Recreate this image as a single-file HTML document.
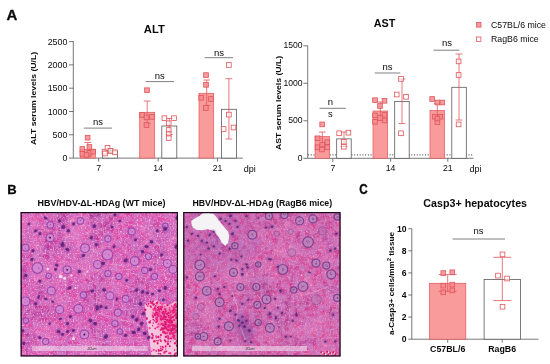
<!DOCTYPE html>
<html><head><meta charset="utf-8"><title>Figure</title>
<style>
html,body{margin:0;padding:0;background:#fff;}
body{width:550px;height:364px;overflow:hidden;}
svg{display:block;font-family:"Liberation Sans",Arial,sans-serif;}
</style></head><body>
<svg width="550" height="364" viewBox="0 0 550 364">
<rect width="550" height="364" fill="#fff"/>
<text x="6.6" y="20.2" font-size="15" text-anchor="start" font-weight="bold" fill="#0a0a0a" stroke="#0a0a0a" stroke-width="0.3">A</text>
<text x="7.3" y="193.9" font-size="13" text-anchor="start" font-weight="bold" fill="#0a0a0a" stroke="#0a0a0a" stroke-width="0.3">B</text>
<text x="359.2" y="194.1" font-size="14.6" text-anchor="start" font-weight="bold" fill="#0a0a0a" textLength="8.4" lengthAdjust="spacingAndGlyphs" stroke="#0a0a0a" stroke-width="0.35">C</text>
<text x="154.3" y="33.3" font-size="11.2" text-anchor="middle" font-weight="bold" fill="#0a0a0a">ALT</text>
<path d="M73.3 41V158.1H242.8" stroke="#555" stroke-width="0.8" fill="none"/>
<path d="M69 158.10H73.3" stroke="#555" stroke-width="0.8"/>
<text x="67.4" y="161.1" font-size="8.9" text-anchor="end" fill="#0a0a0a">0</text>
<path d="M69 134.80H73.3" stroke="#555" stroke-width="0.8"/>
<text x="67.4" y="137.79999999999998" font-size="8.9" text-anchor="end" fill="#0a0a0a">500</text>
<path d="M69 111.50H73.3" stroke="#555" stroke-width="0.8"/>
<text x="67.4" y="114.5" font-size="8.9" text-anchor="end" fill="#0a0a0a">1000</text>
<path d="M69 88.20H73.3" stroke="#555" stroke-width="0.8"/>
<text x="67.4" y="91.19999999999999" font-size="8.9" text-anchor="end" fill="#0a0a0a">1500</text>
<path d="M69 64.90H73.3" stroke="#555" stroke-width="0.8"/>
<text x="67.4" y="67.89999999999999" font-size="8.9" text-anchor="end" fill="#0a0a0a">2000</text>
<path d="M69 41.60H73.3" stroke="#555" stroke-width="0.8"/>
<text x="67.4" y="44.599999999999994" font-size="8.9" text-anchor="end" fill="#0a0a0a">2500</text>
<path d="M98.7 158.1V161.6" stroke="#555" stroke-width="0.8"/>
<text x="98.7" y="171.4" font-size="8.7" text-anchor="middle" fill="#0a0a0a">7</text>
<path d="M158.2 158.1V161.6" stroke="#555" stroke-width="0.8"/>
<text x="158.2" y="171.4" font-size="8.7" text-anchor="middle" fill="#0a0a0a">14</text>
<path d="M217.5 158.1V161.6" stroke="#555" stroke-width="0.8"/>
<text x="217.5" y="171.4" font-size="8.7" text-anchor="middle" fill="#0a0a0a">21</text>
<text x="249.8" y="171.6" font-size="9" text-anchor="middle" fill="#0a0a0a">dpi</text>
<text transform="translate(36.4,98.4) rotate(-90) scale(1,0.9)" font-size="8.65" font-weight="bold" text-anchor="middle" fill="#0a0a0a">ALT serum levels (U/L)</text>
<rect x="80.3" y="149.6" width="15.00" height="8.50" fill="#F99B9B" stroke="#E0555A" stroke-width="0.7"/>
<path d="M87.8 142.5V156.5M84.39999999999999 142.5H91.2M84.39999999999999 156.5H91.2" stroke="#E0555A" stroke-width="0.8" fill="none"/>
<rect x="85.25" y="135.35" width="4.7" height="4.7" fill="#F28C8F" fill-opacity="0.85" stroke="#E0555A" stroke-width="0.8"/>
<rect x="79.95" y="146.65" width="4.7" height="4.7" fill="#F28C8F" fill-opacity="0.85" stroke="#E0555A" stroke-width="0.8"/>
<rect x="79.95" y="151.45" width="4.7" height="4.7" fill="#F28C8F" fill-opacity="0.85" stroke="#E0555A" stroke-width="0.8"/>
<rect x="87.05" y="144.65" width="4.7" height="4.7" fill="#F28C8F" fill-opacity="0.85" stroke="#E0555A" stroke-width="0.8"/>
<rect x="87.05" y="150.45" width="4.7" height="4.7" fill="#F28C8F" fill-opacity="0.85" stroke="#E0555A" stroke-width="0.8"/>
<rect x="90.85" y="149.25" width="4.7" height="4.7" fill="#F28C8F" fill-opacity="0.85" stroke="#E0555A" stroke-width="0.8"/>
<rect x="84.15" y="152.65" width="4.7" height="4.7" fill="#F28C8F" fill-opacity="0.85" stroke="#E0555A" stroke-width="0.8"/>
<rect x="102.4" y="151" width="15.00" height="7.10" fill="#fff" stroke="#5a5a5a" stroke-width="0.8"/>
<path d="M109.9 148.8V153.2M106.5 148.8H113.30000000000001M106.5 153.2H113.30000000000001" stroke="#E0555A" stroke-width="0.8" fill="none"/>
<rect x="102.15" y="149.25" width="4.7" height="4.7" fill="#fff" fill-opacity="0.6" stroke="#E0555A" stroke-width="0.8"/>
<rect x="105.15" y="145.45" width="4.7" height="4.7" fill="#fff" fill-opacity="0.6" stroke="#E0555A" stroke-width="0.8"/>
<rect x="108.15" y="148.45" width="4.7" height="4.7" fill="#fff" fill-opacity="0.6" stroke="#E0555A" stroke-width="0.8"/>
<rect x="112.65" y="149.95" width="4.7" height="4.7" fill="#fff" fill-opacity="0.6" stroke="#E0555A" stroke-width="0.8"/>
<rect x="102.65" y="151.15" width="4.7" height="4.7" fill="#fff" fill-opacity="0.6" stroke="#E0555A" stroke-width="0.8"/>
<text x="98.1" y="125.2" font-size="9.5" text-anchor="middle" fill="#0a0a0a">ns</text>
<path d="M83.8 128.1H112" stroke="#808080" stroke-width="1"/>
<rect x="139.7" y="112.3" width="15.00" height="45.80" fill="#F99B9B" stroke="#E0555A" stroke-width="0.7"/>
<path d="M147.2 101V123.5M143.79999999999998 101H150.6M143.79999999999998 123.5H150.6" stroke="#E0555A" stroke-width="0.8" fill="none"/>
<rect x="144.65" y="87.85" width="4.7" height="4.7" fill="#F28C8F" fill-opacity="0.85" stroke="#E0555A" stroke-width="0.8"/>
<rect x="139.65" y="112.55" width="4.7" height="4.7" fill="#F28C8F" fill-opacity="0.85" stroke="#E0555A" stroke-width="0.8"/>
<rect x="144.15" y="115.05" width="4.7" height="4.7" fill="#F28C8F" fill-opacity="0.85" stroke="#E0555A" stroke-width="0.8"/>
<rect x="149.65" y="114.55" width="4.7" height="4.7" fill="#F28C8F" fill-opacity="0.85" stroke="#E0555A" stroke-width="0.8"/>
<rect x="144.15" y="122.65" width="4.7" height="4.7" fill="#F28C8F" fill-opacity="0.85" stroke="#E0555A" stroke-width="0.8"/>
<rect x="161.8" y="126" width="15.00" height="32.10" fill="#fff" stroke="#5a5a5a" stroke-width="0.8"/>
<path d="M169.3 118.5V134.5M165.9 118.5H172.70000000000002M165.9 134.5H172.70000000000002" stroke="#E0555A" stroke-width="0.8" fill="none"/>
<rect x="162.05" y="115.85" width="4.7" height="4.7" fill="#fff" fill-opacity="0.6" stroke="#E0555A" stroke-width="0.8"/>
<rect x="171.65" y="115.85" width="4.7" height="4.7" fill="#fff" fill-opacity="0.6" stroke="#E0555A" stroke-width="0.8"/>
<rect x="166.35" y="120.95" width="4.7" height="4.7" fill="#fff" fill-opacity="0.6" stroke="#E0555A" stroke-width="0.8"/>
<rect x="166.35" y="127.65" width="4.7" height="4.7" fill="#fff" fill-opacity="0.6" stroke="#E0555A" stroke-width="0.8"/>
<rect x="166.35" y="131.65" width="4.7" height="4.7" fill="#fff" fill-opacity="0.6" stroke="#E0555A" stroke-width="0.8"/>
<rect x="166.35" y="135.65" width="4.7" height="4.7" fill="#fff" fill-opacity="0.6" stroke="#E0555A" stroke-width="0.8"/>
<text x="159.8" y="78.8" font-size="9.5" text-anchor="middle" fill="#0a0a0a">ns</text>
<path d="M145.8 81.6H174" stroke="#808080" stroke-width="1"/>
<rect x="199.0" y="93.3" width="14.70" height="64.80" fill="#F99B9B" stroke="#E0555A" stroke-width="0.7"/>
<path d="M206.7 80V105.4M203.29999999999998 80H210.1M203.29999999999998 105.4H210.1" stroke="#E0555A" stroke-width="0.8" fill="none"/>
<rect x="203.65" y="72.75" width="4.7" height="4.7" fill="#F28C8F" fill-opacity="0.85" stroke="#E0555A" stroke-width="0.8"/>
<rect x="203.65" y="82.45" width="4.7" height="4.7" fill="#F28C8F" fill-opacity="0.85" stroke="#E0555A" stroke-width="0.8"/>
<rect x="198.85" y="95.45" width="4.7" height="4.7" fill="#F28C8F" fill-opacity="0.85" stroke="#E0555A" stroke-width="0.8"/>
<rect x="208.65" y="96.65" width="4.7" height="4.7" fill="#F28C8F" fill-opacity="0.85" stroke="#E0555A" stroke-width="0.8"/>
<rect x="203.45" y="105.65" width="4.7" height="4.7" fill="#F28C8F" fill-opacity="0.85" stroke="#E0555A" stroke-width="0.8"/>
<rect x="221.4" y="109.3" width="15.10" height="48.80" fill="#fff" stroke="#5a5a5a" stroke-width="0.8"/>
<path d="M228.9 78.7V139M225.5 78.7H232.3M225.5 139H232.3" stroke="#E0555A" stroke-width="0.8" fill="none"/>
<rect x="226.55" y="62.65" width="4.7" height="4.7" fill="#fff" fill-opacity="0.6" stroke="#E0555A" stroke-width="0.8"/>
<rect x="226.55" y="112.25" width="4.7" height="4.7" fill="#fff" fill-opacity="0.6" stroke="#E0555A" stroke-width="0.8"/>
<rect x="221.25" y="126.65" width="4.7" height="4.7" fill="#fff" fill-opacity="0.6" stroke="#E0555A" stroke-width="0.8"/>
<rect x="231.15" y="125.15" width="4.7" height="4.7" fill="#fff" fill-opacity="0.6" stroke="#E0555A" stroke-width="0.8"/>
<text x="219" y="55.5" font-size="9.5" text-anchor="middle" fill="#0a0a0a">ns</text>
<path d="M204.6 57.7H233" stroke="#808080" stroke-width="1"/>
<text x="384.5" y="27.3" font-size="10.8" text-anchor="middle" font-weight="bold" fill="#0a0a0a">AST</text>
<path d="M307.7 45.5V158.3H473.5" stroke="#555" stroke-width="0.8" fill="none"/>
<path d="M303.4 158.30H307.7" stroke="#555" stroke-width="0.8"/>
<text x="302.6" y="160.8" font-size="8.6" text-anchor="end" fill="#0a0a0a">0</text>
<path d="M303.4 120.80H307.7" stroke="#555" stroke-width="0.8"/>
<text x="302.6" y="123.30000000000001" font-size="8.6" text-anchor="end" fill="#0a0a0a">500</text>
<path d="M303.4 83.30H307.7" stroke="#555" stroke-width="0.8"/>
<text x="302.6" y="85.80000000000001" font-size="8.6" text-anchor="end" fill="#0a0a0a">1000</text>
<path d="M303.4 45.80H307.7" stroke="#555" stroke-width="0.8"/>
<text x="302.6" y="48.30000000000001" font-size="8.6" text-anchor="end" fill="#0a0a0a">1500</text>
<path d="M332.8 158.3V161.8" stroke="#555" stroke-width="0.8"/>
<text x="332.8" y="171.4" font-size="8.7" text-anchor="middle" fill="#0a0a0a">7</text>
<path d="M390.6 158.3V161.8" stroke="#555" stroke-width="0.8"/>
<text x="390.6" y="171.4" font-size="8.7" text-anchor="middle" fill="#0a0a0a">14</text>
<path d="M447.8 158.3V161.8" stroke="#555" stroke-width="0.8"/>
<text x="447.8" y="171.4" font-size="8.7" text-anchor="middle" fill="#0a0a0a">21</text>
<text x="475.6" y="171.6" font-size="9" text-anchor="middle" fill="#0a0a0a">dpi</text>
<text transform="translate(280.5,102.9) rotate(-90) scale(1,0.9)" font-size="8.65" font-weight="bold" text-anchor="middle" fill="#0a0a0a">AST serum levels (U/L)</text>
<path d="M308 154.9H473" stroke="#333" stroke-width="1" stroke-dasharray="1 1.72"/>
<rect x="315" y="136.6" width="14.60" height="21.70" fill="#F99B9B" stroke="#E0555A" stroke-width="0.7"/>
<path d="M322.3 132V146.5M318.90000000000003 132H325.7M318.90000000000003 146.5H325.7" stroke="#E0555A" stroke-width="0.8" fill="none"/>
<rect x="319.85" y="122.05" width="4.7" height="4.7" fill="#F28C8F" fill-opacity="0.85" stroke="#E0555A" stroke-width="0.8"/>
<rect x="315.25" y="135.95" width="4.7" height="4.7" fill="#F28C8F" fill-opacity="0.85" stroke="#E0555A" stroke-width="0.8"/>
<rect x="315.25" y="144.95" width="4.7" height="4.7" fill="#F28C8F" fill-opacity="0.85" stroke="#E0555A" stroke-width="0.8"/>
<rect x="319.85" y="142.35" width="4.7" height="4.7" fill="#F28C8F" fill-opacity="0.85" stroke="#E0555A" stroke-width="0.8"/>
<rect x="324.95" y="139.85" width="4.7" height="4.7" fill="#F28C8F" fill-opacity="0.85" stroke="#E0555A" stroke-width="0.8"/>
<rect x="324.95" y="144.95" width="4.7" height="4.7" fill="#F28C8F" fill-opacity="0.85" stroke="#E0555A" stroke-width="0.8"/>
<rect x="319.65" y="147.15" width="4.7" height="4.7" fill="#F28C8F" fill-opacity="0.85" stroke="#E0555A" stroke-width="0.8"/>
<rect x="336.7" y="138.9" width="14.50" height="19.40" fill="#fff" stroke="#5a5a5a" stroke-width="0.8"/>
<path d="M344 132V146.5M340.6 132H347.4M340.6 146.5H347.4" stroke="#E0555A" stroke-width="0.8" fill="none"/>
<rect x="336.85" y="130.95" width="4.7" height="4.7" fill="#fff" fill-opacity="0.6" stroke="#E0555A" stroke-width="0.8"/>
<rect x="346.05" y="130.35" width="4.7" height="4.7" fill="#fff" fill-opacity="0.6" stroke="#E0555A" stroke-width="0.8"/>
<rect x="341.45" y="139.35" width="4.7" height="4.7" fill="#fff" fill-opacity="0.6" stroke="#E0555A" stroke-width="0.8"/>
<rect x="341.45" y="144.35" width="4.7" height="4.7" fill="#fff" fill-opacity="0.6" stroke="#E0555A" stroke-width="0.8"/>
<text x="330.3" y="105.4" font-size="9.5" text-anchor="middle" fill="#0a0a0a">n</text>
<path d="M319.6 108.3H345.8" stroke="#808080" stroke-width="1"/>
<text x="330.3" y="116.6" font-size="9.5" text-anchor="middle" fill="#0a0a0a">s</text>
<rect x="373" y="111" width="14.60" height="47.30" fill="#F99B9B" stroke="#E0555A" stroke-width="0.7"/>
<path d="M380.3 102V120M376.90000000000003 102H383.7M376.90000000000003 120H383.7" stroke="#E0555A" stroke-width="0.8" fill="none"/>
<rect x="372.65" y="97.85" width="4.7" height="4.7" fill="#F28C8F" fill-opacity="0.85" stroke="#E0555A" stroke-width="0.8"/>
<rect x="382.15" y="98.45" width="4.7" height="4.7" fill="#F28C8F" fill-opacity="0.85" stroke="#E0555A" stroke-width="0.8"/>
<rect x="377.65" y="103.65" width="4.7" height="4.7" fill="#F28C8F" fill-opacity="0.85" stroke="#E0555A" stroke-width="0.8"/>
<rect x="372.65" y="113.05" width="4.7" height="4.7" fill="#F28C8F" fill-opacity="0.85" stroke="#E0555A" stroke-width="0.8"/>
<rect x="382.15" y="112.35" width="4.7" height="4.7" fill="#F28C8F" fill-opacity="0.85" stroke="#E0555A" stroke-width="0.8"/>
<rect x="372.65" y="119.45" width="4.7" height="4.7" fill="#F28C8F" fill-opacity="0.85" stroke="#E0555A" stroke-width="0.8"/>
<rect x="382.15" y="118.15" width="4.7" height="4.7" fill="#F28C8F" fill-opacity="0.85" stroke="#E0555A" stroke-width="0.8"/>
<rect x="377.65" y="115.65" width="4.7" height="4.7" fill="#F28C8F" fill-opacity="0.85" stroke="#E0555A" stroke-width="0.8"/>
<rect x="394.7" y="101.5" width="14.50" height="56.80" fill="#fff" stroke="#5a5a5a" stroke-width="0.8"/>
<path d="M402 79V123.6M398.6 79H405.4M398.6 123.6H405.4" stroke="#E0555A" stroke-width="0.8" fill="none"/>
<rect x="398.65" y="76.55" width="4.7" height="4.7" fill="#fff" fill-opacity="0.6" stroke="#E0555A" stroke-width="0.8"/>
<rect x="394.35" y="92.15" width="4.7" height="4.7" fill="#fff" fill-opacity="0.6" stroke="#E0555A" stroke-width="0.8"/>
<rect x="403.65" y="94.45" width="4.7" height="4.7" fill="#fff" fill-opacity="0.6" stroke="#E0555A" stroke-width="0.8"/>
<rect x="398.65" y="130.95" width="4.7" height="4.7" fill="#fff" fill-opacity="0.6" stroke="#E0555A" stroke-width="0.8"/>
<text x="387.6" y="70.2" font-size="9.5" text-anchor="middle" fill="#0a0a0a">ns</text>
<path d="M374.8 73H400.3" stroke="#808080" stroke-width="1"/>
<rect x="430" y="110.5" width="14.50" height="47.80" fill="#F99B9B" stroke="#E0555A" stroke-width="0.7"/>
<path d="M437.3 103.6V118M433.90000000000003 103.6H440.7M433.90000000000003 118H440.7" stroke="#E0555A" stroke-width="0.8" fill="none"/>
<rect x="429.85" y="96.65" width="4.7" height="4.7" fill="#F28C8F" fill-opacity="0.85" stroke="#E0555A" stroke-width="0.8"/>
<rect x="435.05" y="100.15" width="4.7" height="4.7" fill="#F28C8F" fill-opacity="0.85" stroke="#E0555A" stroke-width="0.8"/>
<rect x="439.95" y="100.15" width="4.7" height="4.7" fill="#F28C8F" fill-opacity="0.85" stroke="#E0555A" stroke-width="0.8"/>
<rect x="432.65" y="114.35" width="4.7" height="4.7" fill="#F28C8F" fill-opacity="0.85" stroke="#E0555A" stroke-width="0.8"/>
<rect x="438.05" y="114.35" width="4.7" height="4.7" fill="#F28C8F" fill-opacity="0.85" stroke="#E0555A" stroke-width="0.8"/>
<rect x="435.05" y="119.85" width="4.7" height="4.7" fill="#F28C8F" fill-opacity="0.85" stroke="#E0555A" stroke-width="0.8"/>
<rect x="435.05" y="116.15" width="4.7" height="4.7" fill="#F28C8F" fill-opacity="0.85" stroke="#E0555A" stroke-width="0.8"/>
<rect x="451.8" y="87.3" width="14.50" height="71.00" fill="#fff" stroke="#5a5a5a" stroke-width="0.8"/>
<path d="M459 54V120M455.6 54H462.4M455.6 120H462.4" stroke="#E0555A" stroke-width="0.8" fill="none"/>
<rect x="456.25" y="59.05" width="4.7" height="4.7" fill="#fff" fill-opacity="0.6" stroke="#E0555A" stroke-width="0.8"/>
<rect x="456.25" y="72.65" width="4.7" height="4.7" fill="#fff" fill-opacity="0.6" stroke="#E0555A" stroke-width="0.8"/>
<rect x="456.25" y="122.05" width="4.7" height="4.7" fill="#fff" fill-opacity="0.6" stroke="#E0555A" stroke-width="0.8"/>
<text x="446.9" y="46.4" font-size="9.5" text-anchor="middle" fill="#0a0a0a">ns</text>
<path d="M433.5 50.2H459.5" stroke="#808080" stroke-width="1"/>
<rect x="476.40" y="22.50" width="4.6" height="4.6" fill="#F28C8F" fill-opacity="0.85" stroke="#E0555A" stroke-width="0.8"/>
<rect x="476.50" y="37.00" width="4.4" height="4.4" fill="#fff" fill-opacity="0.6" stroke="#E0555A" stroke-width="0.8"/>
<text x="491" y="27.6" font-size="8.75" text-anchor="start" fill="#0a0a0a">C57BL/6 mice</text>
<text x="491" y="41.5" font-size="8.75" text-anchor="start" fill="#0a0a0a">RagB6 mice</text>
<text x="475.2" y="206.8" font-size="10.7" text-anchor="middle" font-weight="bold" fill="#0a0a0a">Casp3+ hepatocytes</text>
<path d="M411.8 228.7V339.2H538.5" stroke="#555" stroke-width="0.8" fill="none"/>
<path d="M408.3 339.20H411.8" stroke="#555" stroke-width="0.8"/>
<text x="406.6" y="342.3" font-size="8.6" text-anchor="end" font-weight="bold" fill="#0a0a0a">0</text>
<path d="M408.3 317.10H411.8" stroke="#555" stroke-width="0.8"/>
<text x="406.6" y="320.2" font-size="8.6" text-anchor="end" font-weight="bold" fill="#0a0a0a">2</text>
<path d="M408.3 295.00H411.8" stroke="#555" stroke-width="0.8"/>
<text x="406.6" y="298.1" font-size="8.6" text-anchor="end" font-weight="bold" fill="#0a0a0a">4</text>
<path d="M408.3 272.90H411.8" stroke="#555" stroke-width="0.8"/>
<text x="406.6" y="276.0" font-size="8.6" text-anchor="end" font-weight="bold" fill="#0a0a0a">6</text>
<path d="M408.3 250.80H411.8" stroke="#555" stroke-width="0.8"/>
<text x="406.6" y="253.89999999999998" font-size="8.6" text-anchor="end" font-weight="bold" fill="#0a0a0a">8</text>
<path d="M408.3 228.70H411.8" stroke="#555" stroke-width="0.8"/>
<text x="406.6" y="231.79999999999998" font-size="8.6" text-anchor="end" font-weight="bold" fill="#0a0a0a">10</text>
<path d="M447.7 339.2V342.7" stroke="#555" stroke-width="0.8"/>
<text x="447.7" y="352.3" font-size="8.8" text-anchor="middle" font-weight="bold" fill="#0a0a0a">C57BL/6</text>
<path d="M502.2 339.2V342.7" stroke="#555" stroke-width="0.8"/>
<text x="502.2" y="352.3" font-size="8.8" text-anchor="middle" font-weight="bold" fill="#0a0a0a">RagB6</text>
<text transform="translate(394,283.5) rotate(-90) scale(1,0.9)" font-size="8.17" font-weight="bold" text-anchor="middle" fill="#0a0a0a">a-Casp3+ cells/mm<tspan dy="-3" font-size="6">2</tspan><tspan dy="3"> tissue</tspan></text>
<rect x="429.4" y="283.3" width="36.40" height="55.90" fill="#F99B9B" stroke="#E0555A" stroke-width="0.7"/>
<path d="M447.7 274.6V291.3M438.7 274.6H456.7M438.7 291.3H456.7" stroke="#E0555A" stroke-width="0.8" fill="none"/>
<rect x="440.95" y="270.75" width="4.7" height="4.7" fill="#F28C8F" fill-opacity="0.85" stroke="#E0555A" stroke-width="0.8"/>
<rect x="449.95" y="269.95" width="4.7" height="4.7" fill="#F28C8F" fill-opacity="0.85" stroke="#E0555A" stroke-width="0.8"/>
<rect x="440.95" y="283.25" width="4.7" height="4.7" fill="#F28C8F" fill-opacity="0.85" stroke="#E0555A" stroke-width="0.8"/>
<rect x="449.95" y="282.25" width="4.7" height="4.7" fill="#F28C8F" fill-opacity="0.85" stroke="#E0555A" stroke-width="0.8"/>
<rect x="440.95" y="289.95" width="4.7" height="4.7" fill="#F28C8F" fill-opacity="0.85" stroke="#E0555A" stroke-width="0.8"/>
<rect x="449.95" y="288.05" width="4.7" height="4.7" fill="#F28C8F" fill-opacity="0.85" stroke="#E0555A" stroke-width="0.8"/>
<rect x="484.1" y="279.4" width="36.40" height="59.80" fill="#fff" stroke="#5a5a5a" stroke-width="0.8"/>
<path d="M502.3 257.3V300.6M493.3 257.3H511.3M493.3 300.6H511.3" stroke="#E0555A" stroke-width="0.8" fill="none"/>
<rect x="500.15" y="252.05" width="4.7" height="4.7" fill="#fff" fill-opacity="0.6" stroke="#E0555A" stroke-width="0.8"/>
<rect x="495.65" y="273.25" width="4.7" height="4.7" fill="#fff" fill-opacity="0.6" stroke="#E0555A" stroke-width="0.8"/>
<rect x="504.75" y="276.15" width="4.7" height="4.7" fill="#fff" fill-opacity="0.6" stroke="#E0555A" stroke-width="0.8"/>
<rect x="500.15" y="304.35" width="4.7" height="4.7" fill="#fff" fill-opacity="0.6" stroke="#E0555A" stroke-width="0.8"/>
<text x="478.6" y="234" font-size="9.5" text-anchor="middle" fill="#0a0a0a">ns</text>
<path d="M452.5 239H505" stroke="#808080" stroke-width="1"/>
<defs>
<clipPath id="c1"><rect x="20.6" y="212.0" width="157.4" height="144.5"/></clipPath>
<clipPath id="c2"><rect x="183.2" y="212.0" width="157.4" height="144.5"/></clipPath>
<filter id="b1" x="-20%" y="-20%" width="140%" height="140%"><feGaussianBlur stdDeviation="0.65"/></filter>
<filter id="b3" x="-20%" y="-20%" width="140%" height="140%"><feGaussianBlur stdDeviation="2.5"/></filter>
<filter id="t1" x="0" y="0" width="100%" height="100%"><feTurbulence type="fractalNoise" baseFrequency="0.22" numOctaves="3" seed="3" result="n"/><feColorMatrix in="n" type="matrix" values="0 0 0 0 0.97  0 0 0 0 0.62  0 0 0 0 0.84  2.4 0 0 0 -1.0"/></filter>
<filter id="t1d" x="0" y="0" width="100%" height="100%"><feTurbulence type="fractalNoise" baseFrequency="0.18" numOctaves="3" seed="11" result="n"/><feColorMatrix in="n" type="matrix" values="0 0 0 0 0.66  0 0 0 0 0.17  0 0 0 0 0.55  0 3.0 0 0 -1.0"/></filter>
<filter id="t2d" x="0" y="0" width="100%" height="100%"><feTurbulence type="fractalNoise" baseFrequency="0.18" numOctaves="3" seed="17" result="n"/><feColorMatrix in="n" type="matrix" values="0 0 0 0 0.62  0 0 0 0 0.19  0 0 0 0 0.50  0 3.0 0 0 -1.0"/></filter>
<filter id="t1h" x="0" y="0" width="100%" height="100%"><feTurbulence type="fractalNoise" baseFrequency="0.75" numOctaves="1" seed="41" result="n"/><feColorMatrix in="n" type="matrix" values="0 0 0 0 1  0 0 0 0 0.82  0 0 0 0 0.94  3.4 0 0 0 -1.75"/></filter>
<filter id="t1p" x="0" y="0" width="100%" height="100%"><feTurbulence type="fractalNoise" baseFrequency="0.33" numOctaves="2" seed="29" result="n"/><feColorMatrix in="n" type="matrix" values="0 0 0 0 0.50  0 0 0 0 0.17  0 0 0 0 0.58  0 0 3.2 0 -1.55"/></filter>
</defs>
<g clip-path="url(#c1)">
<rect x="20.6" y="212.0" width="157.4" height="144.5" fill="#DE40A0"/>
<g filter="url(#b3)">
<ellipse cx="71.6" cy="233.8" rx="9.6" ry="5.5" fill="#EE74BE" opacity="0.55"/>
<ellipse cx="78.2" cy="220.4" rx="8.6" ry="5.3" fill="#EE74BE" opacity="0.55"/>
<ellipse cx="31.6" cy="225.1" rx="8.0" ry="10.8" fill="#EE74BE" opacity="0.55"/>
<ellipse cx="55.7" cy="302.7" rx="11.6" ry="9.0" fill="#EE74BE" opacity="0.55"/>
<ellipse cx="174.3" cy="218.7" rx="11.0" ry="7.0" fill="#EE74BE" opacity="0.55"/>
<ellipse cx="39.1" cy="256.6" rx="10.7" ry="6.3" fill="#B22A8C" opacity="0.55"/>
<ellipse cx="121.2" cy="265.8" rx="8.8" ry="5.4" fill="#EE74BE" opacity="0.55"/>
<ellipse cx="53.0" cy="310.3" rx="8.0" ry="7.2" fill="#B22A8C" opacity="0.55"/>
<ellipse cx="91.9" cy="255.3" rx="10.6" ry="9.9" fill="#EE74BE" opacity="0.55"/>
<ellipse cx="111.0" cy="287.9" rx="11.1" ry="10.1" fill="#EE74BE" opacity="0.55"/>
<ellipse cx="174.9" cy="229.1" rx="7.9" ry="10.3" fill="#EE74BE" opacity="0.55"/>
<ellipse cx="97.6" cy="217.7" rx="9.7" ry="10.4" fill="#B22A8C" opacity="0.55"/>
<ellipse cx="158.4" cy="257.3" rx="9.9" ry="9.2" fill="#B22A8C" opacity="0.55"/>
<ellipse cx="92.4" cy="333.4" rx="11.6" ry="8.3" fill="#B22A8C" opacity="0.55"/>
<ellipse cx="30.1" cy="313.4" rx="9.5" ry="12.0" fill="#B22A8C" opacity="0.55"/>
<ellipse cx="65.4" cy="267.7" rx="9.7" ry="5.2" fill="#EE74BE" opacity="0.55"/>
<ellipse cx="47.1" cy="228.9" rx="5.4" ry="10.4" fill="#EE74BE" opacity="0.55"/>
<ellipse cx="59.6" cy="268.5" rx="11.1" ry="5.6" fill="#EE74BE" opacity="0.55"/>
<ellipse cx="107.1" cy="339.6" rx="10.7" ry="11.0" fill="#EE74BE" opacity="0.55"/>
<ellipse cx="86.0" cy="263.8" rx="11.2" ry="11.7" fill="#EE74BE" opacity="0.55"/>
<ellipse cx="48.3" cy="245.5" rx="6.6" ry="8.4" fill="#B22A8C" opacity="0.55"/>
<ellipse cx="62.0" cy="212.6" rx="7.9" ry="7.6" fill="#B22A8C" opacity="0.55"/>
<ellipse cx="170.6" cy="311.8" rx="8.6" ry="9.3" fill="#B22A8C" opacity="0.55"/>
<ellipse cx="29.1" cy="342.0" rx="10.5" ry="11.1" fill="#B22A8C" opacity="0.55"/>
<ellipse cx="82.4" cy="269.7" rx="5.7" ry="9.4" fill="#EE74BE" opacity="0.55"/>
<ellipse cx="31.2" cy="242.2" rx="6.1" ry="7.4" fill="#EE74BE" opacity="0.55"/>
<ellipse cx="20.6" cy="233.9" rx="5.7" ry="7.5" fill="#EE74BE" opacity="0.55"/>
<ellipse cx="158.2" cy="300.7" rx="6.0" ry="6.8" fill="#EE74BE" opacity="0.55"/>
<ellipse cx="77.9" cy="229.8" rx="10.9" ry="12.0" fill="#EE74BE" opacity="0.55"/>
<ellipse cx="96.8" cy="224.4" rx="5.7" ry="7.4" fill="#EE74BE" opacity="0.55"/>
<ellipse cx="151.1" cy="235.3" rx="5.2" ry="11.7" fill="#EE74BE" opacity="0.55"/>
<ellipse cx="43.7" cy="290.5" rx="5.2" ry="8.7" fill="#B22A8C" opacity="0.55"/>
<ellipse cx="156.5" cy="312.6" rx="6.8" ry="7.6" fill="#EE74BE" opacity="0.55"/>
<ellipse cx="142.1" cy="289.0" rx="10.5" ry="7.3" fill="#EE74BE" opacity="0.55"/>
<ellipse cx="148.3" cy="354.3" rx="11.0" ry="10.6" fill="#B22A8C" opacity="0.55"/>
<ellipse cx="137.1" cy="244.8" rx="8.6" ry="7.5" fill="#EE74BE" opacity="0.55"/>
<ellipse cx="25.0" cy="252.4" rx="6.8" ry="9.8" fill="#B22A8C" opacity="0.55"/>
<ellipse cx="91.0" cy="347.4" rx="11.9" ry="11.7" fill="#EE74BE" opacity="0.55"/>
<ellipse cx="55.3" cy="244.8" rx="6.4" ry="6.4" fill="#B22A8C" opacity="0.55"/>
<ellipse cx="162.3" cy="333.4" rx="8.4" ry="9.6" fill="#B22A8C" opacity="0.55"/>
<ellipse cx="33.9" cy="307.5" rx="11.4" ry="10.5" fill="#B22A8C" opacity="0.55"/>
<ellipse cx="95.8" cy="237.8" rx="10.5" ry="7.3" fill="#B22A8C" opacity="0.55"/>
<ellipse cx="173.5" cy="269.2" rx="7.8" ry="11.6" fill="#B22A8C" opacity="0.55"/>
<ellipse cx="47.4" cy="230.4" rx="6.1" ry="11.3" fill="#B22A8C" opacity="0.55"/>
<ellipse cx="43.6" cy="331.4" rx="11.9" ry="9.6" fill="#EE74BE" opacity="0.55"/>
<ellipse cx="107.0" cy="230.9" rx="5.1" ry="11.8" fill="#B22A8C" opacity="0.55"/>
<ellipse cx="103.5" cy="346.9" rx="8.0" ry="11.1" fill="#B22A8C" opacity="0.55"/>
<ellipse cx="53.8" cy="248.4" rx="7.1" ry="6.7" fill="#B22A8C" opacity="0.55"/>
<ellipse cx="61.4" cy="272.5" rx="5.9" ry="11.4" fill="#EE74BE" opacity="0.55"/>
<ellipse cx="92.7" cy="296.3" rx="11.3" ry="7.9" fill="#B22A8C" opacity="0.55"/>
<ellipse cx="99.6" cy="288.8" rx="8.7" ry="5.1" fill="#EE74BE" opacity="0.55"/>
<ellipse cx="49.4" cy="212.6" rx="10.6" ry="6.2" fill="#EE74BE" opacity="0.55"/>
<ellipse cx="134.7" cy="292.4" rx="7.3" ry="8.6" fill="#B22A8C" opacity="0.55"/>
<ellipse cx="144.0" cy="227.3" rx="8.9" ry="6.7" fill="#EE74BE" opacity="0.55"/>
<ellipse cx="142.2" cy="285.4" rx="8.9" ry="10.3" fill="#B22A8C" opacity="0.55"/>
<ellipse cx="90.4" cy="300.5" rx="8.5" ry="8.6" fill="#B22A8C" opacity="0.55"/>
<ellipse cx="91.8" cy="289.1" rx="8.3" ry="11.6" fill="#B22A8C" opacity="0.55"/>
<ellipse cx="158.6" cy="348.1" rx="6.8" ry="8.9" fill="#B22A8C" opacity="0.55"/>
<ellipse cx="152.8" cy="231.8" rx="5.9" ry="8.1" fill="#EE74BE" opacity="0.55"/>
<ellipse cx="58.5" cy="222.6" rx="9.7" ry="10.5" fill="#B22A8C" opacity="0.55"/>
<ellipse cx="44.9" cy="315.5" rx="9.6" ry="6.0" fill="#B22A8C" opacity="0.55"/>
<ellipse cx="172.9" cy="243.7" rx="11.7" ry="7.8" fill="#EE74BE" opacity="0.55"/>
<ellipse cx="176.4" cy="332.3" rx="6.1" ry="8.0" fill="#EE74BE" opacity="0.55"/>
<ellipse cx="74.0" cy="240.3" rx="7.2" ry="10.1" fill="#EE74BE" opacity="0.55"/>
<ellipse cx="107.8" cy="275.6" rx="5.1" ry="7.3" fill="#B22A8C" opacity="0.55"/>
<ellipse cx="101.2" cy="221.3" rx="11.9" ry="10.5" fill="#B22A8C" opacity="0.55"/>
<ellipse cx="37.1" cy="250.4" rx="5.3" ry="10.5" fill="#EE74BE" opacity="0.55"/>
<ellipse cx="41.0" cy="273.0" rx="11.4" ry="10.7" fill="#EE74BE" opacity="0.55"/>
<ellipse cx="44.1" cy="344.8" rx="9.0" ry="9.9" fill="#EE74BE" opacity="0.55"/>
<ellipse cx="29.7" cy="311.4" rx="8.0" ry="5.5" fill="#B22A8C" opacity="0.55"/>
<ellipse cx="120.5" cy="327.8" rx="3.4" ry="7.3" fill="#8E40A2" opacity="0.4"/>
<ellipse cx="31.1" cy="336.7" rx="5.3" ry="4.7" fill="#8E40A2" opacity="0.4"/>
<ellipse cx="107.7" cy="345.9" rx="4.3" ry="3.6" fill="#8E40A2" opacity="0.4"/>
<ellipse cx="103.5" cy="246.5" rx="3.5" ry="3.8" fill="#8E40A2" opacity="0.4"/>
<ellipse cx="28.5" cy="241.2" rx="4.6" ry="4.5" fill="#8E40A2" opacity="0.4"/>
<ellipse cx="140.1" cy="253.9" rx="5.5" ry="3.9" fill="#8E40A2" opacity="0.4"/>
<ellipse cx="75.2" cy="214.6" rx="4.3" ry="3.1" fill="#8E40A2" opacity="0.4"/>
<ellipse cx="136.0" cy="291.6" rx="3.9" ry="5.4" fill="#8E40A2" opacity="0.4"/>
<ellipse cx="167.7" cy="227.4" rx="7.1" ry="5.2" fill="#8E40A2" opacity="0.4"/>
<ellipse cx="98.5" cy="332.6" rx="5.0" ry="5.5" fill="#8E40A2" opacity="0.4"/>
<ellipse cx="128.9" cy="354.0" rx="4.7" ry="7.2" fill="#8E40A2" opacity="0.4"/>
<ellipse cx="131.8" cy="303.9" rx="5.0" ry="4.7" fill="#8E40A2" opacity="0.4"/>
<ellipse cx="29.2" cy="230.8" rx="3.4" ry="6.7" fill="#8E40A2" opacity="0.4"/>
<ellipse cx="60.8" cy="235.6" rx="3.4" ry="7.2" fill="#8E40A2" opacity="0.4"/>
<ellipse cx="157.6" cy="308.9" rx="4.4" ry="4.2" fill="#8E40A2" opacity="0.4"/>
<ellipse cx="66.7" cy="278.4" rx="3.8" ry="5.2" fill="#8E40A2" opacity="0.4"/>
<ellipse cx="62.0" cy="351.0" rx="7.9" ry="5.7" fill="#8E40A2" opacity="0.4"/>
<ellipse cx="59.1" cy="351.5" rx="4.5" ry="4.8" fill="#8E40A2" opacity="0.4"/>
<ellipse cx="20.8" cy="267.1" rx="5.4" ry="5.5" fill="#8E40A2" opacity="0.4"/>
<ellipse cx="52.2" cy="284.9" rx="3.0" ry="4.3" fill="#8E40A2" opacity="0.4"/>
<ellipse cx="34.7" cy="269.7" rx="3.2" ry="3.1" fill="#8E40A2" opacity="0.4"/>
<ellipse cx="68.5" cy="245.6" rx="5.9" ry="5.6" fill="#8E40A2" opacity="0.4"/>
<ellipse cx="138.7" cy="307.0" rx="6.6" ry="7.4" fill="#8E40A2" opacity="0.4"/>
<ellipse cx="81.9" cy="259.1" rx="7.9" ry="3.7" fill="#8E40A2" opacity="0.4"/>
<ellipse cx="134.6" cy="304.9" rx="3.2" ry="7.2" fill="#8E40A2" opacity="0.4"/>
<ellipse cx="161.0" cy="302.6" rx="6.7" ry="7.1" fill="#8E40A2" opacity="0.4"/>
<ellipse cx="42.5" cy="287.7" rx="5.5" ry="7.2" fill="#8E40A2" opacity="0.4"/>
<ellipse cx="147.3" cy="331.4" rx="5.9" ry="7.5" fill="#8E40A2" opacity="0.4"/>
<ellipse cx="128.1" cy="312.2" rx="4.1" ry="3.2" fill="#8E40A2" opacity="0.4"/>
<ellipse cx="41.5" cy="264.1" rx="3.5" ry="7.2" fill="#8E40A2" opacity="0.4"/>
<ellipse cx="108.5" cy="302.7" rx="6.1" ry="6.4" fill="#8E40A2" opacity="0.4"/>
<ellipse cx="97.6" cy="212.5" rx="7.0" ry="6.7" fill="#8E40A2" opacity="0.4"/>
<ellipse cx="99.8" cy="289.3" rx="6.3" ry="3.3" fill="#8E40A2" opacity="0.4"/>
<ellipse cx="136.6" cy="248.4" rx="3.4" ry="4.3" fill="#8E40A2" opacity="0.4"/>
<ellipse cx="135.4" cy="241.7" rx="6.7" ry="7.9" fill="#8E40A2" opacity="0.4"/>
<ellipse cx="98.3" cy="267.3" rx="5.4" ry="6.4" fill="#8E40A2" opacity="0.4"/>
<ellipse cx="141.3" cy="301.2" rx="6.2" ry="3.4" fill="#8E40A2" opacity="0.4"/>
<ellipse cx="43.8" cy="248.7" rx="6.7" ry="4.5" fill="#8E40A2" opacity="0.4"/>
<ellipse cx="110.0" cy="213.8" rx="3.3" ry="4.3" fill="#8E40A2" opacity="0.4"/>
<ellipse cx="126.4" cy="312.0" rx="6.4" ry="4.5" fill="#8E40A2" opacity="0.4"/>
<ellipse cx="101.9" cy="279.1" rx="5.3" ry="3.6" fill="#8E40A2" opacity="0.4"/>
<ellipse cx="161.3" cy="240.8" rx="7.9" ry="7.7" fill="#8E40A2" opacity="0.4"/>
<ellipse cx="23.4" cy="278.3" rx="7.1" ry="7.8" fill="#8E40A2" opacity="0.4"/>
<ellipse cx="91.3" cy="250.8" rx="4.0" ry="7.7" fill="#8E40A2" opacity="0.4"/>
<ellipse cx="53.8" cy="296.0" rx="3.7" ry="5.6" fill="#8E40A2" opacity="0.4"/>
<ellipse cx="170.6" cy="231.2" rx="7.1" ry="5.5" fill="#8E40A2" opacity="0.4"/>
<ellipse cx="160.2" cy="313.6" rx="4.2" ry="7.5" fill="#8E40A2" opacity="0.4"/>
<ellipse cx="97.1" cy="215.6" rx="3.0" ry="5.5" fill="#8E40A2" opacity="0.4"/>
<ellipse cx="91.5" cy="255.6" rx="3.7" ry="4.7" fill="#8E40A2" opacity="0.4"/>
<ellipse cx="70.4" cy="333.4" rx="3.0" ry="6.8" fill="#8E40A2" opacity="0.4"/>
<ellipse cx="152.7" cy="229.3" rx="7.6" ry="6.6" fill="#8E40A2" opacity="0.4"/>
<ellipse cx="162.5" cy="253.9" rx="4.9" ry="5.0" fill="#8E40A2" opacity="0.4"/>
<ellipse cx="177.8" cy="297.1" rx="4.8" ry="5.1" fill="#8E40A2" opacity="0.4"/>
<ellipse cx="63.9" cy="219.0" rx="3.5" ry="7.2" fill="#8E40A2" opacity="0.4"/>
<ellipse cx="65.6" cy="347.2" rx="4.2" ry="4.3" fill="#8E40A2" opacity="0.4"/>
</g>
<g filter="url(#b1)" fill="none" stroke-linecap="round">
<path d="M178.0 313.6Q178.1 334.8 178.0 356.5" stroke="#FCD2EA" stroke-opacity="0.32" stroke-width="0.68"/>
<path d="M178.0 313.6Q178.1 334.8 178.0 356.5" stroke="#B22A8C" stroke-opacity="0.25" stroke-width="2.2"/>
<path d="M71.0 236.5Q73.5 224.3 74.0 212.0" stroke="#FCD2EA" stroke-opacity="0.34" stroke-width="1.05"/>

<path d="M74.0 212.0Q64.0 211.1 54.2 212.0" stroke="#FCD2EA" stroke-opacity="0.33" stroke-width="0.65"/>
<path d="M74.0 212.0Q64.0 211.1 54.2 212.0" stroke="#B22A8C" stroke-opacity="0.25" stroke-width="2.2"/>
<path d="M61.6 231.5Q56.9 221.1 54.2 212.0" stroke="#FCD2EA" stroke-opacity="0.35" stroke-width="0.88"/>

<path d="M61.6 231.5Q66.0 234.4 69.1 237.8" stroke="#FCD2EA" stroke-opacity="0.42" stroke-width="0.86"/>

<path d="M69.1 237.8Q69.6 236.0 71.0 236.5" stroke="#FCD2EA" stroke-opacity="0.36" stroke-width="1.08"/>
<path d="M69.1 237.8Q69.6 236.0 71.0 236.5" stroke="#B22A8C" stroke-opacity="0.25" stroke-width="2.2"/>
<path d="M20.6 212.0Q37.4 212.3 54.2 212.0" stroke="#FCD2EA" stroke-opacity="0.60" stroke-width="0.71"/>
<path d="M20.6 212.0Q37.4 212.3 54.2 212.0" stroke="#B22A8C" stroke-opacity="0.25" stroke-width="2.2"/>
<path d="M19.0 208.3Q19.2 209.9 20.6 212.0" stroke="#FCD2EA" stroke-opacity="0.43" stroke-width="1.08"/>

<path d="M33.1 231.0Q27.8 223.0 20.6 217.4" stroke="#FCD2EA" stroke-opacity="0.26" stroke-width="0.95"/>

<path d="M33.1 231.0Q37.3 241.7 41.6 252.0" stroke="#FCD2EA" stroke-opacity="0.25" stroke-width="0.80"/>

<path d="M20.6 217.4Q21.4 241.7 20.6 264.2" stroke="#FCD2EA" stroke-opacity="0.64" stroke-width="0.72"/>
<path d="M20.6 217.4Q21.4 241.7 20.6 264.2" stroke="#B22A8C" stroke-opacity="0.25" stroke-width="2.2"/>
<path d="M41.6 252.0Q30.2 258.1 20.6 264.2" stroke="#FCD2EA" stroke-opacity="0.52" stroke-width="1.07"/>

<path d="M20.6 212.0Q21.0 215.4 20.6 217.4" stroke="#FCD2EA" stroke-opacity="0.43" stroke-width="0.88"/>
<path d="M20.6 212.0Q21.0 215.4 20.6 217.4" stroke="#B22A8C" stroke-opacity="0.25" stroke-width="2.2"/>
<path d="M61.6 231.5Q48.0 230.6 33.1 231.0" stroke="#FCD2EA" stroke-opacity="0.62" stroke-width="0.92"/>
<path d="M61.6 231.5Q48.0 230.6 33.1 231.0" stroke="#B22A8C" stroke-opacity="0.25" stroke-width="2.2"/>
<path d="M65.4 250.2Q58.2 252.9 53.0 256.8" stroke="#FCD2EA" stroke-opacity="0.50" stroke-width="0.95"/>
<path d="M65.4 250.2Q58.2 252.9 53.0 256.8" stroke="#B22A8C" stroke-opacity="0.25" stroke-width="2.2"/>
<path d="M53.0 256.8Q46.2 254.4 41.6 252.0" stroke="#FCD2EA" stroke-opacity="0.48" stroke-width="0.79"/>
<path d="M53.0 256.8Q46.2 254.4 41.6 252.0" stroke="#B22A8C" stroke-opacity="0.25" stroke-width="2.2"/>
<path d="M65.4 250.2Q67.5 242.8 69.1 237.8" stroke="#FCD2EA" stroke-opacity="0.37" stroke-width="0.83"/>

<path d="M33.7 285.5Q27.5 284.2 20.6 280.9" stroke="#FCD2EA" stroke-opacity="0.44" stroke-width="0.72"/>
<path d="M33.7 285.5Q27.5 284.2 20.6 280.9" stroke="#B22A8C" stroke-opacity="0.25" stroke-width="2.2"/>
<path d="M53.0 257.4Q44.5 272.0 33.7 285.5" stroke="#FCD2EA" stroke-opacity="0.37" stroke-width="0.61"/>

<path d="M53.0 256.8Q53.4 256.9 53.0 257.4" stroke="#FCD2EA" stroke-opacity="0.35" stroke-width="0.93"/>

<path d="M20.6 280.9Q19.9 271.4 20.6 264.2" stroke="#FCD2EA" stroke-opacity="0.39" stroke-width="0.81"/>

<path d="M20.6 280.9Q19.8 296.7 20.6 311.1" stroke="#FCD2EA" stroke-opacity="0.55" stroke-width="0.85"/>
<path d="M20.6 280.9Q19.8 296.7 20.6 311.1" stroke="#B22A8C" stroke-opacity="0.25" stroke-width="2.2"/>
<path d="M178.0 212.0Q166.1 211.5 151.8 212.0" stroke="#FCD2EA" stroke-opacity="0.58" stroke-width="0.72"/>
<path d="M178.0 212.0Q166.1 211.5 151.8 212.0" stroke="#B22A8C" stroke-opacity="0.25" stroke-width="2.2"/>
<path d="M74.0 212.0Q90.5 211.5 105.7 212.0" stroke="#FCD2EA" stroke-opacity="0.63" stroke-width="0.85"/>
<path d="M74.0 212.0Q90.5 211.5 105.7 212.0" stroke="#B22A8C" stroke-opacity="0.25" stroke-width="2.2"/>
<path d="M151.8 212.0Q129.3 211.8 108.1 212.0" stroke="#FCD2EA" stroke-opacity="0.52" stroke-width="1.07"/>
<path d="M151.8 212.0Q129.3 211.8 108.1 212.0" stroke="#B22A8C" stroke-opacity="0.25" stroke-width="2.2"/>
<path d="M102.4 336.9Q114.7 328.3 127.5 321.2" stroke="#FCD2EA" stroke-opacity="0.64" stroke-width="0.67"/>
<path d="M102.4 336.9Q114.7 328.3 127.5 321.2" stroke="#B22A8C" stroke-opacity="0.25" stroke-width="2.2"/>
<path d="M127.5 321.2Q111.6 316.9 97.9 313.1" stroke="#FCD2EA" stroke-opacity="0.61" stroke-width="1.04"/>

<path d="M102.4 336.9Q100.3 328.7 95.8 318.3" stroke="#FCD2EA" stroke-opacity="0.38" stroke-width="0.69"/>

<path d="M95.8 318.3Q97.4 314.5 97.9 313.1" stroke="#FCD2EA" stroke-opacity="0.52" stroke-width="0.79"/>

<path d="M137.5 291.1Q132.7 299.6 128.7 309.8" stroke="#FCD2EA" stroke-opacity="0.25" stroke-width="0.74"/>

<path d="M137.5 291.1Q133.4 287.7 126.9 286.2" stroke="#FCD2EA" stroke-opacity="0.64" stroke-width="0.70"/>

<path d="M126.9 286.2Q124.0 288.1 119.5 288.5" stroke="#FCD2EA" stroke-opacity="0.42" stroke-width="0.62"/>

<path d="M119.5 288.5Q117.8 296.7 116.8 302.9" stroke="#FCD2EA" stroke-opacity="0.33" stroke-width="0.78"/>

<path d="M128.7 309.8Q121.6 306.1 116.8 302.9" stroke="#FCD2EA" stroke-opacity="0.57" stroke-width="0.98"/>
<path d="M128.7 309.8Q121.6 306.1 116.8 302.9" stroke="#B22A8C" stroke-opacity="0.25" stroke-width="2.2"/>
<path d="M158.9 309.1Q148.1 316.3 139.5 325.7" stroke="#FCD2EA" stroke-opacity="0.62" stroke-width="0.73"/>

<path d="M158.9 309.1Q156.2 300.8 151.6 293.3" stroke="#FCD2EA" stroke-opacity="0.36" stroke-width="1.08"/>

<path d="M151.6 293.3Q148.1 292.3 145.7 290.2" stroke="#FCD2EA" stroke-opacity="0.38" stroke-width="0.74"/>
<path d="M151.6 293.3Q148.1 292.3 145.7 290.2" stroke="#B22A8C" stroke-opacity="0.25" stroke-width="2.2"/>
<path d="M145.7 290.2Q142.3 291.7 137.5 291.1" stroke="#FCD2EA" stroke-opacity="0.50" stroke-width="1.07"/>
<path d="M145.7 290.2Q142.3 291.7 137.5 291.1" stroke="#B22A8C" stroke-opacity="0.25" stroke-width="2.2"/>
<path d="M139.5 325.7Q135.4 323.1 132.6 320.7" stroke="#FCD2EA" stroke-opacity="0.63" stroke-width="1.08"/>

<path d="M132.6 320.7Q130.1 315.0 128.7 309.8" stroke="#FCD2EA" stroke-opacity="0.45" stroke-width="1.06"/>
<path d="M132.6 320.7Q130.1 315.0 128.7 309.8" stroke="#B22A8C" stroke-opacity="0.25" stroke-width="2.2"/>
<path d="M97.0 285.7Q97.3 297.1 96.2 307.3" stroke="#FCD2EA" stroke-opacity="0.58" stroke-width="0.99"/>

<path d="M97.0 285.7Q103.4 284.6 110.7 284.5" stroke="#FCD2EA" stroke-opacity="0.39" stroke-width="0.99"/>
<path d="M97.0 285.7Q103.4 284.6 110.7 284.5" stroke="#B22A8C" stroke-opacity="0.25" stroke-width="2.2"/>
<path d="M110.7 284.5Q114.4 287.1 119.5 288.5" stroke="#FCD2EA" stroke-opacity="0.35" stroke-width="0.63"/>
<path d="M110.7 284.5Q114.4 287.1 119.5 288.5" stroke="#B22A8C" stroke-opacity="0.25" stroke-width="2.2"/>
<path d="M96.2 307.3Q97.2 309.1 98.0 311.8" stroke="#FCD2EA" stroke-opacity="0.64" stroke-width="1.04"/>

<path d="M98.0 311.8Q106.8 306.3 116.8 302.9" stroke="#FCD2EA" stroke-opacity="0.29" stroke-width="0.85"/>

<path d="M127.5 321.2Q129.9 320.3 132.6 320.7" stroke="#FCD2EA" stroke-opacity="0.42" stroke-width="0.91"/>

<path d="M97.9 313.1Q98.6 313.3 98.0 311.8" stroke="#FCD2EA" stroke-opacity="0.52" stroke-width="0.66"/>

<path d="M34.3 286.0Q37.8 296.2 42.5 306.1" stroke="#FCD2EA" stroke-opacity="0.40" stroke-width="0.97"/>
<path d="M34.3 286.0Q37.8 296.2 42.5 306.1" stroke="#B22A8C" stroke-opacity="0.25" stroke-width="2.2"/>
<path d="M34.3 286.0Q46.9 283.1 60.7 281.5" stroke="#FCD2EA" stroke-opacity="0.31" stroke-width="1.04"/>

<path d="M42.5 306.1Q54.3 300.4 67.0 295.2" stroke="#FCD2EA" stroke-opacity="0.65" stroke-width="0.85"/>
<path d="M42.5 306.1Q54.3 300.4 67.0 295.2" stroke="#B22A8C" stroke-opacity="0.25" stroke-width="2.2"/>
<path d="M60.7 281.5Q65.2 284.7 68.1 287.0" stroke="#FCD2EA" stroke-opacity="0.65" stroke-width="0.65"/>

<path d="M68.1 287.0Q68.3 292.0 67.0 295.2" stroke="#FCD2EA" stroke-opacity="0.62" stroke-width="0.62"/>
<path d="M68.1 287.0Q68.3 292.0 67.0 295.2" stroke="#B22A8C" stroke-opacity="0.25" stroke-width="2.2"/>
<path d="M33.7 285.5Q33.1 285.0 34.3 286.0" stroke="#FCD2EA" stroke-opacity="0.64" stroke-width="0.89"/>

<path d="M41.3 310.7Q30.6 311.8 20.6 311.1" stroke="#FCD2EA" stroke-opacity="0.43" stroke-width="0.73"/>

<path d="M41.3 310.7Q43.0 307.4 42.5 306.1" stroke="#FCD2EA" stroke-opacity="0.49" stroke-width="0.91"/>
<path d="M41.3 310.7Q43.0 307.4 42.5 306.1" stroke="#B22A8C" stroke-opacity="0.25" stroke-width="2.2"/>
<path d="M53.0 257.4Q56.5 268.6 60.7 281.5" stroke="#FCD2EA" stroke-opacity="0.33" stroke-width="0.73"/>

<path d="M65.4 250.2Q73.1 255.5 80.0 262.3" stroke="#FCD2EA" stroke-opacity="0.25" stroke-width="0.76"/>

<path d="M84.0 276.7Q75.3 281.4 68.1 287.0" stroke="#FCD2EA" stroke-opacity="0.33" stroke-width="1.00"/>

<path d="M84.0 276.7Q82.8 274.9 83.8 275.1" stroke="#FCD2EA" stroke-opacity="0.41" stroke-width="0.88"/>

<path d="M83.8 275.1Q80.9 267.9 80.0 262.3" stroke="#FCD2EA" stroke-opacity="0.53" stroke-width="0.80"/>
<path d="M83.8 275.1Q80.9 267.9 80.0 262.3" stroke="#B22A8C" stroke-opacity="0.25" stroke-width="2.2"/>
<path d="M96.2 307.3Q81.8 303.5 68.4 297.4" stroke="#FCD2EA" stroke-opacity="0.37" stroke-width="0.88"/>

<path d="M68.4 297.4Q67.5 297.2 67.0 295.2" stroke="#FCD2EA" stroke-opacity="0.65" stroke-width="0.78"/>
<path d="M68.4 297.4Q67.5 297.2 67.0 295.2" stroke="#B22A8C" stroke-opacity="0.25" stroke-width="2.2"/>
<path d="M92.6 280.7Q95.4 282.4 97.0 285.7" stroke="#FCD2EA" stroke-opacity="0.25" stroke-width="1.05"/>

<path d="M92.6 280.7Q89.1 278.4 84.0 276.7" stroke="#FCD2EA" stroke-opacity="0.60" stroke-width="0.83"/>
<path d="M92.6 280.7Q89.1 278.4 84.0 276.7" stroke="#B22A8C" stroke-opacity="0.25" stroke-width="2.2"/>
<path d="M68.4 297.4Q67.5 303.6 69.0 309.5" stroke="#FCD2EA" stroke-opacity="0.51" stroke-width="1.05"/>
<path d="M68.4 297.4Q67.5 303.6 69.0 309.5" stroke="#B22A8C" stroke-opacity="0.25" stroke-width="2.2"/>
<path d="M41.3 310.7Q43.5 316.2 45.1 322.3" stroke="#FCD2EA" stroke-opacity="0.45" stroke-width="0.67"/>
<path d="M41.3 310.7Q43.5 316.2 45.1 322.3" stroke="#B22A8C" stroke-opacity="0.25" stroke-width="2.2"/>
<path d="M45.1 322.3Q48.2 324.7 51.2 325.0" stroke="#FCD2EA" stroke-opacity="0.29" stroke-width="0.85"/>

<path d="M51.2 325.0Q61.3 316.5 69.0 309.5" stroke="#FCD2EA" stroke-opacity="0.30" stroke-width="1.07"/>

<path d="M95.8 318.3Q88.0 319.0 80.4 321.9" stroke="#FCD2EA" stroke-opacity="0.62" stroke-width="0.79"/>

<path d="M80.4 321.9Q75.0 316.5 69.0 309.5" stroke="#FCD2EA" stroke-opacity="0.31" stroke-width="0.99"/>
<path d="M80.4 321.9Q75.0 316.5 69.0 309.5" stroke="#B22A8C" stroke-opacity="0.25" stroke-width="2.2"/>
<path d="M178.0 236.9Q177.8 231.9 178.0 225.1" stroke="#FCD2EA" stroke-opacity="0.58" stroke-width="0.69"/>
<path d="M178.0 236.9Q177.8 231.9 178.0 225.1" stroke="#B22A8C" stroke-opacity="0.25" stroke-width="2.2"/>
<path d="M178.0 212.0Q177.7 218.6 178.0 225.1" stroke="#FCD2EA" stroke-opacity="0.40" stroke-width="0.66"/>
<path d="M178.0 212.0Q177.7 218.6 178.0 225.1" stroke="#B22A8C" stroke-opacity="0.25" stroke-width="2.2"/>
<path d="M139.5 325.7Q140.4 332.6 140.2 337.6" stroke="#FCD2EA" stroke-opacity="0.27" stroke-width="0.88"/>

<path d="M102.4 336.9Q101.3 338.2 102.5 337.9" stroke="#FCD2EA" stroke-opacity="0.30" stroke-width="0.90"/>

<path d="M140.2 337.6Q121.7 337.3 102.5 337.9" stroke="#FCD2EA" stroke-opacity="0.42" stroke-width="0.89"/>

<path d="M51.2 325.0Q58.3 331.3 64.6 337.8" stroke="#FCD2EA" stroke-opacity="0.43" stroke-width="0.61"/>

<path d="M80.4 321.9Q73.2 328.9 66.0 337.3" stroke="#FCD2EA" stroke-opacity="0.56" stroke-width="0.99"/>

<path d="M66.0 337.3Q64.5 337.5 64.6 337.8" stroke="#FCD2EA" stroke-opacity="0.29" stroke-width="0.66"/>

<path d="M102.5 337.9Q100.1 342.8 99.8 348.0" stroke="#FCD2EA" stroke-opacity="0.45" stroke-width="0.62"/>

<path d="M66.0 337.3Q81.9 343.2 99.8 348.0" stroke="#FCD2EA" stroke-opacity="0.56" stroke-width="0.86"/>
<path d="M66.0 337.3Q81.9 343.2 99.8 348.0" stroke="#B22A8C" stroke-opacity="0.25" stroke-width="2.2"/>
<path d="M20.6 356.5Q20.6 350.7 20.6 345.5" stroke="#FCD2EA" stroke-opacity="0.63" stroke-width="0.67"/>

<path d="M20.6 311.1Q21.8 328.9 20.6 345.5" stroke="#FCD2EA" stroke-opacity="0.58" stroke-width="0.70"/>

<path d="M59.8 356.5Q40.2 357.6 20.6 356.5" stroke="#FCD2EA" stroke-opacity="0.62" stroke-width="0.68"/>

<path d="M45.1 322.3Q33.9 332.8 20.6 345.5" stroke="#FCD2EA" stroke-opacity="0.39" stroke-width="0.98"/>
<path d="M45.1 322.3Q33.9 332.8 20.6 345.5" stroke="#B22A8C" stroke-opacity="0.25" stroke-width="2.2"/>
<path d="M64.6 337.8Q63.2 346.6 59.8 356.5" stroke="#FCD2EA" stroke-opacity="0.58" stroke-width="0.67"/>

<path d="M145.3 280.4Q142.0 274.0 136.5 269.0" stroke="#FCD2EA" stroke-opacity="0.36" stroke-width="0.85"/>
<path d="M145.3 280.4Q142.0 274.0 136.5 269.0" stroke="#B22A8C" stroke-opacity="0.25" stroke-width="2.2"/>
<path d="M145.3 280.4Q144.4 284.5 145.7 290.2" stroke="#FCD2EA" stroke-opacity="0.31" stroke-width="1.07"/>

<path d="M126.9 286.2Q128.3 277.1 127.7 269.7" stroke="#FCD2EA" stroke-opacity="0.56" stroke-width="0.66"/>

<path d="M127.7 269.7Q132.4 269.0 136.5 269.0" stroke="#FCD2EA" stroke-opacity="0.60" stroke-width="0.88"/>

<path d="M110.7 284.5Q114.4 273.6 116.2 264.7" stroke="#FCD2EA" stroke-opacity="0.65" stroke-width="0.91"/>

<path d="M116.2 264.7Q121.2 265.1 124.8 266.8" stroke="#FCD2EA" stroke-opacity="0.65" stroke-width="0.89"/>

<path d="M127.7 269.7Q126.9 268.1 124.8 266.8" stroke="#FCD2EA" stroke-opacity="0.32" stroke-width="0.97"/>
<path d="M127.7 269.7Q126.9 268.1 124.8 266.8" stroke="#B22A8C" stroke-opacity="0.25" stroke-width="2.2"/>
<path d="M154.1 265.7Q150.5 272.4 145.3 280.4" stroke="#FCD2EA" stroke-opacity="0.51" stroke-width="1.09"/>

<path d="M154.1 265.7Q148.9 263.6 142.8 262.4" stroke="#FCD2EA" stroke-opacity="0.25" stroke-width="0.62"/>
<path d="M154.1 265.7Q148.9 263.6 142.8 262.4" stroke="#B22A8C" stroke-opacity="0.25" stroke-width="2.2"/>
<path d="M136.5 269.0Q139.9 265.6 142.8 262.4" stroke="#FCD2EA" stroke-opacity="0.46" stroke-width="1.05"/>
<path d="M136.5 269.0Q139.9 265.6 142.8 262.4" stroke="#B22A8C" stroke-opacity="0.25" stroke-width="2.2"/>
<path d="M71.0 236.5Q78.5 235.5 87.5 233.8" stroke="#FCD2EA" stroke-opacity="0.26" stroke-width="0.60"/>

<path d="M105.7 212.0Q103.0 214.3 102.3 217.3" stroke="#FCD2EA" stroke-opacity="0.34" stroke-width="0.89"/>

<path d="M102.3 217.3Q94.1 225.9 87.5 233.8" stroke="#FCD2EA" stroke-opacity="0.44" stroke-width="0.67"/>

<path d="M80.0 262.3Q87.6 255.3 96.4 250.1" stroke="#FCD2EA" stroke-opacity="0.29" stroke-width="0.92"/>

<path d="M87.5 233.8Q92.7 241.7 96.4 250.1" stroke="#FCD2EA" stroke-opacity="0.36" stroke-width="0.61"/>

<path d="M115.9 222.3Q119.0 231.5 121.8 241.5" stroke="#FCD2EA" stroke-opacity="0.51" stroke-width="0.82"/>

<path d="M115.9 222.3Q132.7 224.5 148.4 228.1" stroke="#FCD2EA" stroke-opacity="0.61" stroke-width="0.62"/>

<path d="M121.8 241.5Q128.5 243.1 135.7 246.0" stroke="#FCD2EA" stroke-opacity="0.27" stroke-width="0.99"/>
<path d="M121.8 241.5Q128.5 243.1 135.7 246.0" stroke="#B22A8C" stroke-opacity="0.25" stroke-width="2.2"/>
<path d="M149.3 237.8Q149.3 236.2 149.1 232.3" stroke="#FCD2EA" stroke-opacity="0.31" stroke-width="0.70"/>

<path d="M149.3 237.8Q143.3 242.2 137.3 245.8" stroke="#FCD2EA" stroke-opacity="0.58" stroke-width="0.69"/>
<path d="M149.3 237.8Q143.3 242.2 137.3 245.8" stroke="#B22A8C" stroke-opacity="0.25" stroke-width="2.2"/>
<path d="M137.3 245.8Q136.0 244.8 135.7 246.0" stroke="#FCD2EA" stroke-opacity="0.61" stroke-width="0.99"/>

<path d="M148.4 228.1Q147.5 231.0 149.1 232.3" stroke="#FCD2EA" stroke-opacity="0.55" stroke-width="0.83"/>

<path d="M108.1 212.0Q111.9 216.5 115.9 222.3" stroke="#FCD2EA" stroke-opacity="0.29" stroke-width="0.72"/>
<path d="M108.1 212.0Q111.9 216.5 115.9 222.3" stroke="#B22A8C" stroke-opacity="0.25" stroke-width="2.2"/>
<path d="M151.8 212.0Q149.7 220.7 148.4 228.1" stroke="#FCD2EA" stroke-opacity="0.53" stroke-width="1.02"/>

<path d="M159.1 244.6Q168.0 240.9 178.0 236.9" stroke="#FCD2EA" stroke-opacity="0.42" stroke-width="0.99"/>

<path d="M159.1 244.6Q153.6 241.6 149.3 237.8" stroke="#FCD2EA" stroke-opacity="0.64" stroke-width="0.71"/>

<path d="M178.0 225.1Q162.3 228.1 149.1 232.3" stroke="#FCD2EA" stroke-opacity="0.34" stroke-width="0.97"/>

<path d="M156.1 265.1Q155.7 264.9 154.1 265.7" stroke="#FCD2EA" stroke-opacity="0.60" stroke-width="0.76"/>
<path d="M156.1 265.1Q155.7 264.9 154.1 265.7" stroke="#B22A8C" stroke-opacity="0.25" stroke-width="2.2"/>
<path d="M156.1 265.1Q159.5 258.7 161.0 251.6" stroke="#FCD2EA" stroke-opacity="0.53" stroke-width="0.93"/>

<path d="M161.0 251.6Q160.0 249.0 159.1 244.6" stroke="#FCD2EA" stroke-opacity="0.53" stroke-width="1.03"/>

<path d="M142.8 262.4Q140.6 254.3 137.3 245.8" stroke="#FCD2EA" stroke-opacity="0.37" stroke-width="0.71"/>

<path d="M124.8 266.8Q129.2 257.4 135.7 246.0" stroke="#FCD2EA" stroke-opacity="0.31" stroke-width="0.61"/>
<path d="M124.8 266.8Q129.2 257.4 135.7 246.0" stroke="#B22A8C" stroke-opacity="0.25" stroke-width="2.2"/>
<path d="M178.0 281.8Q179.1 270.4 178.0 259.8" stroke="#FCD2EA" stroke-opacity="0.31" stroke-width="0.61"/>
<path d="M178.0 281.8Q179.1 270.4 178.0 259.8" stroke="#B22A8C" stroke-opacity="0.25" stroke-width="2.2"/>
<path d="M166.2 279.5Q172.6 281.0 178.0 281.8" stroke="#FCD2EA" stroke-opacity="0.53" stroke-width="0.97"/>
<path d="M166.2 279.5Q172.6 281.0 178.0 281.8" stroke="#B22A8C" stroke-opacity="0.25" stroke-width="2.2"/>
<path d="M166.2 279.5Q165.1 275.7 163.5 272.6" stroke="#FCD2EA" stroke-opacity="0.58" stroke-width="1.01"/>

<path d="M163.5 272.6Q169.3 267.1 177.3 259.8" stroke="#FCD2EA" stroke-opacity="0.62" stroke-width="1.07"/>
<path d="M163.5 272.6Q169.3 267.1 177.3 259.8" stroke="#B22A8C" stroke-opacity="0.25" stroke-width="2.2"/>
<path d="M177.3 259.8Q176.9 258.8 178.0 259.8" stroke="#FCD2EA" stroke-opacity="0.26" stroke-width="1.02"/>

<path d="M178.7 259.8Q178.7 260.6 178.0 259.8" stroke="#FCD2EA" stroke-opacity="0.50" stroke-width="0.74"/>
<path d="M178.7 259.8Q178.7 260.6 178.0 259.8" stroke="#B22A8C" stroke-opacity="0.25" stroke-width="2.2"/>
<path d="M178.0 313.6Q177.0 298.3 178.0 281.8" stroke="#FCD2EA" stroke-opacity="0.33" stroke-width="0.76"/>

<path d="M151.6 293.3Q157.7 285.8 166.2 279.5" stroke="#FCD2EA" stroke-opacity="0.36" stroke-width="0.96"/>

<path d="M178.0 313.6Q168.0 312.5 158.9 309.1" stroke="#FCD2EA" stroke-opacity="0.45" stroke-width="1.03"/>

<path d="M156.1 265.1Q158.6 268.6 163.5 272.6" stroke="#FCD2EA" stroke-opacity="0.42" stroke-width="0.99"/>
<path d="M156.1 265.1Q158.6 268.6 163.5 272.6" stroke="#B22A8C" stroke-opacity="0.25" stroke-width="2.2"/>
<path d="M161.0 251.6Q169.6 255.8 177.3 259.8" stroke="#FCD2EA" stroke-opacity="0.34" stroke-width="1.03"/>
<path d="M161.0 251.6Q169.6 255.8 177.3 259.8" stroke="#B22A8C" stroke-opacity="0.25" stroke-width="2.2"/>
<path d="M178.0 236.9Q178.8 247.5 178.0 259.8" stroke="#FCD2EA" stroke-opacity="0.25" stroke-width="0.70"/>

<path d="M105.7 212.0Q108.1 210.8 108.1 212.0" stroke="#FCD2EA" stroke-opacity="0.45" stroke-width="0.85"/>

<path d="M96.8 250.2Q100.2 248.4 105.2 246.6" stroke="#FCD2EA" stroke-opacity="0.39" stroke-width="1.02"/>
<path d="M96.8 250.2Q100.2 248.4 105.2 246.6" stroke="#B22A8C" stroke-opacity="0.25" stroke-width="2.2"/>
<path d="M96.8 250.2Q100.1 253.7 101.3 258.2" stroke="#FCD2EA" stroke-opacity="0.34" stroke-width="0.95"/>

<path d="M105.2 246.6Q109.7 247.1 116.1 246.9" stroke="#FCD2EA" stroke-opacity="0.28" stroke-width="0.99"/>

<path d="M101.3 258.2Q104.9 261.4 107.0 264.0" stroke="#FCD2EA" stroke-opacity="0.39" stroke-width="0.80"/>

<path d="M116.1 246.9Q116.6 254.3 115.2 263.8" stroke="#FCD2EA" stroke-opacity="0.61" stroke-width="0.61"/>
<path d="M116.1 246.9Q116.6 254.3 115.2 263.8" stroke="#B22A8C" stroke-opacity="0.25" stroke-width="2.2"/>
<path d="M107.0 264.0Q110.5 264.9 115.2 263.8" stroke="#FCD2EA" stroke-opacity="0.45" stroke-width="0.79"/>

<path d="M102.3 217.3Q103.1 231.9 105.2 246.6" stroke="#FCD2EA" stroke-opacity="0.46" stroke-width="0.98"/>

<path d="M96.4 250.1Q97.0 249.8 96.8 250.2" stroke="#FCD2EA" stroke-opacity="0.38" stroke-width="0.68"/>

<path d="M83.8 275.1Q92.9 267.3 101.3 258.2" stroke="#FCD2EA" stroke-opacity="0.32" stroke-width="0.82"/>

<path d="M121.8 241.5Q119.2 243.2 116.1 246.9" stroke="#FCD2EA" stroke-opacity="0.43" stroke-width="1.04"/>
<path d="M121.8 241.5Q119.2 243.2 116.1 246.9" stroke="#B22A8C" stroke-opacity="0.25" stroke-width="2.2"/>
<path d="M92.6 280.7Q99.1 271.8 107.0 264.0" stroke="#FCD2EA" stroke-opacity="0.53" stroke-width="1.02"/>
<path d="M92.6 280.7Q99.1 271.8 107.0 264.0" stroke="#B22A8C" stroke-opacity="0.25" stroke-width="2.2"/>
<path d="M116.2 264.7Q114.8 263.6 115.2 263.8" stroke="#FCD2EA" stroke-opacity="0.38" stroke-width="0.86"/>
<path d="M116.2 264.7Q114.8 263.6 115.2 263.8" stroke="#B22A8C" stroke-opacity="0.25" stroke-width="2.2"/>
<path d="M147.1 356.5Q123.7 355.7 101.1 356.5" stroke="#FCD2EA" stroke-opacity="0.64" stroke-width="0.96"/>
<path d="M147.1 356.5Q123.7 355.7 101.1 356.5" stroke="#B22A8C" stroke-opacity="0.25" stroke-width="2.2"/>
<path d="M140.2 337.6Q144.8 346.1 147.1 356.5" stroke="#FCD2EA" stroke-opacity="0.40" stroke-width="1.09"/>

<path d="M99.8 348.0Q101.0 352.1 101.1 356.5" stroke="#FCD2EA" stroke-opacity="0.33" stroke-width="0.92"/>
<path d="M99.8 348.0Q101.0 352.1 101.1 356.5" stroke="#B22A8C" stroke-opacity="0.25" stroke-width="2.2"/>
<path d="M178.0 356.5Q161.8 356.2 147.1 356.5" stroke="#FCD2EA" stroke-opacity="0.26" stroke-width="0.80"/>

<path d="M59.8 356.5Q80.9 356.5 101.1 356.5" stroke="#FCD2EA" stroke-opacity="0.50" stroke-width="0.83"/>
<path d="M59.8 356.5Q80.9 356.5 101.1 356.5" stroke="#B22A8C" stroke-opacity="0.25" stroke-width="2.2"/>
</g>
<g filter="url(#b1)">
<ellipse cx="51.5" cy="224.7" rx="7.6" ry="6.4" fill="#DE40A0" fill-opacity="0.3" stroke="#F7B2DE" stroke-opacity="0.0" stroke-width="0.7" transform="rotate(62 50.3 224.9)"/>
<ellipse cx="50.7" cy="238.3" rx="9.5" ry="7.8" fill="#DE40A0" fill-opacity="0.3" stroke="#F7B2DE" stroke-opacity="0.0" stroke-width="0.7" transform="rotate(58 50.1 237.7)"/>
<ellipse cx="26.1" cy="248.1" rx="8.2" ry="7.4" fill="#EE74BE" fill-opacity="0.3" stroke="#F7B2DE" stroke-opacity="0.0" stroke-width="0.7" transform="rotate(58 25.5 247.6)"/>
<ellipse cx="39.3" cy="266.8" rx="10.8" ry="11.2" fill="#EE74BE" fill-opacity="0.3" stroke="#F7B2DE" stroke-opacity="0.0" stroke-width="0.7" transform="rotate(25 37.4 268.0)"/>
<ellipse cx="67.1" cy="268.1" rx="9.4" ry="6.9" fill="#DE40A0" fill-opacity="0.3" stroke="#F7B2DE" stroke-opacity="0.0" stroke-width="0.7" transform="rotate(108 67.1 269.8)"/>
<ellipse cx="86.5" cy="247.6" rx="9.8" ry="9.5" fill="#EE74BE" fill-opacity="0.3" stroke="#F7B2DE" stroke-opacity="0.0" stroke-width="0.7" transform="rotate(46 85.0 248.2)"/>
<ellipse cx="79.0" cy="221.0" rx="8.2" ry="7.8" fill="#EE74BE" fill-opacity="0.3" stroke="#F7B2DE" stroke-opacity="0.0" stroke-width="0.7" transform="rotate(27 80.4 220.9)"/>
<ellipse cx="97.1" cy="265.7" rx="9.6" ry="9.4" fill="#EE74BE" fill-opacity="0.3" stroke="#F7B2DE" stroke-opacity="0.0" stroke-width="0.7" transform="rotate(132 97.6 264.5)"/>
<ellipse cx="49.0" cy="276.5" rx="5.2" ry="5.3" fill="#DE40A0" fill-opacity="0.3" stroke="#F7B2DE" stroke-opacity="0.0" stroke-width="0.7" transform="rotate(4 48.7 275.8)"/>
<ellipse cx="133.2" cy="230.4" rx="7.5" ry="8.4" fill="#DE40A0" fill-opacity="0.3" stroke="#F7B2DE" stroke-opacity="0.0" stroke-width="0.7" transform="rotate(53 131.7 231.4)"/>
<ellipse cx="107.5" cy="237.5" rx="7.9" ry="6.8" fill="#EE74BE" fill-opacity="0.3" stroke="#F7B2DE" stroke-opacity="0.0" stroke-width="0.7" transform="rotate(157 107.9 238.7)"/>
<ellipse cx="109.5" cy="255.2" rx="11.2" ry="8.6" fill="#DE40A0" fill-opacity="0.3" stroke="#F7B2DE" stroke-opacity="0.0" stroke-width="0.7" transform="rotate(107 107.5 254.6)"/>
<ellipse cx="135.6" cy="262.9" rx="10.0" ry="7.5" fill="#DE40A0" fill-opacity="0.3" stroke="#F7B2DE" stroke-opacity="0.0" stroke-width="0.7" transform="rotate(77 134.7 261.1)"/>
<ellipse cx="148.4" cy="255.6" rx="6.1" ry="7.0" fill="#DE40A0" fill-opacity="0.3" stroke="#F7B2DE" stroke-opacity="0.0" stroke-width="0.7" transform="rotate(100 148.5 256.6)"/>
<ellipse cx="167.2" cy="263.7" rx="7.3" ry="9.0" fill="#EE74BE" fill-opacity="0.3" stroke="#F7B2DE" stroke-opacity="0.0" stroke-width="0.7" transform="rotate(49 167.3 263.5)"/>
<ellipse cx="174.1" cy="270.5" rx="10.2" ry="7.5" fill="#EE74BE" fill-opacity="0.3" stroke="#F7B2DE" stroke-opacity="0.0" stroke-width="0.7" transform="rotate(163 172.9 269.4)"/>
<ellipse cx="143.5" cy="271.3" rx="8.0" ry="6.9" fill="#EE74BE" fill-opacity="0.3" stroke="#F7B2DE" stroke-opacity="0.0" stroke-width="0.7" transform="rotate(166 144.6 270.4)"/>
<ellipse cx="119.3" cy="277.7" rx="7.7" ry="5.7" fill="#DE40A0" fill-opacity="0.3" stroke="#F7B2DE" stroke-opacity="0.0" stroke-width="0.7" transform="rotate(96 118.8 276.4)"/>
<ellipse cx="107.5" cy="273.8" rx="6.7" ry="7.0" fill="#EE74BE" fill-opacity="0.3" stroke="#F7B2DE" stroke-opacity="0.0" stroke-width="0.7" transform="rotate(71 107.9 273.4)"/>
<ellipse cx="154.9" cy="276.0" rx="6.8" ry="6.5" fill="#DE40A0" fill-opacity="0.3" stroke="#F7B2DE" stroke-opacity="0.0" stroke-width="0.7" transform="rotate(21 154.5 276.4)"/>
<ellipse cx="166.3" cy="226.5" rx="6.6" ry="4.4" fill="#EE74BE" fill-opacity="0.3" stroke="#F7B2DE" stroke-opacity="0.0" stroke-width="0.7" transform="rotate(144 165.3 225.9)"/>
<ellipse cx="51.8" cy="289.9" rx="9.8" ry="8.4" fill="#EE74BE" fill-opacity="0.3" stroke="#F7B2DE" stroke-opacity="0.0" stroke-width="0.7" transform="rotate(3 51.3 290.9)"/>
<ellipse cx="24.1" cy="300.4" rx="9.0" ry="9.3" fill="#DE40A0" fill-opacity="0.3" stroke="#F7B2DE" stroke-opacity="0.0" stroke-width="0.7" transform="rotate(148 25.5 301.4)"/>
<ellipse cx="60.6" cy="308.6" rx="8.2" ry="6.9" fill="#DE40A0" fill-opacity="0.3" stroke="#F7B2DE" stroke-opacity="0.0" stroke-width="0.7" transform="rotate(103 59.6 309.7)"/>
<ellipse cx="80.0" cy="308.9" rx="10.1" ry="9.9" fill="#DE40A0" fill-opacity="0.3" stroke="#F7B2DE" stroke-opacity="0.0" stroke-width="0.7" transform="rotate(171 78.4 308.8)"/>
<ellipse cx="84.5" cy="335.5" rx="9.0" ry="8.9" fill="#EE74BE" fill-opacity="0.3" stroke="#F7B2DE" stroke-opacity="0.0" stroke-width="0.7" transform="rotate(54 84.4 334.5)"/>
<ellipse cx="45.5" cy="342.3" rx="7.7" ry="6.4" fill="#EE74BE" fill-opacity="0.3" stroke="#F7B2DE" stroke-opacity="0.0" stroke-width="0.7" transform="rotate(67 45.7 341.4)"/>
<ellipse cx="26.4" cy="320.0" rx="5.9" ry="5.3" fill="#EE74BE" fill-opacity="0.3" stroke="#F7B2DE" stroke-opacity="0.0" stroke-width="0.7" transform="rotate(36 25.9 320.6)"/>
<ellipse cx="84.3" cy="294.8" rx="7.0" ry="6.8" fill="#DE40A0" fill-opacity="0.3" stroke="#F7B2DE" stroke-opacity="0.0" stroke-width="0.7" transform="rotate(41 83.4 294.9)"/>
<ellipse cx="109.6" cy="297.7" rx="9.3" ry="9.1" fill="#DE40A0" fill-opacity="0.3" stroke="#F7B2DE" stroke-opacity="0.0" stroke-width="0.7" transform="rotate(95 109.9 295.9)"/>
<ellipse cx="124.2" cy="299.2" rx="6.9" ry="6.7" fill="#DE40A0" fill-opacity="0.3" stroke="#F7B2DE" stroke-opacity="0.0" stroke-width="0.7" transform="rotate(165 125.7 298.9)"/>
<ellipse cx="117.9" cy="312.7" rx="9.0" ry="6.6" fill="#DE40A0" fill-opacity="0.3" stroke="#F7B2DE" stroke-opacity="0.0" stroke-width="0.7" transform="rotate(24 117.8 312.7)"/>
<ellipse cx="113.8" cy="322.5" rx="5.6" ry="6.8" fill="#DE40A0" fill-opacity="0.3" stroke="#F7B2DE" stroke-opacity="0.0" stroke-width="0.7" transform="rotate(160 114.9 323.6)"/>
<ellipse cx="120.4" cy="330.8" rx="5.5" ry="5.9" fill="#EE74BE" fill-opacity="0.3" stroke="#F7B2DE" stroke-opacity="0.0" stroke-width="0.7" transform="rotate(141 119.8 331.5)"/>
</g>
<rect x="20.6" y="212.0" width="157.4" height="144.5" filter="url(#t1)" opacity="0.4"/>
<rect x="20.6" y="212.0" width="157.4" height="144.5" filter="url(#t1d)" opacity="0.85"/>
<rect x="20.6" y="212.0" width="157.4" height="144.5" filter="url(#t1p)" opacity="0.5"/>
<rect x="20.6" y="212.0" width="157.4" height="144.5" filter="url(#t1h)" opacity="0.6"/>
<polygon points="144.5,304.5 150.0,301.5 157.0,300.6 163.0,303.0 168.5,305.4 174.0,302.0 179.0,301.0 179.0,357.0 151.5,357.0 149.5,340.0 147.0,322.0" fill="#F6C4DE" filter="url(#b1)"/>
<polygon points="153.0,307.0 160.0,304.0 168.0,307.0 179.0,303.0 179.0,338.0 170.0,340.0 163.0,332.0 157.0,322.0 153.0,313.0" fill="#EA3A8E" opacity="0.5" filter="url(#b3)"/>
<g filter="url(#b1)">
<circle cx="163.0" cy="332.7" r="0.92" fill="#EA2C86"/>
<circle cx="157.6" cy="343.4" r="1.04" fill="#DC1468"/>
<circle cx="174.5" cy="311.9" r="1.18" fill="#EA2C86"/>
<circle cx="154.5" cy="320.6" r="0.85" fill="#EA2C86"/>
<circle cx="164.9" cy="340.3" r="1.15" fill="#D81872"/>
<circle cx="160.8" cy="318.0" r="0.73" fill="#EA2C86"/>
<circle cx="171.6" cy="320.9" r="0.95" fill="#E21E7E"/>
<circle cx="171.3" cy="320.9" r="1.22" fill="#F0409A"/>
<circle cx="163.1" cy="317.8" r="1.14" fill="#EA2C86"/>
<circle cx="160.9" cy="341.0" r="0.99" fill="#DC1468"/>
<circle cx="158.2" cy="313.5" r="0.95" fill="#D81872"/>
<circle cx="173.3" cy="307.4" r="1.05" fill="#EA2C86"/>
<circle cx="171.6" cy="306.1" r="0.73" fill="#EA2C86"/>
<circle cx="165.7" cy="309.6" r="1.08" fill="#F0409A"/>
<circle cx="155.1" cy="315.6" r="0.76" fill="#EA2C86"/>
<circle cx="172.8" cy="330.3" r="1.18" fill="#F0409A"/>
<circle cx="163.2" cy="328.7" r="1.08" fill="#D81872"/>
<circle cx="168.7" cy="316.0" r="1.23" fill="#D81872"/>
<circle cx="167.6" cy="320.3" r="1.11" fill="#D81872"/>
<circle cx="177.5" cy="329.5" r="0.81" fill="#EA2C86"/>
<circle cx="178.9" cy="311.1" r="1.06" fill="#DC1468"/>
<circle cx="151.9" cy="303.1" r="1.23" fill="#D81872"/>
<circle cx="156.3" cy="337.8" r="0.83" fill="#EA2C86"/>
<circle cx="158.2" cy="315.9" r="1.08" fill="#E21E7E"/>
<circle cx="177.3" cy="316.7" r="0.93" fill="#EA2C86"/>
<circle cx="172.5" cy="336.6" r="0.79" fill="#EA2C86"/>
<circle cx="157.4" cy="327.2" r="1.03" fill="#EA2C86"/>
<circle cx="156.3" cy="350.9" r="0.88" fill="#E21E7E"/>
<circle cx="176.1" cy="330.7" r="0.91" fill="#DC1468"/>
<circle cx="159.1" cy="312.9" r="0.91" fill="#F0409A"/>
<circle cx="173.9" cy="309.1" r="0.97" fill="#D81872"/>
<circle cx="161.2" cy="316.3" r="1.06" fill="#E21E7E"/>
<circle cx="177.6" cy="314.0" r="1.15" fill="#EA2C86"/>
<circle cx="152.6" cy="315.3" r="0.86" fill="#D81872"/>
<circle cx="165.3" cy="327.1" r="1.18" fill="#DC1468"/>
<circle cx="165.5" cy="341.7" r="0.90" fill="#D81872"/>
<circle cx="170.1" cy="333.7" r="1.00" fill="#D81872"/>
<circle cx="171.3" cy="333.2" r="1.20" fill="#F0409A"/>
<circle cx="161.4" cy="318.9" r="1.00" fill="#DC1468"/>
<circle cx="153.4" cy="304.9" r="0.88" fill="#E21E7E"/>
<circle cx="161.0" cy="307.0" r="1.06" fill="#DC1468"/>
<circle cx="177.3" cy="340.6" r="1.09" fill="#D81872"/>
<circle cx="159.3" cy="310.4" r="0.74" fill="#EA2C86"/>
<circle cx="170.1" cy="316.0" r="1.11" fill="#E21E7E"/>
<circle cx="174.7" cy="307.7" r="1.08" fill="#D81872"/>
<circle cx="161.1" cy="320.1" r="0.78" fill="#E21E7E"/>
<circle cx="157.6" cy="307.5" r="0.75" fill="#D81872"/>
<circle cx="167.4" cy="305.2" r="0.95" fill="#DC1468"/>
<circle cx="161.2" cy="312.1" r="0.89" fill="#F0409A"/>
<circle cx="156.2" cy="322.0" r="1.06" fill="#D81872"/>
<circle cx="169.9" cy="322.5" r="0.80" fill="#E21E7E"/>
<circle cx="167.1" cy="319.9" r="1.19" fill="#D81872"/>
<circle cx="165.7" cy="324.4" r="0.81" fill="#E21E7E"/>
<circle cx="170.3" cy="338.3" r="0.89" fill="#E21E7E"/>
<circle cx="170.3" cy="318.0" r="1.07" fill="#E21E7E"/>
<circle cx="160.5" cy="353.9" r="0.86" fill="#D81872"/>
<circle cx="167.6" cy="341.6" r="1.09" fill="#EA2C86"/>
<circle cx="150.5" cy="320.6" r="0.79" fill="#F0409A"/>
<circle cx="171.3" cy="323.4" r="1.16" fill="#DC1468"/>
<circle cx="167.9" cy="336.7" r="0.73" fill="#E21E7E"/>
<circle cx="173.2" cy="325.4" r="1.22" fill="#E21E7E"/>
<circle cx="165.9" cy="325.1" r="1.01" fill="#F0409A"/>
<circle cx="176.0" cy="317.5" r="1.00" fill="#EA2C86"/>
<circle cx="153.2" cy="322.9" r="0.75" fill="#DC1468"/>
<circle cx="164.2" cy="314.0" r="0.73" fill="#EA2C86"/>
<circle cx="148.6" cy="303.8" r="0.97" fill="#D81872"/>
<circle cx="172.9" cy="324.8" r="0.71" fill="#DC1468"/>
<circle cx="162.5" cy="307.1" r="0.71" fill="#D81872"/>
<circle cx="176.8" cy="345.3" r="0.95" fill="#D81872"/>
<circle cx="152.0" cy="334.0" r="1.12" fill="#E21E7E"/>
<circle cx="165.6" cy="322.8" r="0.97" fill="#EA2C86"/>
<circle cx="145.3" cy="309.7" r="1.20" fill="#D81872"/>
<circle cx="172.0" cy="321.5" r="1.03" fill="#DC1468"/>
<circle cx="165.7" cy="346.4" r="1.04" fill="#E21E7E"/>
<circle cx="162.0" cy="328.6" r="0.95" fill="#F0409A"/>
<circle cx="163.5" cy="303.5" r="0.90" fill="#F0409A"/>
<circle cx="153.9" cy="304.4" r="1.04" fill="#D81872"/>
<circle cx="176.5" cy="313.4" r="1.07" fill="#E21E7E"/>
<circle cx="157.7" cy="310.2" r="1.20" fill="#EA2C86"/>
<circle cx="165.5" cy="322.0" r="1.08" fill="#DC1468"/>
<circle cx="178.4" cy="314.2" r="0.87" fill="#D81872"/>
<circle cx="158.6" cy="324.2" r="0.87" fill="#EA2C86"/>
<circle cx="150.6" cy="301.7" r="1.01" fill="#DC1468"/>
<circle cx="163.7" cy="324.7" r="1.06" fill="#E21E7E"/>
<circle cx="168.2" cy="341.5" r="0.78" fill="#F0409A"/>
<circle cx="162.2" cy="304.1" r="1.05" fill="#F0409A"/>
<circle cx="176.4" cy="313.1" r="1.16" fill="#F0409A"/>
<circle cx="170.6" cy="332.8" r="1.15" fill="#D81872"/>
<circle cx="147.6" cy="305.9" r="0.88" fill="#EA2C86"/>
<circle cx="176.9" cy="326.6" r="1.23" fill="#DC1468"/>
<circle cx="157.3" cy="319.5" r="1.12" fill="#F0409A"/>
<circle cx="169.2" cy="316.9" r="1.25" fill="#F0409A"/>
<circle cx="170.3" cy="311.1" r="0.86" fill="#EA2C86"/>
<circle cx="164.1" cy="316.9" r="0.99" fill="#E21E7E"/>
<circle cx="152.3" cy="338.0" r="1.23" fill="#D81872"/>
<circle cx="163.4" cy="324.6" r="1.17" fill="#F0409A"/>
<circle cx="152.6" cy="325.8" r="0.70" fill="#E21E7E"/>
<circle cx="170.8" cy="320.6" r="1.01" fill="#D81872"/>
<circle cx="177.5" cy="349.5" r="0.81" fill="#EA2C86"/>
<circle cx="173.4" cy="326.8" r="0.92" fill="#EA2C86"/>
<circle cx="171.2" cy="324.8" r="1.05" fill="#DC1468"/>
<circle cx="160.4" cy="316.3" r="1.12" fill="#E21E7E"/>
<circle cx="161.3" cy="318.1" r="0.83" fill="#F0409A"/>
<circle cx="176.2" cy="353.4" r="1.15" fill="#EA2C86"/>
<circle cx="155.7" cy="312.2" r="0.75" fill="#DC1468"/>
<circle cx="157.1" cy="321.0" r="0.94" fill="#DC1468"/>
<circle cx="174.5" cy="355.0" r="1.00" fill="#E21E7E"/>
<circle cx="169.6" cy="307.6" r="0.70" fill="#E21E7E"/>
<circle cx="171.0" cy="323.9" r="0.83" fill="#DC1468"/>
<circle cx="163.5" cy="325.1" r="1.21" fill="#E21E7E"/>
<circle cx="169.8" cy="330.1" r="0.86" fill="#DC1468"/>
<circle cx="163.3" cy="347.3" r="0.73" fill="#D81872"/>
<circle cx="160.9" cy="308.2" r="1.16" fill="#D81872"/>
<circle cx="165.9" cy="322.2" r="1.09" fill="#EA2C86"/>
<circle cx="173.3" cy="333.9" r="1.01" fill="#D81872"/>
<circle cx="177.2" cy="306.3" r="0.75" fill="#DC1468"/>
<circle cx="153.1" cy="317.0" r="0.98" fill="#D81872"/>
<circle cx="175.6" cy="326.5" r="1.22" fill="#EA2C86"/>
<circle cx="166.4" cy="325.0" r="0.80" fill="#F0409A"/>
<circle cx="173.3" cy="316.7" r="0.93" fill="#D81872"/>
<circle cx="173.6" cy="329.4" r="1.23" fill="#E21E7E"/>
<circle cx="155.8" cy="305.9" r="0.80" fill="#DC1468"/>
<circle cx="171.2" cy="331.0" r="1.10" fill="#D81872"/>
<circle cx="158.4" cy="349.6" r="0.74" fill="#D81872"/>
<circle cx="177.5" cy="323.2" r="0.82" fill="#E21E7E"/>
<circle cx="163.0" cy="324.9" r="0.95" fill="#DC1468"/>
<circle cx="174.9" cy="355.9" r="1.21" fill="#EA2C86"/>
<circle cx="164.1" cy="328.5" r="0.95" fill="#D81872"/>
<circle cx="158.1" cy="340.5" r="0.81" fill="#DC1468"/>
<circle cx="168.3" cy="341.6" r="0.77" fill="#EA2C86"/>
<circle cx="165.7" cy="348.9" r="0.76" fill="#F0409A"/>
<circle cx="164.3" cy="314.4" r="1.00" fill="#E21E7E"/>
<circle cx="163.4" cy="311.8" r="1.03" fill="#DC1468"/>
<circle cx="176.2" cy="316.1" r="0.77" fill="#D81872"/>
<circle cx="170.5" cy="341.5" r="0.87" fill="#EA2C86"/>
<circle cx="173.9" cy="337.7" r="1.07" fill="#DC1468"/>
<circle cx="149.6" cy="328.2" r="1.12" fill="#F0409A"/>
<circle cx="160.8" cy="306.8" r="1.17" fill="#EA2C86"/>
<circle cx="167.0" cy="333.1" r="0.91" fill="#DC1468"/>
<circle cx="164.4" cy="312.7" r="1.03" fill="#DC1468"/>
<circle cx="170.5" cy="325.3" r="1.19" fill="#E21E7E"/>
<circle cx="158.9" cy="326.4" r="0.76" fill="#EA2C86"/>
<circle cx="160.7" cy="329.7" r="1.04" fill="#DC1468"/>
<circle cx="173.2" cy="335.0" r="0.81" fill="#DC1468"/>
<circle cx="166.8" cy="325.3" r="1.08" fill="#E21E7E"/>
<circle cx="150.0" cy="322.5" r="0.87" fill="#E21E7E"/>
<circle cx="169.5" cy="322.2" r="1.19" fill="#E21E7E"/>
<circle cx="168.1" cy="312.4" r="0.78" fill="#F0409A"/>
<circle cx="177.6" cy="315.6" r="1.08" fill="#EA2C86"/>
<circle cx="167.9" cy="343.9" r="1.23" fill="#DC1468"/>
<circle cx="177.9" cy="323.5" r="0.94" fill="#DC1468"/>
<circle cx="172.8" cy="313.1" r="0.74" fill="#DC1468"/>
<circle cx="162.8" cy="312.5" r="0.87" fill="#DC1468"/>
<circle cx="146.8" cy="318.5" r="1.17" fill="#D81872"/>
<circle cx="171.3" cy="317.6" r="1.21" fill="#E21E7E"/>
<circle cx="158.5" cy="309.1" r="0.75" fill="#F0409A"/>
<circle cx="156.0" cy="311.9" r="0.88" fill="#F0409A"/>
<circle cx="173.1" cy="328.3" r="1.09" fill="#F0409A"/>
<circle cx="162.4" cy="329.3" r="1.01" fill="#DC1468"/>
<circle cx="158.2" cy="324.3" r="0.88" fill="#F0409A"/>
<circle cx="158.7" cy="353.6" r="0.95" fill="#E21E7E"/>
<circle cx="175.7" cy="303.8" r="0.86" fill="#D81872"/>
<circle cx="160.0" cy="309.2" r="1.01" fill="#DC1468"/>
<circle cx="178.9" cy="348.4" r="1.19" fill="#F0409A"/>
<circle cx="178.9" cy="307.4" r="0.95" fill="#DC1468"/>
<circle cx="153.7" cy="309.9" r="0.87" fill="#F0409A"/>
<circle cx="162.1" cy="306.7" r="1.15" fill="#EA2C86"/>
<circle cx="167.1" cy="313.9" r="1.07" fill="#DC1468"/>
<circle cx="155.6" cy="317.9" r="0.72" fill="#E21E7E"/>
<circle cx="154.9" cy="314.1" r="1.12" fill="#E21E7E"/>
<circle cx="156.3" cy="319.2" r="0.87" fill="#D81872"/>
<circle cx="176.4" cy="318.2" r="0.97" fill="#DC1468"/>
<circle cx="154.3" cy="308.5" r="0.81" fill="#DC1468"/>
<circle cx="175.9" cy="332.2" r="0.81" fill="#EA2C86"/>
<circle cx="167.3" cy="333.3" r="0.81" fill="#EA2C86"/>
<circle cx="176.2" cy="306.8" r="0.97" fill="#DC1468"/>
<circle cx="174.5" cy="335.9" r="1.03" fill="#E21E7E"/>
<circle cx="167.7" cy="336.5" r="1.25" fill="#DC1468"/>
<circle cx="165.2" cy="319.2" r="1.01" fill="#DC1468"/>
<circle cx="159.5" cy="314.7" r="1.24" fill="#F0409A"/>
<circle cx="171.0" cy="314.7" r="0.90" fill="#EA2C86"/>
<circle cx="168.6" cy="313.1" r="1.06" fill="#DC1468"/>
<circle cx="160.8" cy="348.5" r="0.96" fill="#F0409A"/>
<circle cx="160.4" cy="337.1" r="0.71" fill="#EA2C86"/>
<circle cx="168.4" cy="338.7" r="1.14" fill="#E21E7E"/>
<circle cx="155.2" cy="328.5" r="1.00" fill="#EA2C86"/>
<circle cx="167.4" cy="325.3" r="1.19" fill="#F0409A"/>
<circle cx="160.7" cy="318.7" r="0.94" fill="#D81872"/>
<circle cx="170.8" cy="356.6" r="0.96" fill="#DC1468"/>
<circle cx="169.8" cy="346.2" r="1.01" fill="#D81872"/>
<circle cx="174.3" cy="315.8" r="0.70" fill="#DC1468"/>
<circle cx="166.5" cy="328.9" r="1.07" fill="#EA2C86"/>
<circle cx="167.5" cy="329.7" r="1.09" fill="#EA2C86"/>
<circle cx="153.1" cy="312.9" r="0.74" fill="#D81872"/>
<circle cx="164.2" cy="316.6" r="1.07" fill="#E21E7E"/>
<circle cx="160.4" cy="303.0" r="0.93" fill="#EA2C86"/>
<circle cx="173.3" cy="333.8" r="1.08" fill="#EA2C86"/>
<circle cx="171.1" cy="324.5" r="1.02" fill="#F0409A"/>
<circle cx="174.2" cy="325.3" r="0.97" fill="#D81872"/>
<circle cx="176.7" cy="341.4" r="1.06" fill="#D81872"/>
<circle cx="157.0" cy="317.5" r="0.90" fill="#D81872"/>
<circle cx="173.3" cy="312.5" r="0.89" fill="#E21E7E"/>
<circle cx="175.8" cy="324.4" r="1.07" fill="#F0409A"/>
<circle cx="157.2" cy="317.9" r="0.93" fill="#EA2C86"/>
<circle cx="161.6" cy="327.8" r="0.81" fill="#F0409A"/>
<circle cx="166.5" cy="351.4" r="0.81" fill="#DC1468"/>
<circle cx="158.6" cy="308.9" r="0.88" fill="#DC1468"/>
<circle cx="152.9" cy="301.5" r="0.90" fill="#DC1468"/>
<circle cx="155.3" cy="315.1" r="1.06" fill="#D81872"/>
<circle cx="153.2" cy="304.3" r="0.76" fill="#DC1468"/>
<circle cx="158.3" cy="336.9" r="1.24" fill="#D81872"/>
<circle cx="161.4" cy="324.0" r="0.88" fill="#D81872"/>
<circle cx="164.8" cy="313.4" r="0.77" fill="#E21E7E"/>
<circle cx="170.6" cy="312.3" r="0.85" fill="#E21E7E"/>
<circle cx="164.3" cy="317.2" r="0.97" fill="#DC1468"/>
<circle cx="174.2" cy="335.9" r="0.91" fill="#E21E7E"/>
<circle cx="168.0" cy="337.4" r="0.88" fill="#EA2C86"/>
<circle cx="158.9" cy="350.7" r="1.11" fill="#DC1468"/>
<circle cx="146.6" cy="304.4" r="0.78" fill="#DC1468"/>
<circle cx="174.9" cy="338.8" r="1.20" fill="#F0409A"/>
<circle cx="164.8" cy="312.5" r="1.02" fill="#EA2C86"/>
<circle cx="157.1" cy="314.7" r="0.95" fill="#E21E7E"/>
<circle cx="162.8" cy="313.5" r="1.09" fill="#E21E7E"/>
<circle cx="168.9" cy="326.8" r="1.23" fill="#D81872"/>
<circle cx="174.9" cy="307.1" r="0.71" fill="#F0409A"/>
<circle cx="170.2" cy="353.2" r="1.20" fill="#F0409A"/>
<circle cx="153.2" cy="319.5" r="0.84" fill="#D81872"/>
<circle cx="177.9" cy="306.9" r="0.85" fill="#D81872"/>
<circle cx="175.0" cy="326.5" r="1.16" fill="#D81872"/>
<circle cx="167.2" cy="336.5" r="1.22" fill="#F0409A"/>
<circle cx="153.3" cy="309.3" r="1.03" fill="#F0409A"/>
<circle cx="149.6" cy="322.3" r="1.19" fill="#DC1468"/>
<circle cx="164.9" cy="321.9" r="0.86" fill="#DC1468"/>
<circle cx="153.0" cy="335.8" r="1.09" fill="#EA2C86"/>
<circle cx="162.4" cy="349.4" r="1.02" fill="#D81872"/>
<circle cx="155.7" cy="309.1" r="1.13" fill="#EA2C86"/>
<circle cx="169.0" cy="325.1" r="0.97" fill="#D81872"/>
<circle cx="168.8" cy="353.3" r="0.74" fill="#E21E7E"/>
<circle cx="160.6" cy="346.5" r="0.87" fill="#F0409A"/>
<circle cx="179.0" cy="344.7" r="0.89" fill="#D81872"/>
<circle cx="175.1" cy="353.6" r="0.91" fill="#DC1468"/>
<circle cx="171.9" cy="322.3" r="1.02" fill="#D81872"/>
<circle cx="163.0" cy="331.1" r="0.85" fill="#DC1468"/>
<circle cx="169.5" cy="320.4" r="1.01" fill="#DC1468"/>
<circle cx="150.7" cy="302.9" r="1.02" fill="#F0409A"/>
<circle cx="174.6" cy="350.1" r="0.77" fill="#D81872"/>
<circle cx="170.3" cy="319.5" r="0.92" fill="#D81872"/>
<circle cx="174.9" cy="304.6" r="0.76" fill="#DC1468"/>
<circle cx="169.4" cy="325.8" r="1.03" fill="#DC1468"/>
<circle cx="153.7" cy="350.0" r="1.13" fill="#F0409A"/>
<circle cx="172.5" cy="317.3" r="0.73" fill="#D81872"/>
<circle cx="173.9" cy="310.3" r="1.19" fill="#EA2C86"/>
<circle cx="178.9" cy="314.0" r="1.09" fill="#F0409A"/>
<circle cx="177.4" cy="346.3" r="1.15" fill="#DC1468"/>
<circle cx="162.8" cy="324.3" r="1.25" fill="#EA2C86"/>
<circle cx="165.9" cy="328.1" r="1.04" fill="#D81872"/>
<circle cx="165.0" cy="309.3" r="0.99" fill="#DC1468"/>
<circle cx="177.8" cy="326.2" r="1.12" fill="#E21E7E"/>
<circle cx="151.5" cy="351.4" r="0.82" fill="#F0409A"/>
<circle cx="168.6" cy="317.5" r="0.73" fill="#E21E7E"/>
<circle cx="154.3" cy="341.2" r="1.23" fill="#DC1468"/>
<circle cx="175.1" cy="343.2" r="1.24" fill="#E21E7E"/>
<circle cx="158.7" cy="306.9" r="0.89" fill="#DC1468"/>
<circle cx="165.8" cy="336.9" r="1.09" fill="#D81872"/>
<circle cx="173.6" cy="310.1" r="0.87" fill="#DC1468"/>
<circle cx="165.8" cy="311.3" r="0.95" fill="#D81872"/>
<circle cx="165.7" cy="323.5" r="0.98" fill="#D81872"/>
<circle cx="172.4" cy="328.9" r="1.22" fill="#D81872"/>
<circle cx="172.2" cy="311.0" r="0.90" fill="#D81872"/>
<circle cx="177.6" cy="329.1" r="1.03" fill="#F0409A"/>
<circle cx="168.2" cy="330.4" r="1.09" fill="#DC1468"/>
<circle cx="156.2" cy="336.4" r="1.06" fill="#F0409A"/>
<circle cx="169.5" cy="326.6" r="0.90" fill="#EA2C86"/>
<circle cx="164.0" cy="353.3" r="0.74" fill="#F0409A"/>
<circle cx="174.3" cy="305.6" r="0.99" fill="#EA2C86"/>
<circle cx="164.5" cy="326.4" r="0.72" fill="#E21E7E"/>
<circle cx="164.4" cy="352.5" r="1.25" fill="#F0409A"/>
<circle cx="177.1" cy="340.9" r="1.08" fill="#F0409A"/>
<circle cx="165.3" cy="324.5" r="1.08" fill="#D81872"/>
<circle cx="160.9" cy="350.4" r="1.00" fill="#DC1468"/>
<circle cx="164.8" cy="306.6" r="0.72" fill="#DC1468"/>
<circle cx="154.7" cy="315.0" r="1.18" fill="#E21E7E"/>
<circle cx="160.2" cy="339.8" r="1.01" fill="#EA2C86"/>
<circle cx="163.8" cy="316.0" r="1.00" fill="#E21E7E"/>
<circle cx="175.5" cy="310.3" r="1.24" fill="#EA2C86"/>
<circle cx="175.2" cy="304.9" r="1.11" fill="#E21E7E"/>
<circle cx="175.0" cy="329.0" r="0.81" fill="#EA2C86"/>
<circle cx="156.8" cy="312.9" r="1.23" fill="#DC1468"/>
<circle cx="156.8" cy="303.2" r="1.19" fill="#E21E7E"/>
<circle cx="169.9" cy="328.2" r="1.23" fill="#F0409A"/>
<circle cx="169.6" cy="309.6" r="1.00" fill="#EA2C86"/>
<circle cx="157.7" cy="302.2" r="0.92" fill="#E21E7E"/>
<circle cx="163.1" cy="319.1" r="1.22" fill="#E21E7E"/>
<circle cx="162.4" cy="328.7" r="1.08" fill="#DC1468"/>
<circle cx="178.3" cy="330.6" r="0.96" fill="#EA2C86"/>
<circle cx="151.0" cy="307.1" r="0.84" fill="#DC1468"/>
<circle cx="168.1" cy="320.7" r="0.90" fill="#EA2C86"/>
<circle cx="175.6" cy="314.7" r="1.11" fill="#DC1468"/>
<circle cx="160.3" cy="324.8" r="0.82" fill="#F0409A"/>
<circle cx="171.3" cy="323.5" r="0.83" fill="#EA2C86"/>
<circle cx="155.0" cy="307.4" r="0.79" fill="#DC1468"/>
<circle cx="176.9" cy="314.5" r="0.98" fill="#EA2C86"/>
<circle cx="153.2" cy="356.9" r="0.95" fill="#DC1468"/>
<circle cx="155.1" cy="310.3" r="0.74" fill="#D81872"/>
<circle cx="161.4" cy="309.8" r="0.80" fill="#DC1468"/>
<circle cx="165.4" cy="333.5" r="0.76" fill="#DC1468"/>
<circle cx="172.7" cy="325.4" r="1.16" fill="#DC1468"/>
<circle cx="171.6" cy="329.8" r="1.25" fill="#DC1468"/>
<circle cx="174.6" cy="328.7" r="1.07" fill="#DC1468"/>
<circle cx="164.3" cy="332.2" r="1.24" fill="#D81872"/>
<circle cx="174.5" cy="332.3" r="0.94" fill="#E21E7E"/>
<circle cx="166.5" cy="328.2" r="0.74" fill="#E21E7E"/>
<circle cx="168.1" cy="321.8" r="0.92" fill="#DC1468"/>
<circle cx="157.7" cy="342.1" r="0.84" fill="#EA2C86"/>
<circle cx="160.9" cy="335.1" r="1.08" fill="#DC1468"/>
<circle cx="172.4" cy="327.6" r="0.72" fill="#E21E7E"/>
<circle cx="173.2" cy="333.0" r="0.96" fill="#E21E7E"/>
<circle cx="177.6" cy="324.9" r="0.78" fill="#EA2C86"/>
<circle cx="166.1" cy="316.7" r="0.72" fill="#F0409A"/>
<circle cx="176.5" cy="330.5" r="0.82" fill="#E21E7E"/>
<circle cx="156.3" cy="340.5" r="0.72" fill="#E21E7E"/>
<circle cx="177.3" cy="305.0" r="0.87" fill="#DC1468"/>
<circle cx="162.4" cy="346.9" r="0.88" fill="#DC1468"/>
<circle cx="174.2" cy="320.0" r="1.07" fill="#D81872"/>
<circle cx="167.1" cy="327.1" r="0.75" fill="#DC1468"/>
<circle cx="157.1" cy="313.4" r="0.73" fill="#EA2C86"/>
<circle cx="163.1" cy="329.5" r="0.76" fill="#EA2C86"/>
<circle cx="171.6" cy="338.3" r="0.84" fill="#E21E7E"/>
<circle cx="175.1" cy="332.5" r="1.03" fill="#EA2C86"/>
<circle cx="165.2" cy="351.6" r="0.86" fill="#D81872"/>
<circle cx="170.3" cy="332.3" r="0.91" fill="#EA2C86"/>
<circle cx="165.8" cy="316.9" r="1.17" fill="#D81872"/>
<circle cx="159.2" cy="311.6" r="0.72" fill="#DC1468"/>
<circle cx="150.6" cy="306.3" r="1.06" fill="#E21E7E"/>
</g>
<g filter="url(#b1)">
<circle cx="47.7" cy="269.0" r="1.2" fill="#fbeef6" opacity="0.85"/>
<circle cx="60.6" cy="276.4" r="1.8" fill="#fbeef6" opacity="0.85"/>
<circle cx="64.6" cy="278.3" r="1.5" fill="#fbeef6" opacity="0.85"/>
<circle cx="71.5" cy="275.4" r="1.2" fill="#fbeef6" opacity="0.85"/>
<circle cx="87.3" cy="271.4" r="0.9" fill="#fbeef6" opacity="0.85"/>
<circle cx="68.5" cy="254.6" r="0.6" fill="#fbeef6" opacity="0.85"/>
<circle cx="70.5" cy="220.9" r="0.7" fill="#fbeef6" opacity="0.85"/>
<circle cx="120.8" cy="231.8" r="0.7" fill="#fbeef6" opacity="0.85"/>
<circle cx="159.4" cy="257.5" r="0.7" fill="#fbeef6" opacity="0.85"/>
<circle cx="111.9" cy="225.9" r="0.6" fill="#fbeef6" opacity="0.85"/>
<circle cx="73.5" cy="338.5" r="1.5" fill="#fbeef6" opacity="0.85"/>
<circle cx="51.7" cy="313.7" r="0.6" fill="#fbeef6" opacity="0.85"/>
<circle cx="75.4" cy="288.0" r="0.9" fill="#fbeef6" opacity="0.85"/>
<circle cx="50.3" cy="224.9" r="3.3" fill="#D686D0" stroke="#8A3CA4" stroke-width="1.2" stroke-opacity="0.75"/>
<circle cx="49.6" cy="225.3" r="0.45" fill="#8A3CA4" opacity="0.8"/>
<circle cx="50.5" cy="224.5" r="0.45" fill="#8A3CA4" opacity="0.8"/>
<circle cx="50.6" cy="224.3" r="0.45" fill="#8A3CA4" opacity="0.8"/>
<circle cx="50.1" cy="237.7" r="4.0" fill="#D686D0" stroke="#8A3CA4" stroke-width="1.2" stroke-opacity="0.75"/>
<circle cx="49.6" cy="237.7" r="0.45" fill="#8A3CA4" opacity="0.8"/>
<circle cx="48.3" cy="237.7" r="0.45" fill="#8A3CA4" opacity="0.8"/>
<circle cx="49.3" cy="236.6" r="0.45" fill="#8A3CA4" opacity="0.8"/>
<circle cx="50.1" cy="237.7" r="0.9" fill="#3a1050"/>
<circle cx="25.5" cy="247.6" r="3.5" fill="#D686D0" stroke="#8A3CA4" stroke-width="1.2" stroke-opacity="0.75"/>
<circle cx="25.3" cy="248.1" r="0.45" fill="#8A3CA4" opacity="0.8"/>
<circle cx="25.3" cy="248.5" r="0.45" fill="#8A3CA4" opacity="0.8"/>
<circle cx="24.7" cy="246.7" r="0.45" fill="#8A3CA4" opacity="0.8"/>
<circle cx="37.4" cy="268.0" r="5.3" fill="#D686D0" stroke="#8A3CA4" stroke-width="1.2" stroke-opacity="0.75"/>
<circle cx="39.1" cy="268.5" r="0.45" fill="#8A3CA4" opacity="0.8"/>
<circle cx="38.4" cy="267.2" r="0.45" fill="#8A3CA4" opacity="0.8"/>
<circle cx="38.1" cy="268.3" r="0.45" fill="#8A3CA4" opacity="0.8"/>
<circle cx="67.1" cy="269.8" r="4.0" fill="#D686D0" stroke="#8A3CA4" stroke-width="1.2" stroke-opacity="0.75"/>
<circle cx="67.5" cy="269.8" r="0.45" fill="#8A3CA4" opacity="0.8"/>
<circle cx="68.1" cy="269.3" r="0.45" fill="#8A3CA4" opacity="0.8"/>
<circle cx="66.4" cy="268.6" r="0.45" fill="#8A3CA4" opacity="0.8"/>
<circle cx="67.1" cy="269.8" r="0.9" fill="#3a1050"/>
<circle cx="85.0" cy="248.2" r="4.4" fill="#D686D0" stroke="#8A3CA4" stroke-width="1.2" stroke-opacity="0.75"/>
<circle cx="86.0" cy="247.6" r="0.45" fill="#8A3CA4" opacity="0.8"/>
<circle cx="84.0" cy="247.4" r="0.45" fill="#8A3CA4" opacity="0.8"/>
<circle cx="84.6" cy="247.1" r="0.45" fill="#8A3CA4" opacity="0.8"/>
<circle cx="80.4" cy="220.9" r="3.3" fill="#D686D0" stroke="#8A3CA4" stroke-width="1.2" stroke-opacity="0.75"/>
<circle cx="80.3" cy="220.6" r="0.45" fill="#8A3CA4" opacity="0.8"/>
<circle cx="80.1" cy="220.3" r="0.45" fill="#8A3CA4" opacity="0.8"/>
<circle cx="80.4" cy="220.8" r="0.45" fill="#8A3CA4" opacity="0.8"/>
<circle cx="97.6" cy="264.5" r="4.0" fill="#D686D0" stroke="#8A3CA4" stroke-width="1.2" stroke-opacity="0.75"/>
<circle cx="97.7" cy="264.5" r="0.45" fill="#8A3CA4" opacity="0.8"/>
<circle cx="97.9" cy="262.9" r="0.45" fill="#8A3CA4" opacity="0.8"/>
<circle cx="97.3" cy="263.9" r="0.45" fill="#8A3CA4" opacity="0.8"/>
<circle cx="48.7" cy="275.8" r="2.7" fill="#D686D0" stroke="#8A3CA4" stroke-width="1.2" stroke-opacity="0.75"/>
<circle cx="49.1" cy="274.9" r="0.45" fill="#8A3CA4" opacity="0.8"/>
<circle cx="48.4" cy="275.6" r="0.45" fill="#8A3CA4" opacity="0.8"/>
<circle cx="48.6" cy="276.2" r="0.45" fill="#8A3CA4" opacity="0.8"/>
<circle cx="131.7" cy="231.4" r="3.5" fill="#D686D0" stroke="#8A3CA4" stroke-width="1.2" stroke-opacity="0.75"/>
<circle cx="131.4" cy="232.0" r="0.45" fill="#8A3CA4" opacity="0.8"/>
<circle cx="130.7" cy="230.2" r="0.45" fill="#8A3CA4" opacity="0.8"/>
<circle cx="132.5" cy="231.7" r="0.45" fill="#8A3CA4" opacity="0.8"/>
<circle cx="107.9" cy="238.7" r="3.1" fill="#D686D0" stroke="#8A3CA4" stroke-width="1.2" stroke-opacity="0.75"/>
<circle cx="108.1" cy="238.8" r="0.45" fill="#8A3CA4" opacity="0.8"/>
<circle cx="108.2" cy="238.0" r="0.45" fill="#8A3CA4" opacity="0.8"/>
<circle cx="108.5" cy="238.4" r="0.45" fill="#8A3CA4" opacity="0.8"/>
<circle cx="107.5" cy="254.6" r="5.3" fill="#D686D0" stroke="#8A3CA4" stroke-width="1.2" stroke-opacity="0.75"/>
<circle cx="108.4" cy="254.7" r="0.45" fill="#8A3CA4" opacity="0.8"/>
<circle cx="105.6" cy="253.4" r="0.45" fill="#8A3CA4" opacity="0.8"/>
<circle cx="108.7" cy="254.4" r="0.45" fill="#8A3CA4" opacity="0.8"/>
<circle cx="134.7" cy="261.1" r="4.4" fill="#D686D0" stroke="#8A3CA4" stroke-width="1.2" stroke-opacity="0.75"/>
<circle cx="134.5" cy="261.2" r="0.45" fill="#8A3CA4" opacity="0.8"/>
<circle cx="134.4" cy="260.8" r="0.45" fill="#8A3CA4" opacity="0.8"/>
<circle cx="134.7" cy="261.1" r="0.45" fill="#8A3CA4" opacity="0.8"/>
<circle cx="148.5" cy="256.6" r="3.1" fill="#D686D0" stroke="#8A3CA4" stroke-width="1.2" stroke-opacity="0.75"/>
<circle cx="149.5" cy="256.6" r="0.45" fill="#8A3CA4" opacity="0.8"/>
<circle cx="149.5" cy="257.5" r="0.45" fill="#8A3CA4" opacity="0.8"/>
<circle cx="149.5" cy="257.2" r="0.45" fill="#8A3CA4" opacity="0.8"/>
<circle cx="167.3" cy="263.5" r="4.0" fill="#D686D0" stroke="#8A3CA4" stroke-width="1.2" stroke-opacity="0.75"/>
<circle cx="167.3" cy="263.5" r="0.45" fill="#8A3CA4" opacity="0.8"/>
<circle cx="167.2" cy="263.1" r="0.45" fill="#8A3CA4" opacity="0.8"/>
<circle cx="167.3" cy="263.2" r="0.45" fill="#8A3CA4" opacity="0.8"/>
<circle cx="172.9" cy="269.4" r="4.0" fill="#D686D0" stroke="#8A3CA4" stroke-width="1.2" stroke-opacity="0.75"/>
<circle cx="174.2" cy="269.9" r="0.45" fill="#8A3CA4" opacity="0.8"/>
<circle cx="172.5" cy="267.9" r="0.45" fill="#8A3CA4" opacity="0.8"/>
<circle cx="172.9" cy="269.3" r="0.45" fill="#8A3CA4" opacity="0.8"/>
<circle cx="144.6" cy="270.4" r="3.1" fill="#D686D0" stroke="#8A3CA4" stroke-width="1.2" stroke-opacity="0.75"/>
<circle cx="143.9" cy="269.7" r="0.45" fill="#8A3CA4" opacity="0.8"/>
<circle cx="143.3" cy="270.7" r="0.45" fill="#8A3CA4" opacity="0.8"/>
<circle cx="144.5" cy="271.8" r="0.45" fill="#8A3CA4" opacity="0.8"/>
<circle cx="118.8" cy="276.4" r="3.1" fill="#D686D0" stroke="#8A3CA4" stroke-width="1.2" stroke-opacity="0.75"/>
<circle cx="118.8" cy="276.3" r="0.45" fill="#8A3CA4" opacity="0.8"/>
<circle cx="119.7" cy="276.4" r="0.45" fill="#8A3CA4" opacity="0.8"/>
<circle cx="118.9" cy="276.3" r="0.45" fill="#8A3CA4" opacity="0.8"/>
<circle cx="107.9" cy="273.4" r="3.1" fill="#D686D0" stroke="#8A3CA4" stroke-width="1.2" stroke-opacity="0.75"/>
<circle cx="107.5" cy="274.3" r="0.45" fill="#8A3CA4" opacity="0.8"/>
<circle cx="108.5" cy="274.4" r="0.45" fill="#8A3CA4" opacity="0.8"/>
<circle cx="107.8" cy="273.4" r="0.45" fill="#8A3CA4" opacity="0.8"/>
<circle cx="154.5" cy="276.4" r="3.1" fill="#D686D0" stroke="#8A3CA4" stroke-width="1.2" stroke-opacity="0.75"/>
<circle cx="153.9" cy="277.0" r="0.45" fill="#8A3CA4" opacity="0.8"/>
<circle cx="153.6" cy="276.7" r="0.45" fill="#8A3CA4" opacity="0.8"/>
<circle cx="155.1" cy="277.2" r="0.45" fill="#8A3CA4" opacity="0.8"/>
<circle cx="165.3" cy="225.9" r="2.7" fill="#D686D0" stroke="#8A3CA4" stroke-width="1.2" stroke-opacity="0.75"/>
<circle cx="164.8" cy="226.4" r="0.45" fill="#8A3CA4" opacity="0.8"/>
<circle cx="165.0" cy="225.5" r="0.45" fill="#8A3CA4" opacity="0.8"/>
<circle cx="164.6" cy="226.5" r="0.45" fill="#8A3CA4" opacity="0.8"/>
<circle cx="51.3" cy="290.9" r="4.0" fill="#D686D0" stroke="#8A3CA4" stroke-width="1.2" stroke-opacity="0.75"/>
<circle cx="52.6" cy="290.4" r="0.45" fill="#8A3CA4" opacity="0.8"/>
<circle cx="50.8" cy="290.7" r="0.45" fill="#8A3CA4" opacity="0.8"/>
<circle cx="52.9" cy="291.6" r="0.45" fill="#8A3CA4" opacity="0.8"/>
<circle cx="25.5" cy="301.4" r="4.4" fill="#D686D0" stroke="#8A3CA4" stroke-width="1.2" stroke-opacity="0.75"/>
<circle cx="25.1" cy="299.8" r="0.45" fill="#8A3CA4" opacity="0.8"/>
<circle cx="24.9" cy="302.5" r="0.45" fill="#8A3CA4" opacity="0.8"/>
<circle cx="27.2" cy="301.2" r="0.45" fill="#8A3CA4" opacity="0.8"/>
<circle cx="59.6" cy="309.7" r="4.0" fill="#D686D0" stroke="#8A3CA4" stroke-width="1.2" stroke-opacity="0.75"/>
<circle cx="59.2" cy="309.4" r="0.45" fill="#8A3CA4" opacity="0.8"/>
<circle cx="58.2" cy="310.4" r="0.45" fill="#8A3CA4" opacity="0.8"/>
<circle cx="58.7" cy="310.6" r="0.45" fill="#8A3CA4" opacity="0.8"/>
<circle cx="78.4" cy="308.8" r="4.4" fill="#D686D0" stroke="#8A3CA4" stroke-width="1.2" stroke-opacity="0.75"/>
<circle cx="77.0" cy="307.7" r="0.45" fill="#8A3CA4" opacity="0.8"/>
<circle cx="78.6" cy="308.2" r="0.45" fill="#8A3CA4" opacity="0.8"/>
<circle cx="78.9" cy="308.8" r="0.45" fill="#8A3CA4" opacity="0.8"/>
<circle cx="84.4" cy="334.5" r="4.4" fill="#D686D0" stroke="#8A3CA4" stroke-width="1.2" stroke-opacity="0.75"/>
<circle cx="83.3" cy="335.0" r="0.45" fill="#8A3CA4" opacity="0.8"/>
<circle cx="85.1" cy="332.9" r="0.45" fill="#8A3CA4" opacity="0.8"/>
<circle cx="86.0" cy="334.9" r="0.45" fill="#8A3CA4" opacity="0.8"/>
<circle cx="84.4" cy="334.5" r="0.9" fill="#3a1050"/>
<circle cx="45.7" cy="341.4" r="3.1" fill="#D686D0" stroke="#8A3CA4" stroke-width="1.2" stroke-opacity="0.75"/>
<circle cx="46.2" cy="340.3" r="0.45" fill="#8A3CA4" opacity="0.8"/>
<circle cx="45.4" cy="341.3" r="0.45" fill="#8A3CA4" opacity="0.8"/>
<circle cx="46.4" cy="340.5" r="0.45" fill="#8A3CA4" opacity="0.8"/>
<circle cx="25.9" cy="320.6" r="2.7" fill="#D686D0" stroke="#8A3CA4" stroke-width="1.2" stroke-opacity="0.75"/>
<circle cx="25.5" cy="319.6" r="0.45" fill="#8A3CA4" opacity="0.8"/>
<circle cx="25.9" cy="320.7" r="0.45" fill="#8A3CA4" opacity="0.8"/>
<circle cx="25.0" cy="320.3" r="0.45" fill="#8A3CA4" opacity="0.8"/>
<circle cx="83.4" cy="294.9" r="3.1" fill="#D686D0" stroke="#8A3CA4" stroke-width="1.2" stroke-opacity="0.75"/>
<circle cx="83.7" cy="295.9" r="0.45" fill="#8A3CA4" opacity="0.8"/>
<circle cx="83.7" cy="294.8" r="0.45" fill="#8A3CA4" opacity="0.8"/>
<circle cx="82.6" cy="294.3" r="0.45" fill="#8A3CA4" opacity="0.8"/>
<circle cx="109.9" cy="295.9" r="4.0" fill="#D686D0" stroke="#8A3CA4" stroke-width="1.2" stroke-opacity="0.75"/>
<circle cx="109.5" cy="296.0" r="0.45" fill="#8A3CA4" opacity="0.8"/>
<circle cx="109.9" cy="297.2" r="0.45" fill="#8A3CA4" opacity="0.8"/>
<circle cx="110.1" cy="295.1" r="0.45" fill="#8A3CA4" opacity="0.8"/>
<circle cx="125.7" cy="298.9" r="3.5" fill="#D686D0" stroke="#8A3CA4" stroke-width="1.2" stroke-opacity="0.75"/>
<circle cx="126.8" cy="299.5" r="0.45" fill="#8A3CA4" opacity="0.8"/>
<circle cx="125.8" cy="298.5" r="0.45" fill="#8A3CA4" opacity="0.8"/>
<circle cx="124.5" cy="298.2" r="0.45" fill="#8A3CA4" opacity="0.8"/>
<circle cx="117.8" cy="312.7" r="3.5" fill="#D686D0" stroke="#8A3CA4" stroke-width="1.2" stroke-opacity="0.75"/>
<circle cx="118.4" cy="312.2" r="0.45" fill="#8A3CA4" opacity="0.8"/>
<circle cx="116.9" cy="312.9" r="0.45" fill="#8A3CA4" opacity="0.8"/>
<circle cx="117.9" cy="313.0" r="0.45" fill="#8A3CA4" opacity="0.8"/>
<circle cx="114.9" cy="323.6" r="3.1" fill="#D686D0" stroke="#8A3CA4" stroke-width="1.2" stroke-opacity="0.75"/>
<circle cx="115.3" cy="324.5" r="0.45" fill="#8A3CA4" opacity="0.8"/>
<circle cx="114.3" cy="324.2" r="0.45" fill="#8A3CA4" opacity="0.8"/>
<circle cx="114.3" cy="324.0" r="0.45" fill="#8A3CA4" opacity="0.8"/>
<circle cx="119.8" cy="331.5" r="2.7" fill="#D686D0" stroke="#8A3CA4" stroke-width="1.2" stroke-opacity="0.75"/>
<circle cx="119.8" cy="331.6" r="0.45" fill="#8A3CA4" opacity="0.8"/>
<circle cx="120.2" cy="331.5" r="0.45" fill="#8A3CA4" opacity="0.8"/>
<circle cx="120.4" cy="332.0" r="0.45" fill="#8A3CA4" opacity="0.8"/>
<ellipse cx="35.8" cy="230.8" rx="3.4" ry="2.2" fill="#9A4AA8" opacity="0.28" transform="rotate(-30 35.8 230.8)"/>
<ellipse cx="35.8" cy="230.8" rx="1.9" ry="1.2" fill="#5C1E78" opacity="0.74" transform="rotate(-30 35.8 230.8)"/>
<ellipse cx="35.5" cy="230.9" rx="1.1" ry="1.4" fill="#5C1E78" opacity="0.55" transform="rotate(22 35.8 230.8)"/>
<ellipse cx="39.8" cy="233.8" rx="2.7" ry="2.5" fill="#9A4AA8" opacity="0.28" transform="rotate(-5 39.8 233.8)"/>
<ellipse cx="39.8" cy="233.8" rx="1.5" ry="1.4" fill="#5C1E78" opacity="0.74" transform="rotate(-5 39.8 233.8)"/>
<ellipse cx="39.8" cy="233.3" rx="0.9" ry="1.6" fill="#5C1E78" opacity="0.55" transform="rotate(27 39.8 233.8)"/>
<ellipse cx="28.9" cy="223.9" rx="2.7" ry="1.9" fill="#9A4AA8" opacity="0.28" transform="rotate(-14 28.9 223.9)"/>
<ellipse cx="28.9" cy="223.9" rx="1.5" ry="1.0" fill="#5C1E78" opacity="0.74" transform="rotate(-14 28.9 223.9)"/>
<ellipse cx="29.4" cy="224.2" rx="0.9" ry="1.2" fill="#5C1E78" opacity="0.55" transform="rotate(47 28.9 223.9)"/>
<ellipse cx="63.2" cy="226.9" rx="3.0" ry="3.8" fill="#9A4AA8" opacity="0.28" transform="rotate(35 63.2 226.9)"/>
<ellipse cx="63.2" cy="226.9" rx="1.7" ry="2.1" fill="#5C1E78" opacity="0.74" transform="rotate(35 63.2 226.9)"/>
<ellipse cx="63.2" cy="226.6" rx="1.0" ry="2.4" fill="#5C1E78" opacity="0.55" transform="rotate(114 63.2 226.9)"/>
<ellipse cx="68.5" cy="230.8" rx="2.7" ry="3.2" fill="#9A4AA8" opacity="0.28" transform="rotate(-5 68.5 230.8)"/>
<ellipse cx="68.5" cy="230.8" rx="1.5" ry="1.7" fill="#5C1E78" opacity="0.74" transform="rotate(-5 68.5 230.8)"/>
<ellipse cx="68.4" cy="231.3" rx="0.9" ry="2.0" fill="#5C1E78" opacity="0.55" transform="rotate(74 68.5 230.8)"/>
<ellipse cx="45.7" cy="217.9" rx="4.0" ry="1.9" fill="#9A4AA8" opacity="0.28" transform="rotate(35 45.7 217.9)"/>
<ellipse cx="45.7" cy="217.9" rx="2.3" ry="1.0" fill="#5C1E78" opacity="0.74" transform="rotate(35 45.7 217.9)"/>
<ellipse cx="46.1" cy="218.4" rx="1.3" ry="1.2" fill="#5C1E78" opacity="0.55" transform="rotate(81 45.7 217.9)"/>
<ellipse cx="59.6" cy="220.9" rx="2.7" ry="2.5" fill="#9A4AA8" opacity="0.28" transform="rotate(-36 59.6 220.9)"/>
<ellipse cx="59.6" cy="220.9" rx="1.5" ry="1.4" fill="#5C1E78" opacity="0.74" transform="rotate(-36 59.6 220.9)"/>
<ellipse cx="59.4" cy="221.4" rx="0.9" ry="1.6" fill="#5C1E78" opacity="0.55" transform="rotate(18 59.6 220.9)"/>
<ellipse cx="62.6" cy="244.7" rx="3.4" ry="4.4" fill="#9A4AA8" opacity="0.28" transform="rotate(-30 62.6 244.7)"/>
<ellipse cx="62.6" cy="244.7" rx="1.9" ry="2.4" fill="#5C1E78" opacity="0.74" transform="rotate(-30 62.6 244.7)"/>
<ellipse cx="62.1" cy="244.2" rx="1.1" ry="2.8" fill="#5C1E78" opacity="0.55" transform="rotate(23 62.6 244.7)"/>
<ellipse cx="67.5" cy="249.6" rx="3.4" ry="3.2" fill="#9A4AA8" opacity="0.28" transform="rotate(18 67.5 249.6)"/>
<ellipse cx="67.5" cy="249.6" rx="1.9" ry="1.7" fill="#5C1E78" opacity="0.74" transform="rotate(18 67.5 249.6)"/>
<ellipse cx="67.5" cy="250.0" rx="1.1" ry="2.0" fill="#5C1E78" opacity="0.55" transform="rotate(105 67.5 249.6)"/>
<ellipse cx="32.9" cy="250.6" rx="2.4" ry="3.2" fill="#9A4AA8" opacity="0.28" transform="rotate(-32 32.9 250.6)"/>
<ellipse cx="32.9" cy="250.6" rx="1.3" ry="1.7" fill="#5C1E78" opacity="0.74" transform="rotate(-32 32.9 250.6)"/>
<ellipse cx="33.2" cy="250.8" rx="0.8" ry="2.0" fill="#5C1E78" opacity="0.55" transform="rotate(57 32.9 250.6)"/>
<ellipse cx="31.9" cy="259.5" rx="3.0" ry="2.9" fill="#9A4AA8" opacity="0.28" transform="rotate(-25 31.9 259.5)"/>
<ellipse cx="31.9" cy="259.5" rx="1.7" ry="1.6" fill="#5C1E78" opacity="0.74" transform="rotate(-25 31.9 259.5)"/>
<ellipse cx="32.1" cy="259.1" rx="1.0" ry="1.8" fill="#5C1E78" opacity="0.55" transform="rotate(25 31.9 259.5)"/>
<ellipse cx="56.6" cy="265.1" rx="3.4" ry="2.5" fill="#9A4AA8" opacity="0.28" transform="rotate(32 56.6 265.1)"/>
<ellipse cx="56.6" cy="265.1" rx="1.9" ry="1.4" fill="#5C1E78" opacity="0.74" transform="rotate(32 56.6 265.1)"/>
<ellipse cx="56.4" cy="264.7" rx="1.1" ry="1.6" fill="#5C1E78" opacity="0.55" transform="rotate(120 56.6 265.1)"/>
<ellipse cx="55.6" cy="269.4" rx="2.7" ry="2.5" fill="#9A4AA8" opacity="0.28" transform="rotate(24 55.6 269.4)"/>
<ellipse cx="55.6" cy="269.4" rx="1.5" ry="1.4" fill="#5C1E78" opacity="0.74" transform="rotate(24 55.6 269.4)"/>
<ellipse cx="55.5" cy="269.4" rx="0.9" ry="1.6" fill="#5C1E78" opacity="0.55" transform="rotate(64 55.6 269.4)"/>
<ellipse cx="79.4" cy="271.4" rx="3.4" ry="3.2" fill="#9A4AA8" opacity="0.28" transform="rotate(7 79.4 271.4)"/>
<ellipse cx="79.4" cy="271.4" rx="1.9" ry="1.7" fill="#5C1E78" opacity="0.74" transform="rotate(7 79.4 271.4)"/>
<ellipse cx="79.9" cy="271.9" rx="1.1" ry="2.0" fill="#5C1E78" opacity="0.55" transform="rotate(51 79.4 271.4)"/>
<ellipse cx="83.4" cy="255.6" rx="3.4" ry="2.5" fill="#9A4AA8" opacity="0.28" transform="rotate(-18 83.4 255.6)"/>
<ellipse cx="83.4" cy="255.6" rx="1.9" ry="1.4" fill="#5C1E78" opacity="0.74" transform="rotate(-18 83.4 255.6)"/>
<ellipse cx="82.9" cy="255.3" rx="1.1" ry="1.6" fill="#5C1E78" opacity="0.55" transform="rotate(34 83.4 255.6)"/>
<ellipse cx="94.3" cy="225.9" rx="2.7" ry="3.8" fill="#9A4AA8" opacity="0.28" transform="rotate(-33 94.3 225.9)"/>
<ellipse cx="94.3" cy="225.9" rx="1.5" ry="2.1" fill="#5C1E78" opacity="0.74" transform="rotate(-33 94.3 225.9)"/>
<ellipse cx="94.7" cy="226.3" rx="0.9" ry="2.4" fill="#5C1E78" opacity="0.55" transform="rotate(50 94.3 225.9)"/>
<ellipse cx="91.3" cy="237.7" rx="2.7" ry="3.2" fill="#9A4AA8" opacity="0.28" transform="rotate(-34 91.3 237.7)"/>
<ellipse cx="91.3" cy="237.7" rx="1.5" ry="1.7" fill="#5C1E78" opacity="0.74" transform="rotate(-34 91.3 237.7)"/>
<ellipse cx="91.0" cy="237.8" rx="0.9" ry="2.0" fill="#5C1E78" opacity="0.55" transform="rotate(43 91.3 237.7)"/>
<ellipse cx="96.2" cy="244.7" rx="2.7" ry="3.2" fill="#9A4AA8" opacity="0.28" transform="rotate(21 96.2 244.7)"/>
<ellipse cx="96.2" cy="244.7" rx="1.5" ry="1.7" fill="#5C1E78" opacity="0.74" transform="rotate(21 96.2 244.7)"/>
<ellipse cx="95.8" cy="244.3" rx="0.9" ry="2.0" fill="#5C1E78" opacity="0.55" transform="rotate(99 96.2 244.7)"/>
<ellipse cx="73.5" cy="223.9" rx="2.7" ry="2.5" fill="#9A4AA8" opacity="0.28" transform="rotate(-40 73.5 223.9)"/>
<ellipse cx="73.5" cy="223.9" rx="1.5" ry="1.4" fill="#5C1E78" opacity="0.74" transform="rotate(-40 73.5 223.9)"/>
<ellipse cx="73.9" cy="224.1" rx="0.9" ry="1.6" fill="#5C1E78" opacity="0.55" transform="rotate(9 73.5 223.9)"/>
<ellipse cx="25.9" cy="275.4" rx="2.7" ry="3.2" fill="#9A4AA8" opacity="0.28" transform="rotate(35 25.9 275.4)"/>
<ellipse cx="25.9" cy="275.4" rx="1.5" ry="1.7" fill="#5C1E78" opacity="0.74" transform="rotate(35 25.9 275.4)"/>
<ellipse cx="26.0" cy="275.6" rx="0.9" ry="2.0" fill="#5C1E78" opacity="0.55" transform="rotate(71 25.9 275.4)"/>
<ellipse cx="39.8" cy="281.3" rx="2.7" ry="2.5" fill="#9A4AA8" opacity="0.28" transform="rotate(20 39.8 281.3)"/>
<ellipse cx="39.8" cy="281.3" rx="1.5" ry="1.4" fill="#5C1E78" opacity="0.74" transform="rotate(20 39.8 281.3)"/>
<ellipse cx="39.6" cy="281.1" rx="0.9" ry="1.6" fill="#5C1E78" opacity="0.55" transform="rotate(57 39.8 281.3)"/>
<ellipse cx="114.9" cy="215.0" rx="2.7" ry="2.5" fill="#9A4AA8" opacity="0.28" transform="rotate(7 114.9 215.0)"/>
<ellipse cx="114.9" cy="215.0" rx="1.5" ry="1.4" fill="#5C1E78" opacity="0.74" transform="rotate(7 114.9 215.0)"/>
<ellipse cx="114.8" cy="214.6" rx="0.9" ry="1.6" fill="#5C1E78" opacity="0.55" transform="rotate(52 114.9 215.0)"/>
<ellipse cx="119.8" cy="220.9" rx="2.7" ry="1.9" fill="#9A4AA8" opacity="0.28" transform="rotate(-22 119.8 220.9)"/>
<ellipse cx="119.8" cy="220.9" rx="1.5" ry="1.0" fill="#5C1E78" opacity="0.74" transform="rotate(-22 119.8 220.9)"/>
<ellipse cx="120.2" cy="221.3" rx="0.9" ry="1.2" fill="#5C1E78" opacity="0.55" transform="rotate(37 119.8 220.9)"/>
<ellipse cx="111.9" cy="226.9" rx="2.0" ry="3.2" fill="#9A4AA8" opacity="0.28" transform="rotate(-16 111.9 226.9)"/>
<ellipse cx="111.9" cy="226.9" rx="1.1" ry="1.7" fill="#5C1E78" opacity="0.74" transform="rotate(-16 111.9 226.9)"/>
<ellipse cx="112.2" cy="226.5" rx="0.7" ry="2.0" fill="#5C1E78" opacity="0.55" transform="rotate(67 111.9 226.9)"/>
<ellipse cx="157.4" cy="230.8" rx="2.7" ry="2.5" fill="#9A4AA8" opacity="0.28" transform="rotate(-12 157.4 230.8)"/>
<ellipse cx="157.4" cy="230.8" rx="1.5" ry="1.4" fill="#5C1E78" opacity="0.74" transform="rotate(-12 157.4 230.8)"/>
<ellipse cx="157.0" cy="230.9" rx="0.9" ry="1.6" fill="#5C1E78" opacity="0.55" transform="rotate(41 157.4 230.8)"/>
<ellipse cx="165.3" cy="228.8" rx="3.4" ry="3.8" fill="#9A4AA8" opacity="0.28" transform="rotate(-23 165.3 228.8)"/>
<ellipse cx="165.3" cy="228.8" rx="1.9" ry="2.1" fill="#5C1E78" opacity="0.74" transform="rotate(-23 165.3 228.8)"/>
<ellipse cx="165.6" cy="229.3" rx="1.1" ry="2.4" fill="#5C1E78" opacity="0.55" transform="rotate(66 165.3 228.8)"/>
<ellipse cx="151.5" cy="241.7" rx="3.4" ry="3.2" fill="#9A4AA8" opacity="0.28" transform="rotate(9 151.5 241.7)"/>
<ellipse cx="151.5" cy="241.7" rx="1.9" ry="1.7" fill="#5C1E78" opacity="0.74" transform="rotate(9 151.5 241.7)"/>
<ellipse cx="151.8" cy="241.8" rx="1.1" ry="2.0" fill="#5C1E78" opacity="0.55" transform="rotate(67 151.5 241.7)"/>
<ellipse cx="146.5" cy="246.7" rx="4.0" ry="2.5" fill="#9A4AA8" opacity="0.28" transform="rotate(3 146.5 246.7)"/>
<ellipse cx="146.5" cy="246.7" rx="2.3" ry="1.4" fill="#5C1E78" opacity="0.74" transform="rotate(3 146.5 246.7)"/>
<ellipse cx="146.4" cy="246.4" rx="1.3" ry="1.6" fill="#5C1E78" opacity="0.55" transform="rotate(40 146.5 246.7)"/>
<ellipse cx="142.6" cy="251.6" rx="2.7" ry="3.2" fill="#9A4AA8" opacity="0.28" transform="rotate(40 142.6 251.6)"/>
<ellipse cx="142.6" cy="251.6" rx="1.5" ry="1.7" fill="#5C1E78" opacity="0.74" transform="rotate(40 142.6 251.6)"/>
<ellipse cx="142.4" cy="251.4" rx="0.9" ry="2.0" fill="#5C1E78" opacity="0.55" transform="rotate(117 142.6 251.6)"/>
<ellipse cx="125.7" cy="260.5" rx="3.4" ry="3.8" fill="#9A4AA8" opacity="0.28" transform="rotate(-33 125.7 260.5)"/>
<ellipse cx="125.7" cy="260.5" rx="1.9" ry="2.1" fill="#5C1E78" opacity="0.74" transform="rotate(-33 125.7 260.5)"/>
<ellipse cx="125.4" cy="260.5" rx="1.1" ry="2.4" fill="#5C1E78" opacity="0.55" transform="rotate(53 125.7 260.5)"/>
<ellipse cx="113.9" cy="246.7" rx="2.7" ry="2.5" fill="#9A4AA8" opacity="0.28" transform="rotate(-22 113.9 246.7)"/>
<ellipse cx="113.9" cy="246.7" rx="1.5" ry="1.4" fill="#5C1E78" opacity="0.74" transform="rotate(-22 113.9 246.7)"/>
<ellipse cx="113.8" cy="246.3" rx="0.9" ry="1.6" fill="#5C1E78" opacity="0.55" transform="rotate(34 113.9 246.7)"/>
<ellipse cx="103.0" cy="263.5" rx="3.4" ry="3.2" fill="#9A4AA8" opacity="0.28" transform="rotate(12 103.0 263.5)"/>
<ellipse cx="103.0" cy="263.5" rx="1.9" ry="1.7" fill="#5C1E78" opacity="0.74" transform="rotate(12 103.0 263.5)"/>
<ellipse cx="102.7" cy="263.0" rx="1.1" ry="2.0" fill="#5C1E78" opacity="0.55" transform="rotate(78 103.0 263.5)"/>
<ellipse cx="176.2" cy="246.7" rx="2.7" ry="4.4" fill="#9A4AA8" opacity="0.28" transform="rotate(-3 176.2 246.7)"/>
<ellipse cx="176.2" cy="246.7" rx="1.5" ry="2.4" fill="#5C1E78" opacity="0.74" transform="rotate(-3 176.2 246.7)"/>
<ellipse cx="176.1" cy="246.3" rx="0.9" ry="2.8" fill="#5C1E78" opacity="0.55" transform="rotate(58 176.2 246.7)"/>
<ellipse cx="177.2" cy="217.9" rx="3.4" ry="3.2" fill="#9A4AA8" opacity="0.28" transform="rotate(-27 177.2 217.9)"/>
<ellipse cx="177.2" cy="217.9" rx="1.9" ry="1.7" fill="#5C1E78" opacity="0.74" transform="rotate(-27 177.2 217.9)"/>
<ellipse cx="177.0" cy="218.3" rx="1.1" ry="2.0" fill="#5C1E78" opacity="0.55" transform="rotate(10 177.2 217.9)"/>
<ellipse cx="150.5" cy="269.4" rx="2.7" ry="3.2" fill="#9A4AA8" opacity="0.28" transform="rotate(-21 150.5 269.4)"/>
<ellipse cx="150.5" cy="269.4" rx="1.5" ry="1.7" fill="#5C1E78" opacity="0.74" transform="rotate(-21 150.5 269.4)"/>
<ellipse cx="151.0" cy="269.0" rx="0.9" ry="2.0" fill="#5C1E78" opacity="0.55" transform="rotate(66 150.5 269.4)"/>
<ellipse cx="126.7" cy="280.3" rx="2.7" ry="2.5" fill="#9A4AA8" opacity="0.28" transform="rotate(-13 126.7 280.3)"/>
<ellipse cx="126.7" cy="280.3" rx="1.5" ry="1.4" fill="#5C1E78" opacity="0.74" transform="rotate(-13 126.7 280.3)"/>
<ellipse cx="126.8" cy="280.7" rx="0.9" ry="1.6" fill="#5C1E78" opacity="0.55" transform="rotate(24 126.7 280.3)"/>
<ellipse cx="135.6" cy="239.7" rx="2.7" ry="2.5" fill="#9A4AA8" opacity="0.28" transform="rotate(-8 135.6 239.7)"/>
<ellipse cx="135.6" cy="239.7" rx="1.5" ry="1.4" fill="#5C1E78" opacity="0.74" transform="rotate(-8 135.6 239.7)"/>
<ellipse cx="135.9" cy="240.2" rx="0.9" ry="1.6" fill="#5C1E78" opacity="0.55" transform="rotate(49 135.6 239.7)"/>
<ellipse cx="161.4" cy="254.6" rx="2.7" ry="2.5" fill="#9A4AA8" opacity="0.28" transform="rotate(-7 161.4 254.6)"/>
<ellipse cx="161.4" cy="254.6" rx="1.5" ry="1.4" fill="#5C1E78" opacity="0.74" transform="rotate(-7 161.4 254.6)"/>
<ellipse cx="161.9" cy="255.0" rx="0.9" ry="1.6" fill="#5C1E78" opacity="0.55" transform="rotate(29 161.4 254.6)"/>
<ellipse cx="38.8" cy="296.9" rx="2.0" ry="3.8" fill="#9A4AA8" opacity="0.28" transform="rotate(9 38.8 296.9)"/>
<ellipse cx="38.8" cy="296.9" rx="1.1" ry="2.1" fill="#5C1E78" opacity="0.74" transform="rotate(9 38.8 296.9)"/>
<ellipse cx="38.6" cy="297.3" rx="0.7" ry="2.4" fill="#5C1E78" opacity="0.55" transform="rotate(42 38.8 296.9)"/>
<ellipse cx="35.8" cy="303.8" rx="2.7" ry="2.5" fill="#9A4AA8" opacity="0.28" transform="rotate(-3 35.8 303.8)"/>
<ellipse cx="35.8" cy="303.8" rx="1.5" ry="1.4" fill="#5C1E78" opacity="0.74" transform="rotate(-3 35.8 303.8)"/>
<ellipse cx="35.5" cy="303.9" rx="0.9" ry="1.6" fill="#5C1E78" opacity="0.55" transform="rotate(55 35.8 303.8)"/>
<ellipse cx="45.7" cy="298.9" rx="3.4" ry="1.9" fill="#9A4AA8" opacity="0.28" transform="rotate(24 45.7 298.9)"/>
<ellipse cx="45.7" cy="298.9" rx="1.9" ry="1.0" fill="#5C1E78" opacity="0.74" transform="rotate(24 45.7 298.9)"/>
<ellipse cx="45.6" cy="298.5" rx="1.1" ry="1.2" fill="#5C1E78" opacity="0.55" transform="rotate(54 45.7 298.9)"/>
<ellipse cx="52.7" cy="301.8" rx="2.7" ry="1.9" fill="#9A4AA8" opacity="0.28" transform="rotate(27 52.7 301.8)"/>
<ellipse cx="52.7" cy="301.8" rx="1.5" ry="1.0" fill="#5C1E78" opacity="0.74" transform="rotate(27 52.7 301.8)"/>
<ellipse cx="52.5" cy="301.7" rx="0.9" ry="1.2" fill="#5C1E78" opacity="0.55" transform="rotate(59 52.7 301.8)"/>
<ellipse cx="70.5" cy="316.7" rx="2.7" ry="2.5" fill="#9A4AA8" opacity="0.28" transform="rotate(12 70.5 316.7)"/>
<ellipse cx="70.5" cy="316.7" rx="1.5" ry="1.4" fill="#5C1E78" opacity="0.74" transform="rotate(12 70.5 316.7)"/>
<ellipse cx="70.2" cy="316.7" rx="0.9" ry="1.6" fill="#5C1E78" opacity="0.55" transform="rotate(50 70.5 316.7)"/>
<ellipse cx="67.5" cy="323.6" rx="2.7" ry="3.2" fill="#9A4AA8" opacity="0.28" transform="rotate(-17 67.5 323.6)"/>
<ellipse cx="67.5" cy="323.6" rx="1.5" ry="1.7" fill="#5C1E78" opacity="0.74" transform="rotate(-17 67.5 323.6)"/>
<ellipse cx="67.5" cy="323.3" rx="0.9" ry="2.0" fill="#5C1E78" opacity="0.55" transform="rotate(24 67.5 323.6)"/>
<ellipse cx="60.6" cy="318.7" rx="3.4" ry="1.9" fill="#9A4AA8" opacity="0.28" transform="rotate(-15 60.6 318.7)"/>
<ellipse cx="60.6" cy="318.7" rx="1.9" ry="1.0" fill="#5C1E78" opacity="0.74" transform="rotate(-15 60.6 318.7)"/>
<ellipse cx="60.7" cy="319.0" rx="1.1" ry="1.2" fill="#5C1E78" opacity="0.55" transform="rotate(71 60.6 318.7)"/>
<ellipse cx="58.6" cy="331.5" rx="3.4" ry="3.2" fill="#9A4AA8" opacity="0.28" transform="rotate(37 58.6 331.5)"/>
<ellipse cx="58.6" cy="331.5" rx="1.9" ry="1.7" fill="#5C1E78" opacity="0.74" transform="rotate(37 58.6 331.5)"/>
<ellipse cx="58.8" cy="331.8" rx="1.1" ry="2.0" fill="#5C1E78" opacity="0.55" transform="rotate(78 58.6 331.5)"/>
<ellipse cx="62.6" cy="334.5" rx="2.7" ry="2.5" fill="#9A4AA8" opacity="0.28" transform="rotate(-14 62.6 334.5)"/>
<ellipse cx="62.6" cy="334.5" rx="1.5" ry="1.4" fill="#5C1E78" opacity="0.74" transform="rotate(-14 62.6 334.5)"/>
<ellipse cx="62.2" cy="334.7" rx="0.9" ry="1.6" fill="#5C1E78" opacity="0.55" transform="rotate(56 62.6 334.5)"/>
<ellipse cx="67.5" cy="331.5" rx="2.7" ry="2.5" fill="#9A4AA8" opacity="0.28" transform="rotate(-16 67.5 331.5)"/>
<ellipse cx="67.5" cy="331.5" rx="1.5" ry="1.4" fill="#5C1E78" opacity="0.74" transform="rotate(-16 67.5 331.5)"/>
<ellipse cx="67.6" cy="331.2" rx="0.9" ry="1.6" fill="#5C1E78" opacity="0.55" transform="rotate(18 67.5 331.5)"/>
<ellipse cx="73.5" cy="330.5" rx="2.7" ry="2.5" fill="#9A4AA8" opacity="0.28" transform="rotate(26 73.5 330.5)"/>
<ellipse cx="73.5" cy="330.5" rx="1.5" ry="1.4" fill="#5C1E78" opacity="0.74" transform="rotate(26 73.5 330.5)"/>
<ellipse cx="73.4" cy="330.8" rx="0.9" ry="1.6" fill="#5C1E78" opacity="0.55" transform="rotate(59 73.5 330.5)"/>
<ellipse cx="39.8" cy="337.5" rx="2.7" ry="2.5" fill="#9A4AA8" opacity="0.28" transform="rotate(26 39.8 337.5)"/>
<ellipse cx="39.8" cy="337.5" rx="1.5" ry="1.4" fill="#5C1E78" opacity="0.74" transform="rotate(26 39.8 337.5)"/>
<ellipse cx="40.1" cy="337.3" rx="0.9" ry="1.6" fill="#5C1E78" opacity="0.55" transform="rotate(109 39.8 337.5)"/>
<ellipse cx="90.3" cy="320.6" rx="3.4" ry="3.2" fill="#9A4AA8" opacity="0.28" transform="rotate(23 90.3 320.6)"/>
<ellipse cx="90.3" cy="320.6" rx="1.9" ry="1.7" fill="#5C1E78" opacity="0.74" transform="rotate(23 90.3 320.6)"/>
<ellipse cx="89.9" cy="320.5" rx="1.1" ry="2.0" fill="#5C1E78" opacity="0.55" transform="rotate(101 90.3 320.6)"/>
<ellipse cx="95.2" cy="323.6" rx="3.4" ry="3.2" fill="#9A4AA8" opacity="0.28" transform="rotate(21 95.2 323.6)"/>
<ellipse cx="95.2" cy="323.6" rx="1.9" ry="1.7" fill="#5C1E78" opacity="0.74" transform="rotate(21 95.2 323.6)"/>
<ellipse cx="94.9" cy="323.8" rx="1.1" ry="2.0" fill="#5C1E78" opacity="0.55" transform="rotate(66 95.2 323.6)"/>
<ellipse cx="97.2" cy="307.8" rx="3.4" ry="5.1" fill="#9A4AA8" opacity="0.28" transform="rotate(-17 97.2 307.8)"/>
<ellipse cx="97.2" cy="307.8" rx="1.9" ry="2.8" fill="#5C1E78" opacity="0.74" transform="rotate(-17 97.2 307.8)"/>
<ellipse cx="97.3" cy="308.2" rx="1.1" ry="3.2" fill="#5C1E78" opacity="0.55" transform="rotate(15 97.2 307.8)"/>
<ellipse cx="92.3" cy="290.9" rx="3.4" ry="2.5" fill="#9A4AA8" opacity="0.28" transform="rotate(-20 92.3 290.9)"/>
<ellipse cx="92.3" cy="290.9" rx="1.9" ry="1.4" fill="#5C1E78" opacity="0.74" transform="rotate(-20 92.3 290.9)"/>
<ellipse cx="92.5" cy="291.0" rx="1.1" ry="1.6" fill="#5C1E78" opacity="0.55" transform="rotate(64 92.3 290.9)"/>
<ellipse cx="23.0" cy="330.5" rx="2.0" ry="3.2" fill="#9A4AA8" opacity="0.28" transform="rotate(-40 23.0 330.5)"/>
<ellipse cx="23.0" cy="330.5" rx="1.1" ry="1.7" fill="#5C1E78" opacity="0.74" transform="rotate(-40 23.0 330.5)"/>
<ellipse cx="22.8" cy="331.0" rx="0.7" ry="2.0" fill="#5C1E78" opacity="0.55" transform="rotate(23 23.0 330.5)"/>
<ellipse cx="24.0" cy="343.4" rx="2.7" ry="3.2" fill="#9A4AA8" opacity="0.28" transform="rotate(-31 24.0 343.4)"/>
<ellipse cx="24.0" cy="343.4" rx="1.5" ry="1.7" fill="#5C1E78" opacity="0.74" transform="rotate(-31 24.0 343.4)"/>
<ellipse cx="23.6" cy="343.6" rx="0.9" ry="2.0" fill="#5C1E78" opacity="0.55" transform="rotate(51 24.0 343.4)"/>
<ellipse cx="49.7" cy="323.6" rx="1.7" ry="2.5" fill="#9A4AA8" opacity="0.28" transform="rotate(1 49.7 323.6)"/>
<ellipse cx="49.7" cy="323.6" rx="1.0" ry="1.4" fill="#5C1E78" opacity="0.74" transform="rotate(1 49.7 323.6)"/>
<ellipse cx="50.0" cy="324.0" rx="0.5" ry="1.6" fill="#5C1E78" opacity="0.55" transform="rotate(67 49.7 323.6)"/>
<ellipse cx="69.5" cy="288.0" rx="4.0" ry="2.5" fill="#9A4AA8" opacity="0.28" transform="rotate(-33 69.5 288.0)"/>
<ellipse cx="69.5" cy="288.0" rx="2.3" ry="1.4" fill="#5C1E78" opacity="0.74" transform="rotate(-33 69.5 288.0)"/>
<ellipse cx="69.3" cy="287.6" rx="1.3" ry="1.6" fill="#5C1E78" opacity="0.55" transform="rotate(43 69.5 288.0)"/>
<ellipse cx="104.0" cy="289.9" rx="3.4" ry="3.2" fill="#9A4AA8" opacity="0.28" transform="rotate(23 104.0 289.9)"/>
<ellipse cx="104.0" cy="289.9" rx="1.9" ry="1.7" fill="#5C1E78" opacity="0.74" transform="rotate(23 104.0 289.9)"/>
<ellipse cx="103.9" cy="289.5" rx="1.1" ry="2.0" fill="#5C1E78" opacity="0.55" transform="rotate(104 104.0 289.9)"/>
<ellipse cx="101.0" cy="306.8" rx="2.7" ry="3.2" fill="#9A4AA8" opacity="0.28" transform="rotate(28 101.0 306.8)"/>
<ellipse cx="101.0" cy="306.8" rx="1.5" ry="1.7" fill="#5C1E78" opacity="0.74" transform="rotate(28 101.0 306.8)"/>
<ellipse cx="100.6" cy="306.5" rx="0.9" ry="2.0" fill="#5C1E78" opacity="0.55" transform="rotate(63 101.0 306.8)"/>
<ellipse cx="105.9" cy="307.8" rx="2.7" ry="2.5" fill="#9A4AA8" opacity="0.28" transform="rotate(-12 105.9 307.8)"/>
<ellipse cx="105.9" cy="307.8" rx="1.5" ry="1.4" fill="#5C1E78" opacity="0.74" transform="rotate(-12 105.9 307.8)"/>
<ellipse cx="106.1" cy="307.4" rx="0.9" ry="1.6" fill="#5C1E78" opacity="0.55" transform="rotate(37 105.9 307.8)"/>
<ellipse cx="116.8" cy="298.9" rx="2.0" ry="3.2" fill="#9A4AA8" opacity="0.28" transform="rotate(-8 116.8 298.9)"/>
<ellipse cx="116.8" cy="298.9" rx="1.1" ry="1.7" fill="#5C1E78" opacity="0.74" transform="rotate(-8 116.8 298.9)"/>
<ellipse cx="116.9" cy="299.3" rx="0.7" ry="2.0" fill="#5C1E78" opacity="0.55" transform="rotate(23 116.8 298.9)"/>
<ellipse cx="132.7" cy="316.7" rx="3.4" ry="2.5" fill="#9A4AA8" opacity="0.28" transform="rotate(-28 132.7 316.7)"/>
<ellipse cx="132.7" cy="316.7" rx="1.9" ry="1.4" fill="#5C1E78" opacity="0.74" transform="rotate(-28 132.7 316.7)"/>
<ellipse cx="133.1" cy="316.9" rx="1.1" ry="1.6" fill="#5C1E78" opacity="0.55" transform="rotate(18 132.7 316.7)"/>
<ellipse cx="136.6" cy="319.6" rx="3.4" ry="3.2" fill="#9A4AA8" opacity="0.28" transform="rotate(-38 136.6 319.6)"/>
<ellipse cx="136.6" cy="319.6" rx="1.9" ry="1.7" fill="#5C1E78" opacity="0.74" transform="rotate(-38 136.6 319.6)"/>
<ellipse cx="137.0" cy="319.8" rx="1.1" ry="2.0" fill="#5C1E78" opacity="0.55" transform="rotate(21 136.6 319.6)"/>
<ellipse cx="141.6" cy="323.6" rx="2.7" ry="3.8" fill="#9A4AA8" opacity="0.28" transform="rotate(26 141.6 323.6)"/>
<ellipse cx="141.6" cy="323.6" rx="1.5" ry="2.1" fill="#5C1E78" opacity="0.74" transform="rotate(26 141.6 323.6)"/>
<ellipse cx="141.3" cy="323.5" rx="0.9" ry="2.4" fill="#5C1E78" opacity="0.55" transform="rotate(78 141.6 323.6)"/>
<ellipse cx="138.6" cy="329.5" rx="3.4" ry="3.2" fill="#9A4AA8" opacity="0.28" transform="rotate(-28 138.6 329.5)"/>
<ellipse cx="138.6" cy="329.5" rx="1.9" ry="1.7" fill="#5C1E78" opacity="0.74" transform="rotate(-28 138.6 329.5)"/>
<ellipse cx="138.8" cy="329.1" rx="1.1" ry="2.0" fill="#5C1E78" opacity="0.55" transform="rotate(9 138.6 329.5)"/>
<ellipse cx="133.7" cy="332.5" rx="4.0" ry="3.2" fill="#9A4AA8" opacity="0.28" transform="rotate(19 133.7 332.5)"/>
<ellipse cx="133.7" cy="332.5" rx="2.3" ry="1.7" fill="#5C1E78" opacity="0.74" transform="rotate(19 133.7 332.5)"/>
<ellipse cx="133.7" cy="332.5" rx="1.3" ry="2.0" fill="#5C1E78" opacity="0.55" transform="rotate(66 133.7 332.5)"/>
<ellipse cx="125.7" cy="335.5" rx="3.4" ry="2.5" fill="#9A4AA8" opacity="0.28" transform="rotate(-26 125.7 335.5)"/>
<ellipse cx="125.7" cy="335.5" rx="1.9" ry="1.4" fill="#5C1E78" opacity="0.74" transform="rotate(-26 125.7 335.5)"/>
<ellipse cx="125.4" cy="335.4" rx="1.1" ry="1.6" fill="#5C1E78" opacity="0.55" transform="rotate(12 125.7 335.5)"/>
<ellipse cx="105.9" cy="336.5" rx="3.4" ry="4.4" fill="#9A4AA8" opacity="0.28" transform="rotate(29 105.9 336.5)"/>
<ellipse cx="105.9" cy="336.5" rx="1.9" ry="2.4" fill="#5C1E78" opacity="0.74" transform="rotate(29 105.9 336.5)"/>
<ellipse cx="106.0" cy="336.8" rx="1.1" ry="2.8" fill="#5C1E78" opacity="0.55" transform="rotate(68 105.9 336.5)"/>
<ellipse cx="144.6" cy="333.5" rx="3.4" ry="3.2" fill="#9A4AA8" opacity="0.28" transform="rotate(33 144.6 333.5)"/>
<ellipse cx="144.6" cy="333.5" rx="1.9" ry="1.7" fill="#5C1E78" opacity="0.74" transform="rotate(33 144.6 333.5)"/>
<ellipse cx="144.5" cy="333.4" rx="1.1" ry="2.0" fill="#5C1E78" opacity="0.55" transform="rotate(123 144.6 333.5)"/>
<ellipse cx="148.5" cy="337.5" rx="3.4" ry="2.5" fill="#9A4AA8" opacity="0.28" transform="rotate(-38 148.5 337.5)"/>
<ellipse cx="148.5" cy="337.5" rx="1.9" ry="1.4" fill="#5C1E78" opacity="0.74" transform="rotate(-38 148.5 337.5)"/>
<ellipse cx="149.0" cy="337.4" rx="1.1" ry="1.6" fill="#5C1E78" opacity="0.55" transform="rotate(18 148.5 337.5)"/>
<ellipse cx="136.6" cy="289.9" rx="2.7" ry="3.2" fill="#9A4AA8" opacity="0.28" transform="rotate(36 136.6 289.9)"/>
<ellipse cx="136.6" cy="289.9" rx="1.5" ry="1.7" fill="#5C1E78" opacity="0.74" transform="rotate(36 136.6 289.9)"/>
<ellipse cx="137.0" cy="290.0" rx="0.9" ry="2.0" fill="#5C1E78" opacity="0.55" transform="rotate(91 136.6 289.9)"/>
<ellipse cx="142.6" cy="291.9" rx="3.4" ry="3.2" fill="#9A4AA8" opacity="0.28" transform="rotate(-34 142.6 291.9)"/>
<ellipse cx="142.6" cy="291.9" rx="1.9" ry="1.7" fill="#5C1E78" opacity="0.74" transform="rotate(-34 142.6 291.9)"/>
<ellipse cx="142.9" cy="291.8" rx="1.1" ry="2.0" fill="#5C1E78" opacity="0.55" transform="rotate(11 142.6 291.9)"/>
<ellipse cx="147.5" cy="292.9" rx="2.7" ry="2.5" fill="#9A4AA8" opacity="0.28" transform="rotate(2 147.5 292.9)"/>
<ellipse cx="147.5" cy="292.9" rx="1.5" ry="1.4" fill="#5C1E78" opacity="0.74" transform="rotate(2 147.5 292.9)"/>
<ellipse cx="147.7" cy="293.3" rx="0.9" ry="1.6" fill="#5C1E78" opacity="0.55" transform="rotate(68 147.5 292.9)"/>
<ellipse cx="152.5" cy="293.9" rx="2.7" ry="2.5" fill="#9A4AA8" opacity="0.28" transform="rotate(1 152.5 293.9)"/>
<ellipse cx="152.5" cy="293.9" rx="1.5" ry="1.4" fill="#5C1E78" opacity="0.74" transform="rotate(1 152.5 293.9)"/>
<ellipse cx="152.8" cy="294.2" rx="0.9" ry="1.6" fill="#5C1E78" opacity="0.55" transform="rotate(34 152.5 293.9)"/>
<ellipse cx="140.6" cy="303.8" rx="2.7" ry="4.4" fill="#9A4AA8" opacity="0.28" transform="rotate(1 140.6 303.8)"/>
<ellipse cx="140.6" cy="303.8" rx="1.5" ry="2.4" fill="#5C1E78" opacity="0.74" transform="rotate(1 140.6 303.8)"/>
<ellipse cx="140.6" cy="304.3" rx="0.9" ry="2.8" fill="#5C1E78" opacity="0.55" transform="rotate(90 140.6 303.8)"/>
<ellipse cx="159.4" cy="290.9" rx="2.7" ry="2.5" fill="#9A4AA8" opacity="0.28" transform="rotate(5 159.4 290.9)"/>
<ellipse cx="159.4" cy="290.9" rx="1.5" ry="1.4" fill="#5C1E78" opacity="0.74" transform="rotate(5 159.4 290.9)"/>
<ellipse cx="159.2" cy="290.9" rx="0.9" ry="1.6" fill="#5C1E78" opacity="0.55" transform="rotate(75 159.4 290.9)"/>
<ellipse cx="165.3" cy="288.0" rx="3.4" ry="3.2" fill="#9A4AA8" opacity="0.28" transform="rotate(-39 165.3 288.0)"/>
<ellipse cx="165.3" cy="288.0" rx="1.9" ry="1.7" fill="#5C1E78" opacity="0.74" transform="rotate(-39 165.3 288.0)"/>
<ellipse cx="165.2" cy="288.0" rx="1.1" ry="2.0" fill="#5C1E78" opacity="0.55" transform="rotate(-5 165.3 288.0)"/>
<ellipse cx="163.4" cy="299.8" rx="2.7" ry="2.5" fill="#9A4AA8" opacity="0.28" transform="rotate(1 163.4 299.8)"/>
<ellipse cx="163.4" cy="299.8" rx="1.5" ry="1.4" fill="#5C1E78" opacity="0.74" transform="rotate(1 163.4 299.8)"/>
<ellipse cx="163.3" cy="299.8" rx="0.9" ry="1.6" fill="#5C1E78" opacity="0.55" transform="rotate(32 163.4 299.8)"/>
<ellipse cx="143.6" cy="313.7" rx="2.7" ry="3.2" fill="#9A4AA8" opacity="0.28" transform="rotate(-12 143.6 313.7)"/>
<ellipse cx="143.6" cy="313.7" rx="1.5" ry="1.7" fill="#5C1E78" opacity="0.74" transform="rotate(-12 143.6 313.7)"/>
<ellipse cx="143.2" cy="314.2" rx="0.9" ry="2.0" fill="#5C1E78" opacity="0.55" transform="rotate(67 143.6 313.7)"/>
</g>
<rect x="32.2" y="345.9" width="115.6" height="5.1" fill="#f6eefa" opacity="0.5"/>
<text x="92" y="350.3" font-size="3.6" font-style="italic" fill="#333" text-anchor="middle">20um</text>
</g>
<g clip-path="url(#c2)">
<rect x="183.2" y="212.0" width="157.4" height="144.5" fill="#D44090"/>
<g filter="url(#b3)">
<ellipse cx="209.2" cy="311.7" rx="9.4" ry="8.4" fill="#E46CAE" opacity="0.55"/>
<ellipse cx="308.0" cy="328.7" rx="8.6" ry="8.5" fill="#E46CAE" opacity="0.55"/>
<ellipse cx="183.7" cy="265.6" rx="9.1" ry="5.5" fill="#A63082" opacity="0.55"/>
<ellipse cx="219.8" cy="245.6" rx="5.3" ry="12.0" fill="#A63082" opacity="0.55"/>
<ellipse cx="320.9" cy="301.0" rx="5.2" ry="7.3" fill="#E46CAE" opacity="0.55"/>
<ellipse cx="201.4" cy="349.6" rx="7.6" ry="6.1" fill="#A63082" opacity="0.55"/>
<ellipse cx="202.9" cy="346.1" rx="8.2" ry="8.9" fill="#E46CAE" opacity="0.55"/>
<ellipse cx="259.5" cy="239.0" rx="5.3" ry="11.1" fill="#E46CAE" opacity="0.55"/>
<ellipse cx="306.0" cy="242.1" rx="11.8" ry="11.3" fill="#A63082" opacity="0.55"/>
<ellipse cx="303.3" cy="295.9" rx="10.1" ry="5.9" fill="#E46CAE" opacity="0.55"/>
<ellipse cx="313.4" cy="241.1" rx="11.5" ry="11.2" fill="#E46CAE" opacity="0.55"/>
<ellipse cx="240.7" cy="277.2" rx="7.7" ry="12.0" fill="#E46CAE" opacity="0.55"/>
<ellipse cx="187.4" cy="225.5" rx="10.0" ry="11.9" fill="#E46CAE" opacity="0.55"/>
<ellipse cx="260.6" cy="291.5" rx="10.2" ry="6.6" fill="#A63082" opacity="0.55"/>
<ellipse cx="270.8" cy="302.0" rx="6.3" ry="6.2" fill="#E46CAE" opacity="0.55"/>
<ellipse cx="329.1" cy="262.1" rx="9.2" ry="7.1" fill="#E46CAE" opacity="0.55"/>
<ellipse cx="193.5" cy="329.6" rx="10.4" ry="7.6" fill="#A63082" opacity="0.55"/>
<ellipse cx="289.6" cy="341.9" rx="11.7" ry="7.8" fill="#A63082" opacity="0.55"/>
<ellipse cx="334.5" cy="297.3" rx="11.2" ry="8.4" fill="#E46CAE" opacity="0.55"/>
<ellipse cx="222.1" cy="338.6" rx="6.1" ry="5.5" fill="#A63082" opacity="0.55"/>
<ellipse cx="305.0" cy="281.8" rx="10.9" ry="5.4" fill="#E46CAE" opacity="0.55"/>
<ellipse cx="228.8" cy="272.6" rx="6.2" ry="5.5" fill="#E46CAE" opacity="0.55"/>
<ellipse cx="324.7" cy="354.1" rx="10.2" ry="8.4" fill="#E46CAE" opacity="0.55"/>
<ellipse cx="334.1" cy="288.0" rx="10.1" ry="5.2" fill="#E46CAE" opacity="0.55"/>
<ellipse cx="315.1" cy="326.9" rx="11.2" ry="9.2" fill="#E46CAE" opacity="0.55"/>
<ellipse cx="274.7" cy="334.7" rx="7.2" ry="8.7" fill="#E46CAE" opacity="0.55"/>
<ellipse cx="304.1" cy="213.5" rx="9.8" ry="11.7" fill="#E46CAE" opacity="0.55"/>
<ellipse cx="276.6" cy="305.0" rx="11.0" ry="9.1" fill="#E46CAE" opacity="0.55"/>
<ellipse cx="247.0" cy="350.5" rx="11.3" ry="5.9" fill="#E46CAE" opacity="0.55"/>
<ellipse cx="198.0" cy="215.7" rx="8.1" ry="6.0" fill="#A63082" opacity="0.55"/>
<ellipse cx="286.3" cy="230.3" rx="8.8" ry="7.3" fill="#E46CAE" opacity="0.55"/>
<ellipse cx="217.8" cy="236.0" rx="6.3" ry="7.6" fill="#A63082" opacity="0.55"/>
<ellipse cx="269.8" cy="218.7" rx="10.0" ry="11.1" fill="#A63082" opacity="0.55"/>
<ellipse cx="307.7" cy="213.1" rx="8.2" ry="5.4" fill="#A63082" opacity="0.55"/>
<ellipse cx="210.8" cy="314.8" rx="6.8" ry="9.9" fill="#E46CAE" opacity="0.55"/>
<ellipse cx="189.8" cy="268.2" rx="7.2" ry="11.3" fill="#E46CAE" opacity="0.55"/>
<ellipse cx="262.4" cy="291.4" rx="11.6" ry="5.7" fill="#A63082" opacity="0.55"/>
<ellipse cx="263.2" cy="318.1" rx="11.8" ry="7.2" fill="#A63082" opacity="0.55"/>
<ellipse cx="266.0" cy="293.0" rx="5.4" ry="10.7" fill="#A63082" opacity="0.55"/>
<ellipse cx="239.1" cy="258.0" rx="12.0" ry="5.8" fill="#E46CAE" opacity="0.55"/>
<ellipse cx="194.7" cy="329.7" rx="10.3" ry="8.1" fill="#A63082" opacity="0.55"/>
<ellipse cx="186.3" cy="305.2" rx="8.1" ry="8.6" fill="#E46CAE" opacity="0.55"/>
<ellipse cx="246.4" cy="244.6" rx="5.3" ry="8.0" fill="#E46CAE" opacity="0.55"/>
<ellipse cx="294.0" cy="330.1" rx="10.1" ry="8.2" fill="#E46CAE" opacity="0.55"/>
<ellipse cx="243.9" cy="282.3" rx="9.4" ry="11.7" fill="#E46CAE" opacity="0.55"/>
<ellipse cx="258.7" cy="283.1" rx="10.0" ry="11.2" fill="#A63082" opacity="0.55"/>
<ellipse cx="281.9" cy="321.6" rx="9.7" ry="11.0" fill="#A63082" opacity="0.55"/>
<ellipse cx="290.7" cy="247.4" rx="11.4" ry="7.7" fill="#A63082" opacity="0.55"/>
<ellipse cx="313.0" cy="351.3" rx="11.9" ry="5.0" fill="#E46CAE" opacity="0.55"/>
<ellipse cx="232.3" cy="268.5" rx="6.0" ry="8.9" fill="#E46CAE" opacity="0.55"/>
<ellipse cx="230.8" cy="348.3" rx="10.2" ry="8.2" fill="#E46CAE" opacity="0.55"/>
<ellipse cx="333.7" cy="313.7" rx="6.4" ry="7.3" fill="#A63082" opacity="0.55"/>
<ellipse cx="290.5" cy="249.7" rx="11.7" ry="7.3" fill="#E46CAE" opacity="0.55"/>
<ellipse cx="316.3" cy="234.2" rx="9.8" ry="6.4" fill="#A63082" opacity="0.55"/>
<ellipse cx="226.9" cy="266.8" rx="11.6" ry="8.3" fill="#E46CAE" opacity="0.55"/>
<ellipse cx="280.3" cy="252.6" rx="6.2" ry="7.7" fill="#E46CAE" opacity="0.55"/>
<ellipse cx="212.9" cy="350.8" rx="5.2" ry="10.7" fill="#A63082" opacity="0.55"/>
<ellipse cx="294.1" cy="214.7" rx="8.5" ry="5.3" fill="#A63082" opacity="0.55"/>
<ellipse cx="293.4" cy="246.7" rx="5.1" ry="8.8" fill="#E46CAE" opacity="0.55"/>
<ellipse cx="231.8" cy="277.6" rx="11.3" ry="7.6" fill="#E46CAE" opacity="0.55"/>
<ellipse cx="307.8" cy="330.8" rx="8.7" ry="5.3" fill="#E46CAE" opacity="0.55"/>
<ellipse cx="246.6" cy="291.7" rx="6.6" ry="10.6" fill="#A63082" opacity="0.55"/>
<ellipse cx="328.8" cy="339.7" rx="5.1" ry="9.1" fill="#E46CAE" opacity="0.55"/>
<ellipse cx="324.8" cy="319.9" rx="10.3" ry="6.3" fill="#E46CAE" opacity="0.55"/>
<ellipse cx="311.5" cy="299.6" rx="9.3" ry="8.3" fill="#A63082" opacity="0.55"/>
<ellipse cx="236.4" cy="251.0" rx="7.5" ry="7.1" fill="#A63082" opacity="0.55"/>
<ellipse cx="323.3" cy="222.3" rx="5.5" ry="8.6" fill="#A63082" opacity="0.55"/>
<ellipse cx="213.1" cy="251.0" rx="5.4" ry="5.3" fill="#E46CAE" opacity="0.55"/>
<ellipse cx="290.4" cy="306.4" rx="6.1" ry="5.7" fill="#A63082" opacity="0.55"/>
<ellipse cx="268.0" cy="271.0" rx="9.8" ry="10.1" fill="#E46CAE" opacity="0.55"/>
<ellipse cx="195.5" cy="331.5" rx="4.1" ry="3.2" fill="#8E40A2" opacity="0.32"/>
<ellipse cx="238.6" cy="289.0" rx="6.1" ry="3.9" fill="#8E40A2" opacity="0.32"/>
<ellipse cx="294.9" cy="283.4" rx="3.8" ry="7.3" fill="#8E40A2" opacity="0.32"/>
<ellipse cx="310.2" cy="343.0" rx="6.4" ry="4.1" fill="#8E40A2" opacity="0.32"/>
<ellipse cx="305.6" cy="342.4" rx="5.7" ry="7.5" fill="#8E40A2" opacity="0.32"/>
<ellipse cx="335.9" cy="268.4" rx="7.7" ry="7.7" fill="#8E40A2" opacity="0.32"/>
<ellipse cx="308.2" cy="213.6" rx="4.8" ry="6.1" fill="#8E40A2" opacity="0.32"/>
<ellipse cx="278.8" cy="321.2" rx="6.2" ry="3.8" fill="#8E40A2" opacity="0.32"/>
<ellipse cx="329.7" cy="289.5" rx="7.4" ry="4.0" fill="#8E40A2" opacity="0.32"/>
<ellipse cx="340.3" cy="292.2" rx="6.9" ry="6.7" fill="#8E40A2" opacity="0.32"/>
<ellipse cx="322.2" cy="264.4" rx="3.4" ry="5.0" fill="#8E40A2" opacity="0.32"/>
<ellipse cx="211.3" cy="290.0" rx="7.1" ry="4.8" fill="#8E40A2" opacity="0.32"/>
<ellipse cx="203.8" cy="215.9" rx="5.1" ry="5.9" fill="#8E40A2" opacity="0.32"/>
<ellipse cx="187.3" cy="308.2" rx="4.1" ry="3.5" fill="#8E40A2" opacity="0.32"/>
<ellipse cx="329.2" cy="287.6" rx="7.5" ry="5.6" fill="#8E40A2" opacity="0.32"/>
<ellipse cx="202.5" cy="246.7" rx="5.1" ry="6.2" fill="#8E40A2" opacity="0.32"/>
<ellipse cx="304.5" cy="320.6" rx="6.3" ry="4.3" fill="#8E40A2" opacity="0.32"/>
<ellipse cx="250.9" cy="266.6" rx="5.4" ry="4.3" fill="#8E40A2" opacity="0.32"/>
<ellipse cx="267.9" cy="278.3" rx="3.2" ry="7.1" fill="#8E40A2" opacity="0.32"/>
<ellipse cx="275.5" cy="328.0" rx="6.7" ry="6.7" fill="#8E40A2" opacity="0.32"/>
<ellipse cx="339.6" cy="266.5" rx="5.0" ry="3.0" fill="#8E40A2" opacity="0.32"/>
<ellipse cx="287.8" cy="296.0" rx="5.9" ry="8.0" fill="#8E40A2" opacity="0.32"/>
<ellipse cx="214.2" cy="244.8" rx="6.7" ry="7.1" fill="#8E40A2" opacity="0.32"/>
<ellipse cx="259.2" cy="219.9" rx="4.9" ry="7.1" fill="#8E40A2" opacity="0.32"/>
<ellipse cx="261.9" cy="278.7" rx="4.9" ry="6.1" fill="#8E40A2" opacity="0.32"/>
<ellipse cx="277.4" cy="312.1" rx="7.3" ry="6.8" fill="#8E40A2" opacity="0.32"/>
<ellipse cx="242.2" cy="248.2" rx="6.9" ry="7.0" fill="#8E40A2" opacity="0.32"/>
<ellipse cx="329.3" cy="240.7" rx="7.2" ry="7.5" fill="#8E40A2" opacity="0.32"/>
<ellipse cx="195.4" cy="256.5" rx="6.2" ry="3.7" fill="#8E40A2" opacity="0.32"/>
<ellipse cx="314.0" cy="250.3" rx="6.4" ry="4.5" fill="#8E40A2" opacity="0.32"/>
<ellipse cx="217.5" cy="241.9" rx="5.5" ry="6.6" fill="#8E40A2" opacity="0.32"/>
<ellipse cx="217.5" cy="311.2" rx="4.7" ry="6.2" fill="#8E40A2" opacity="0.32"/>
<ellipse cx="241.2" cy="239.9" rx="3.7" ry="3.3" fill="#8E40A2" opacity="0.32"/>
<ellipse cx="292.8" cy="271.8" rx="3.6" ry="7.4" fill="#8E40A2" opacity="0.32"/>
<ellipse cx="286.3" cy="215.1" rx="6.6" ry="6.0" fill="#8E40A2" opacity="0.32"/>
<ellipse cx="253.0" cy="284.3" rx="7.8" ry="4.9" fill="#8E40A2" opacity="0.32"/>
<ellipse cx="283.3" cy="303.9" rx="4.8" ry="4.7" fill="#8E40A2" opacity="0.32"/>
<ellipse cx="302.0" cy="303.9" rx="5.3" ry="5.6" fill="#8E40A2" opacity="0.32"/>
<ellipse cx="218.4" cy="326.1" rx="3.1" ry="6.2" fill="#8E40A2" opacity="0.32"/>
<ellipse cx="254.8" cy="244.0" rx="5.9" ry="5.9" fill="#8E40A2" opacity="0.32"/>
</g>
<g filter="url(#b1)" fill="none" stroke-linecap="round">
<path d="M185.9 212.0Q213.7 212.4 241.4 212.0" stroke="#FCD2EA" stroke-opacity="0.14" stroke-width="0.75"/>
<path d="M185.9 212.0Q213.7 212.4 241.4 212.0" stroke="#A63082" stroke-opacity="0.25" stroke-width="2.2"/>
<path d="M181.5 211.1Q183.4 211.2 183.2 212.0" stroke="#FCD2EA" stroke-opacity="0.31" stroke-width="0.62"/>

<path d="M183.2 212.0Q185.5 212.7 185.9 212.0" stroke="#FCD2EA" stroke-opacity="0.27" stroke-width="0.69"/>

<path d="M185.9 212.0Q190.2 217.6 196.6 220.9" stroke="#FCD2EA" stroke-opacity="0.31" stroke-width="0.96"/>

<path d="M237.0 221.7Q238.4 216.4 241.4 212.0" stroke="#FCD2EA" stroke-opacity="0.28" stroke-width="0.93"/>

<path d="M237.0 221.7Q223.4 221.9 208.3 224.4" stroke="#FCD2EA" stroke-opacity="0.20" stroke-width="0.65"/>
<path d="M237.0 221.7Q223.4 221.9 208.3 224.4" stroke="#A63082" stroke-opacity="0.25" stroke-width="2.2"/>
<path d="M196.6 220.9Q203.2 223.3 208.3 224.4" stroke="#FCD2EA" stroke-opacity="0.17" stroke-width="0.75"/>
<path d="M196.6 220.9Q203.2 223.3 208.3 224.4" stroke="#A63082" stroke-opacity="0.25" stroke-width="2.2"/>
<path d="M235.8 227.8Q243.4 239.1 250.1 250.7" stroke="#FCD2EA" stroke-opacity="0.19" stroke-width="0.79"/>

<path d="M235.8 227.8Q229.8 234.0 224.0 239.2" stroke="#FCD2EA" stroke-opacity="0.28" stroke-width="0.84"/>

<path d="M224.0 239.2Q220.3 245.0 217.2 252.3" stroke="#FCD2EA" stroke-opacity="0.25" stroke-width="0.75"/>
<path d="M224.0 239.2Q220.3 245.0 217.2 252.3" stroke="#A63082" stroke-opacity="0.25" stroke-width="2.2"/>
<path d="M217.2 252.3Q232.0 253.6 248.4 252.8" stroke="#FCD2EA" stroke-opacity="0.23" stroke-width="0.70"/>
<path d="M217.2 252.3Q232.0 253.6 248.4 252.8" stroke="#A63082" stroke-opacity="0.25" stroke-width="2.2"/>
<path d="M248.4 252.8Q248.6 252.6 250.1 250.7" stroke="#FCD2EA" stroke-opacity="0.21" stroke-width="0.93"/>
<path d="M248.4 252.8Q248.6 252.6 250.1 250.7" stroke="#A63082" stroke-opacity="0.25" stroke-width="2.2"/>
<path d="M237.0 221.7Q236.8 224.6 235.8 227.8" stroke="#FCD2EA" stroke-opacity="0.30" stroke-width="0.86"/>

<path d="M208.3 224.4Q215.6 232.1 224.0 239.2" stroke="#FCD2EA" stroke-opacity="0.32" stroke-width="0.95"/>

<path d="M331.7 350.3Q313.7 333.5 296.5 314.6" stroke="#FCD2EA" stroke-opacity="0.32" stroke-width="0.67"/>

<path d="M331.7 350.3Q329.5 319.7 325.8 288.3" stroke="#FCD2EA" stroke-opacity="0.35" stroke-width="1.04"/>
<path d="M331.7 350.3Q329.5 319.7 325.8 288.3" stroke="#A63082" stroke-opacity="0.25" stroke-width="2.2"/>
<path d="M296.5 314.6Q300.9 306.9 302.9 300.0" stroke="#FCD2EA" stroke-opacity="0.22" stroke-width="1.09"/>
<path d="M296.5 314.6Q300.9 306.9 302.9 300.0" stroke="#A63082" stroke-opacity="0.25" stroke-width="2.2"/>
<path d="M302.9 300.0Q310.5 292.4 318.7 284.1" stroke="#FCD2EA" stroke-opacity="0.20" stroke-width="0.73"/>

<path d="M325.8 288.3Q322.6 286.8 318.7 284.1" stroke="#FCD2EA" stroke-opacity="0.31" stroke-width="1.04"/>

<path d="M340.6 356.5Q341.4 321.7 340.6 284.5" stroke="#FCD2EA" stroke-opacity="0.25" stroke-width="0.95"/>

<path d="M340.6 356.5Q344.1 357.0 345.2 356.8" stroke="#FCD2EA" stroke-opacity="0.23" stroke-width="0.93"/>
<path d="M340.6 356.5Q344.1 357.0 345.2 356.8" stroke="#A63082" stroke-opacity="0.25" stroke-width="2.2"/>
<path d="M340.6 263.4Q339.7 273.7 340.6 284.5" stroke="#FCD2EA" stroke-opacity="0.17" stroke-width="0.60"/>
<path d="M340.6 263.4Q339.7 273.7 340.6 284.5" stroke="#A63082" stroke-opacity="0.25" stroke-width="2.2"/>
<path d="M325.8 288.3Q333.1 287.0 340.6 284.5" stroke="#FCD2EA" stroke-opacity="0.15" stroke-width="0.92"/>
<path d="M325.8 288.3Q333.1 287.0 340.6 284.5" stroke="#A63082" stroke-opacity="0.25" stroke-width="2.2"/>
<path d="M335.8 356.5Q333.8 352.9 331.7 350.3" stroke="#FCD2EA" stroke-opacity="0.24" stroke-width="0.96"/>

<path d="M335.8 356.5Q337.9 357.1 340.6 356.5" stroke="#FCD2EA" stroke-opacity="0.16" stroke-width="0.77"/>

<path d="M200.8 356.5Q203.5 357.7 204.5 356.5" stroke="#FCD2EA" stroke-opacity="0.19" stroke-width="0.91"/>
<path d="M200.8 356.5Q203.5 357.7 204.5 356.5" stroke="#A63082" stroke-opacity="0.25" stroke-width="2.2"/>
<path d="M204.5 356.5Q208.7 346.8 212.0 335.3" stroke="#FCD2EA" stroke-opacity="0.17" stroke-width="0.77"/>

<path d="M200.8 356.5Q200.5 342.9 200.8 328.6" stroke="#FCD2EA" stroke-opacity="0.32" stroke-width="0.74"/>

<path d="M212.0 335.3Q205.2 331.5 200.8 328.6" stroke="#FCD2EA" stroke-opacity="0.17" stroke-width="0.77"/>
<path d="M212.0 335.3Q205.2 331.5 200.8 328.6" stroke="#A63082" stroke-opacity="0.25" stroke-width="2.2"/>
<path d="M300.0 269.4Q298.7 269.3 299.7 267.6" stroke="#FCD2EA" stroke-opacity="0.18" stroke-width="0.89"/>

<path d="M300.0 269.4Q309.1 274.9 316.4 278.6" stroke="#FCD2EA" stroke-opacity="0.27" stroke-width="0.68"/>

<path d="M299.7 267.6Q301.3 262.5 305.0 255.3" stroke="#FCD2EA" stroke-opacity="0.21" stroke-width="0.73"/>
<path d="M299.7 267.6Q301.3 262.5 305.0 255.3" stroke="#A63082" stroke-opacity="0.25" stroke-width="2.2"/>
<path d="M318.6 275.6Q317.2 277.8 316.4 278.6" stroke="#FCD2EA" stroke-opacity="0.33" stroke-width="0.97"/>

<path d="M318.6 275.6Q321.1 261.4 324.9 248.1" stroke="#FCD2EA" stroke-opacity="0.20" stroke-width="0.82"/>

<path d="M305.0 255.3Q315.9 250.6 324.4 248.0" stroke="#FCD2EA" stroke-opacity="0.35" stroke-width="1.06"/>

<path d="M324.4 248.0Q325.1 248.7 324.9 248.1" stroke="#FCD2EA" stroke-opacity="0.18" stroke-width="0.91"/>

<path d="M302.9 300.0Q299.3 289.3 293.9 276.7" stroke="#FCD2EA" stroke-opacity="0.16" stroke-width="0.96"/>

<path d="M293.9 276.7Q298.0 272.2 300.0 269.4" stroke="#FCD2EA" stroke-opacity="0.26" stroke-width="0.66"/>

<path d="M318.7 284.1Q318.1 280.2 316.4 278.6" stroke="#FCD2EA" stroke-opacity="0.21" stroke-width="0.67"/>

<path d="M340.6 263.4Q329.9 268.4 318.6 275.6" stroke="#FCD2EA" stroke-opacity="0.35" stroke-width="1.08"/>

<path d="M296.5 314.6Q292.9 313.3 288.9 312.6" stroke="#FCD2EA" stroke-opacity="0.27" stroke-width="0.80"/>

<path d="M288.9 312.6Q277.1 333.7 264.0 356.5" stroke="#FCD2EA" stroke-opacity="0.20" stroke-width="0.98"/>
<path d="M288.9 312.6Q277.1 333.7 264.0 356.5" stroke="#A63082" stroke-opacity="0.25" stroke-width="2.2"/>
<path d="M335.8 356.5Q298.8 357.5 264.0 356.5" stroke="#FCD2EA" stroke-opacity="0.17" stroke-width="0.81"/>
<path d="M335.8 356.5Q298.8 357.5 264.0 356.5" stroke="#A63082" stroke-opacity="0.25" stroke-width="2.2"/>
<path d="M264.0 356.5Q259.8 356.1 256.7 356.5" stroke="#FCD2EA" stroke-opacity="0.26" stroke-width="0.66"/>

<path d="M258.3 295.8Q264.6 288.6 273.1 283.6" stroke="#FCD2EA" stroke-opacity="0.18" stroke-width="0.72"/>
<path d="M258.3 295.8Q264.6 288.6 273.1 283.6" stroke="#A63082" stroke-opacity="0.25" stroke-width="2.2"/>
<path d="M258.3 295.8Q262.7 305.3 268.2 313.1" stroke="#FCD2EA" stroke-opacity="0.28" stroke-width="0.84"/>

<path d="M268.2 313.1Q269.3 312.9 269.5 313.6" stroke="#FCD2EA" stroke-opacity="0.27" stroke-width="0.97"/>

<path d="M269.5 313.6Q276.0 313.2 281.3 312.2" stroke="#FCD2EA" stroke-opacity="0.34" stroke-width="0.73"/>

<path d="M281.3 312.2Q284.8 311.7 285.8 311.1" stroke="#FCD2EA" stroke-opacity="0.34" stroke-width="0.65"/>

<path d="M285.8 311.1Q280.8 299.0 276.9 285.7" stroke="#FCD2EA" stroke-opacity="0.23" stroke-width="0.87"/>
<path d="M285.8 311.1Q280.8 299.0 276.9 285.7" stroke="#A63082" stroke-opacity="0.25" stroke-width="2.2"/>
<path d="M276.9 285.7Q274.4 285.5 273.1 283.6" stroke="#FCD2EA" stroke-opacity="0.28" stroke-width="0.91"/>
<path d="M276.9 285.7Q274.4 285.5 273.1 283.6" stroke="#A63082" stroke-opacity="0.25" stroke-width="2.2"/>
<path d="M248.3 274.9Q247.8 286.8 248.3 296.3" stroke="#FCD2EA" stroke-opacity="0.18" stroke-width="0.87"/>

<path d="M248.3 274.9Q258.5 276.0 268.5 276.7" stroke="#FCD2EA" stroke-opacity="0.35" stroke-width="0.99"/>
<path d="M248.3 274.9Q258.5 276.0 268.5 276.7" stroke="#A63082" stroke-opacity="0.25" stroke-width="2.2"/>
<path d="M248.3 296.3Q253.1 295.9 258.3 295.8" stroke="#FCD2EA" stroke-opacity="0.29" stroke-width="0.94"/>
<path d="M248.3 296.3Q253.1 295.9 258.3 295.8" stroke="#A63082" stroke-opacity="0.25" stroke-width="2.2"/>
<path d="M268.5 276.7Q271.3 280.0 273.1 283.6" stroke="#FCD2EA" stroke-opacity="0.14" stroke-width="0.75"/>

<path d="M288.9 312.6Q286.6 312.2 285.8 311.1" stroke="#FCD2EA" stroke-opacity="0.36" stroke-width="1.07"/>

<path d="M256.7 356.5Q269.9 334.3 281.3 312.2" stroke="#FCD2EA" stroke-opacity="0.27" stroke-width="1.05"/>
<path d="M256.7 356.5Q269.9 334.3 281.3 312.2" stroke="#A63082" stroke-opacity="0.25" stroke-width="2.2"/>
<path d="M293.9 276.7Q285.1 280.9 276.9 285.7" stroke="#FCD2EA" stroke-opacity="0.21" stroke-width="0.81"/>
<path d="M293.9 276.7Q285.1 280.9 276.9 285.7" stroke="#A63082" stroke-opacity="0.25" stroke-width="2.2"/>
<path d="M273.2 253.6Q286.9 261.7 299.7 267.6" stroke="#FCD2EA" stroke-opacity="0.19" stroke-width="0.69"/>
<path d="M273.2 253.6Q286.9 261.7 299.7 267.6" stroke="#A63082" stroke-opacity="0.25" stroke-width="2.2"/>
<path d="M273.2 253.6Q271.6 264.5 268.5 276.7" stroke="#FCD2EA" stroke-opacity="0.31" stroke-width="0.69"/>

<path d="M256.7 356.5Q254.0 356.9 250.2 356.5" stroke="#FCD2EA" stroke-opacity="0.16" stroke-width="1.08"/>

<path d="M250.7 354.5Q250.4 356.4 250.2 356.5" stroke="#FCD2EA" stroke-opacity="0.27" stroke-width="0.68"/>

<path d="M269.5 313.6Q260.9 333.9 250.7 354.5" stroke="#FCD2EA" stroke-opacity="0.15" stroke-width="0.68"/>
<path d="M269.5 313.6Q260.9 333.9 250.7 354.5" stroke="#A63082" stroke-opacity="0.25" stroke-width="2.2"/>
<path d="M268.2 313.1Q260.9 313.9 253.1 314.0" stroke="#FCD2EA" stroke-opacity="0.24" stroke-width="0.80"/>

<path d="M250.7 354.5Q251.5 334.6 253.1 314.0" stroke="#FCD2EA" stroke-opacity="0.18" stroke-width="0.86"/>
<path d="M250.7 354.5Q251.5 334.6 253.1 314.0" stroke="#A63082" stroke-opacity="0.25" stroke-width="2.2"/>
<path d="M212.0 335.3Q214.7 332.7 219.3 330.9" stroke="#FCD2EA" stroke-opacity="0.16" stroke-width="0.79"/>

<path d="M219.3 330.9Q231.7 340.7 243.8 349.0" stroke="#FCD2EA" stroke-opacity="0.24" stroke-width="0.64"/>

<path d="M243.8 349.0Q246.1 353.4 248.8 356.5" stroke="#FCD2EA" stroke-opacity="0.35" stroke-width="0.86"/>
<path d="M243.8 349.0Q246.1 353.4 248.8 356.5" stroke="#A63082" stroke-opacity="0.25" stroke-width="2.2"/>
<path d="M204.5 356.5Q226.3 356.5 248.8 356.5" stroke="#FCD2EA" stroke-opacity="0.21" stroke-width="0.65"/>

<path d="M248.3 296.3Q244.0 301.7 238.8 305.4" stroke="#FCD2EA" stroke-opacity="0.31" stroke-width="1.04"/>

<path d="M253.1 314.0Q245.7 310.0 238.8 305.4" stroke="#FCD2EA" stroke-opacity="0.15" stroke-width="1.00"/>

<path d="M250.7 358.5Q249.9 357.5 250.2 356.5" stroke="#FCD2EA" stroke-opacity="0.20" stroke-width="1.00"/>

<path d="M296.5 241.9Q301.4 249.7 305.0 255.3" stroke="#FCD2EA" stroke-opacity="0.31" stroke-width="0.79"/>
<path d="M296.5 241.9Q301.4 249.7 305.0 255.3" stroke="#A63082" stroke-opacity="0.25" stroke-width="2.2"/>
<path d="M273.2 253.6Q274.1 253.9 272.7 252.3" stroke="#FCD2EA" stroke-opacity="0.18" stroke-width="0.78"/>

<path d="M296.5 241.9Q291.5 241.7 285.2 242.5" stroke="#FCD2EA" stroke-opacity="0.24" stroke-width="1.08"/>
<path d="M296.5 241.9Q291.5 241.7 285.2 242.5" stroke="#A63082" stroke-opacity="0.25" stroke-width="2.2"/>
<path d="M285.2 242.5Q278.4 247.8 272.7 252.3" stroke="#FCD2EA" stroke-opacity="0.34" stroke-width="1.07"/>

<path d="M245.4 266.9Q247.3 271.9 247.8 274.5" stroke="#FCD2EA" stroke-opacity="0.21" stroke-width="0.71"/>
<path d="M245.4 266.9Q247.3 271.9 247.8 274.5" stroke="#A63082" stroke-opacity="0.25" stroke-width="2.2"/>
<path d="M247.8 274.5Q248.8 273.8 248.3 274.9" stroke="#FCD2EA" stroke-opacity="0.26" stroke-width="1.06"/>
<path d="M247.8 274.5Q248.8 273.8 248.3 274.9" stroke="#A63082" stroke-opacity="0.25" stroke-width="2.2"/>
<path d="M245.4 266.9Q247.2 259.9 248.4 252.8" stroke="#FCD2EA" stroke-opacity="0.35" stroke-width="0.86"/>

<path d="M250.1 250.7Q258.6 249.8 265.1 247.7" stroke="#FCD2EA" stroke-opacity="0.17" stroke-width="1.00"/>

<path d="M272.7 252.3Q270.1 251.1 265.1 247.7" stroke="#FCD2EA" stroke-opacity="0.25" stroke-width="0.81"/>
<path d="M272.7 252.3Q270.1 251.1 265.1 247.7" stroke="#A63082" stroke-opacity="0.25" stroke-width="2.2"/>
<path d="M238.8 305.4Q238.1 304.7 238.6 305.4" stroke="#FCD2EA" stroke-opacity="0.17" stroke-width="0.97"/>
<path d="M238.8 305.4Q238.1 304.7 238.6 305.4" stroke="#A63082" stroke-opacity="0.25" stroke-width="2.2"/>
<path d="M247.8 274.5Q237.2 279.9 226.1 284.9" stroke="#FCD2EA" stroke-opacity="0.30" stroke-width="0.88"/>

<path d="M226.1 284.9Q231.8 294.1 238.6 305.4" stroke="#FCD2EA" stroke-opacity="0.27" stroke-width="0.73"/>

<path d="M183.2 270.7Q184.3 262.9 183.2 254.2" stroke="#FCD2EA" stroke-opacity="0.32" stroke-width="0.72"/>

<path d="M216.2 270.7Q199.4 270.3 183.2 270.7" stroke="#FCD2EA" stroke-opacity="0.22" stroke-width="0.84"/>

<path d="M213.2 252.4Q197.0 253.4 183.2 254.2" stroke="#FCD2EA" stroke-opacity="0.17" stroke-width="1.08"/>

<path d="M216.2 270.7Q217.1 267.1 217.6 264.4" stroke="#FCD2EA" stroke-opacity="0.29" stroke-width="0.96"/>

<path d="M217.6 264.4Q216.9 258.4 215.8 253.4" stroke="#FCD2EA" stroke-opacity="0.28" stroke-width="0.63"/>

<path d="M215.8 253.4Q214.0 253.4 213.2 252.4" stroke="#FCD2EA" stroke-opacity="0.17" stroke-width="0.90"/>
<path d="M215.8 253.4Q214.0 253.4 213.2 252.4" stroke="#A63082" stroke-opacity="0.25" stroke-width="2.2"/>
<path d="M196.6 220.9Q203.8 236.1 213.2 252.4" stroke="#FCD2EA" stroke-opacity="0.32" stroke-width="0.79"/>

<path d="M183.2 212.0Q183.9 234.3 183.2 254.2" stroke="#FCD2EA" stroke-opacity="0.19" stroke-width="0.95"/>

<path d="M245.4 266.9Q232.2 265.3 217.6 264.4" stroke="#FCD2EA" stroke-opacity="0.24" stroke-width="0.99"/>
<path d="M245.4 266.9Q232.2 265.3 217.6 264.4" stroke="#A63082" stroke-opacity="0.25" stroke-width="2.2"/>
<path d="M217.2 252.3Q216.5 253.2 215.8 253.4" stroke="#FCD2EA" stroke-opacity="0.32" stroke-width="0.72"/>

<path d="M340.6 263.4Q339.9 254.0 340.6 246.3" stroke="#FCD2EA" stroke-opacity="0.24" stroke-width="0.92"/>

<path d="M324.9 248.1Q333.9 246.3 340.6 246.3" stroke="#FCD2EA" stroke-opacity="0.25" stroke-width="0.84"/>
<path d="M324.9 248.1Q333.9 246.3 340.6 246.3" stroke="#A63082" stroke-opacity="0.25" stroke-width="2.2"/>
<path d="M250.2 356.5Q250.5 355.6 248.8 356.5" stroke="#FCD2EA" stroke-opacity="0.19" stroke-width="0.62"/>

<path d="M200.8 356.5Q192.4 355.8 183.2 356.5" stroke="#FCD2EA" stroke-opacity="0.34" stroke-width="0.92"/>
<path d="M200.8 356.5Q192.4 355.8 183.2 356.5" stroke="#A63082" stroke-opacity="0.25" stroke-width="2.2"/>
<path d="M216.2 270.7Q217.7 274.8 217.0 277.1" stroke="#FCD2EA" stroke-opacity="0.21" stroke-width="1.03"/>
<path d="M216.2 270.7Q217.7 274.8 217.0 277.1" stroke="#A63082" stroke-opacity="0.25" stroke-width="2.2"/>
<path d="M183.2 272.6Q193.8 277.5 205.2 282.7" stroke="#FCD2EA" stroke-opacity="0.35" stroke-width="0.75"/>

<path d="M183.2 270.7Q182.5 272.5 183.2 272.6" stroke="#FCD2EA" stroke-opacity="0.18" stroke-width="1.02"/>
<path d="M183.2 270.7Q182.5 272.5 183.2 272.6" stroke="#A63082" stroke-opacity="0.25" stroke-width="2.2"/>
<path d="M205.2 282.7Q211.2 280.9 217.0 277.1" stroke="#FCD2EA" stroke-opacity="0.20" stroke-width="0.86"/>

<path d="M226.1 284.9Q223.5 283.4 220.6 282.3" stroke="#FCD2EA" stroke-opacity="0.28" stroke-width="0.76"/>
<path d="M226.1 284.9Q223.5 283.4 220.6 282.3" stroke="#A63082" stroke-opacity="0.25" stroke-width="2.2"/>
<path d="M217.0 277.1Q217.6 280.0 220.6 282.3" stroke="#FCD2EA" stroke-opacity="0.26" stroke-width="1.00"/>
<path d="M217.0 277.1Q217.6 280.0 220.6 282.3" stroke="#A63082" stroke-opacity="0.25" stroke-width="2.2"/>
<path d="M219.3 330.9Q219.5 326.8 218.8 323.1" stroke="#FCD2EA" stroke-opacity="0.25" stroke-width="1.02"/>

<path d="M199.1 326.4Q202.4 322.4 206.1 317.7" stroke="#FCD2EA" stroke-opacity="0.17" stroke-width="1.04"/>

<path d="M200.8 328.6Q198.8 327.4 199.1 326.4" stroke="#FCD2EA" stroke-opacity="0.35" stroke-width="1.09"/>

<path d="M218.8 323.1Q211.8 321.5 206.1 317.7" stroke="#FCD2EA" stroke-opacity="0.20" stroke-width="0.61"/>
<path d="M218.8 323.1Q211.8 321.5 206.1 317.7" stroke="#A63082" stroke-opacity="0.25" stroke-width="2.2"/>
<path d="M340.6 212.0Q340.5 224.2 340.6 235.4" stroke="#FCD2EA" stroke-opacity="0.15" stroke-width="0.77"/>

<path d="M340.6 246.3Q340.2 240.1 340.6 235.4" stroke="#FCD2EA" stroke-opacity="0.29" stroke-width="0.82"/>

<path d="M325.1 218.9Q324.8 216.2 324.6 212.0" stroke="#FCD2EA" stroke-opacity="0.25" stroke-width="1.09"/>

<path d="M325.1 218.9Q333.4 227.1 340.6 235.4" stroke="#FCD2EA" stroke-opacity="0.27" stroke-width="0.79"/>
<path d="M325.1 218.9Q333.4 227.1 340.6 235.4" stroke="#A63082" stroke-opacity="0.25" stroke-width="2.2"/>
<path d="M324.6 212.0Q333.5 212.8 340.6 212.0" stroke="#FCD2EA" stroke-opacity="0.31" stroke-width="1.03"/>

<path d="M324.4 248.0Q318.7 239.2 310.6 230.5" stroke="#FCD2EA" stroke-opacity="0.35" stroke-width="0.64"/>

<path d="M310.6 230.5Q318.0 225.5 325.1 218.9" stroke="#FCD2EA" stroke-opacity="0.25" stroke-width="1.00"/>

<path d="M324.6 212.0Q315.3 212.7 305.1 212.0" stroke="#FCD2EA" stroke-opacity="0.27" stroke-width="0.61"/>

<path d="M307.7 229.9Q305.2 220.5 305.1 212.0" stroke="#FCD2EA" stroke-opacity="0.16" stroke-width="0.98"/>
<path d="M307.7 229.9Q305.2 220.5 305.1 212.0" stroke="#A63082" stroke-opacity="0.25" stroke-width="2.2"/>
<path d="M310.6 230.5Q309.7 229.2 307.7 229.9" stroke="#FCD2EA" stroke-opacity="0.18" stroke-width="0.95"/>

<path d="M296.5 241.9Q298.3 237.3 302.2 232.2" stroke="#FCD2EA" stroke-opacity="0.22" stroke-width="0.91"/>
<path d="M296.5 241.9Q298.3 237.3 302.2 232.2" stroke="#A63082" stroke-opacity="0.25" stroke-width="2.2"/>
<path d="M302.2 232.2Q303.8 230.0 307.7 229.9" stroke="#FCD2EA" stroke-opacity="0.33" stroke-width="0.85"/>

<path d="M241.4 212.0Q242.5 212.5 245.5 212.0" stroke="#FCD2EA" stroke-opacity="0.34" stroke-width="0.70"/>

<path d="M265.1 247.7Q265.9 247.3 265.0 244.5" stroke="#FCD2EA" stroke-opacity="0.26" stroke-width="0.92"/>
<path d="M265.1 247.7Q265.9 247.3 265.0 244.5" stroke="#A63082" stroke-opacity="0.25" stroke-width="2.2"/>
<path d="M265.0 244.5Q261.7 234.2 257.0 224.9" stroke="#FCD2EA" stroke-opacity="0.27" stroke-width="0.91"/>

<path d="M245.5 212.0Q249.8 214.2 252.7 218.4" stroke="#FCD2EA" stroke-opacity="0.18" stroke-width="0.78"/>

<path d="M252.7 218.4Q255.4 221.0 257.0 224.9" stroke="#FCD2EA" stroke-opacity="0.26" stroke-width="0.83"/>
<path d="M252.7 218.4Q255.4 221.0 257.0 224.9" stroke="#A63082" stroke-opacity="0.25" stroke-width="2.2"/>
<path d="M265.0 244.5Q269.9 235.8 274.1 227.5" stroke="#FCD2EA" stroke-opacity="0.35" stroke-width="0.66"/>

<path d="M257.0 224.9Q265.9 226.1 274.1 227.5" stroke="#FCD2EA" stroke-opacity="0.15" stroke-width="0.92"/>

<path d="M183.2 356.5Q182.8 342.8 183.2 327.9" stroke="#FCD2EA" stroke-opacity="0.25" stroke-width="0.65"/>

<path d="M199.1 326.4Q190.7 327.1 183.2 327.9" stroke="#FCD2EA" stroke-opacity="0.31" stroke-width="1.04"/>

<path d="M243.8 349.0Q238.9 330.4 234.7 310.2" stroke="#FCD2EA" stroke-opacity="0.17" stroke-width="0.88"/>

<path d="M218.8 323.1Q224.8 318.3 228.9 312.4" stroke="#FCD2EA" stroke-opacity="0.28" stroke-width="1.01"/>
<path d="M218.8 323.1Q224.8 318.3 228.9 312.4" stroke="#A63082" stroke-opacity="0.25" stroke-width="2.2"/>
<path d="M228.9 312.4Q231.7 310.3 234.7 310.2" stroke="#FCD2EA" stroke-opacity="0.21" stroke-width="0.70"/>

<path d="M238.6 305.4Q236.5 307.8 236.2 308.0" stroke="#FCD2EA" stroke-opacity="0.27" stroke-width="0.82"/>
<path d="M238.6 305.4Q236.5 307.8 236.2 308.0" stroke="#A63082" stroke-opacity="0.25" stroke-width="2.2"/>
<path d="M234.7 310.2Q235.3 309.2 236.2 308.0" stroke="#FCD2EA" stroke-opacity="0.17" stroke-width="1.09"/>

<path d="M220.6 282.3Q216.6 289.0 213.0 296.8" stroke="#FCD2EA" stroke-opacity="0.22" stroke-width="0.74"/>

<path d="M236.2 308.0Q223.6 302.1 213.0 296.8" stroke="#FCD2EA" stroke-opacity="0.27" stroke-width="0.84"/>
<path d="M236.2 308.0Q223.6 302.1 213.0 296.8" stroke="#A63082" stroke-opacity="0.25" stroke-width="2.2"/>
<path d="M205.6 315.4Q207.9 309.0 210.3 304.7" stroke="#FCD2EA" stroke-opacity="0.21" stroke-width="0.82"/>

<path d="M205.6 315.4Q194.2 309.5 183.2 304.1" stroke="#FCD2EA" stroke-opacity="0.28" stroke-width="0.74"/>

<path d="M194.8 295.5Q201.3 298.5 209.4 300.9" stroke="#FCD2EA" stroke-opacity="0.26" stroke-width="0.93"/>

<path d="M194.8 295.5Q189.7 297.6 183.2 297.4" stroke="#FCD2EA" stroke-opacity="0.19" stroke-width="1.08"/>

<path d="M209.4 300.9Q209.5 302.7 210.3 304.7" stroke="#FCD2EA" stroke-opacity="0.34" stroke-width="1.08"/>

<path d="M183.2 297.4Q182.7 299.8 183.2 304.1" stroke="#FCD2EA" stroke-opacity="0.18" stroke-width="0.94"/>

<path d="M228.9 312.4Q218.5 307.3 210.3 304.7" stroke="#FCD2EA" stroke-opacity="0.36" stroke-width="0.77"/>
<path d="M228.9 312.4Q218.5 307.3 210.3 304.7" stroke="#A63082" stroke-opacity="0.25" stroke-width="2.2"/>
<path d="M206.1 317.7Q205.7 315.5 205.6 315.4" stroke="#FCD2EA" stroke-opacity="0.32" stroke-width="0.86"/>

<path d="M183.2 327.9Q184.3 315.1 183.2 304.1" stroke="#FCD2EA" stroke-opacity="0.18" stroke-width="0.99"/>

<path d="M205.2 282.7Q199.8 288.7 194.8 295.5" stroke="#FCD2EA" stroke-opacity="0.27" stroke-width="1.07"/>

<path d="M213.0 296.8Q212.2 300.1 209.4 300.9" stroke="#FCD2EA" stroke-opacity="0.17" stroke-width="0.61"/>

<path d="M183.2 272.6Q182.6 285.1 183.2 297.4" stroke="#FCD2EA" stroke-opacity="0.24" stroke-width="1.09"/>

<path d="M290.3 222.4Q291.4 216.4 294.3 212.0" stroke="#FCD2EA" stroke-opacity="0.34" stroke-width="1.01"/>
<path d="M290.3 222.4Q291.4 216.4 294.3 212.0" stroke="#A63082" stroke-opacity="0.25" stroke-width="2.2"/>
<path d="M290.3 222.4Q287.6 223.5 282.7 225.2" stroke="#FCD2EA" stroke-opacity="0.30" stroke-width="0.88"/>

<path d="M294.3 212.0Q285.3 210.8 276.4 212.0" stroke="#FCD2EA" stroke-opacity="0.26" stroke-width="1.03"/>

<path d="M282.7 225.2Q281.3 224.2 278.4 223.5" stroke="#FCD2EA" stroke-opacity="0.22" stroke-width="0.78"/>
<path d="M282.7 225.2Q281.3 224.2 278.4 223.5" stroke="#A63082" stroke-opacity="0.25" stroke-width="2.2"/>
<path d="M277.0 221.1Q276.7 217.7 276.4 212.0" stroke="#FCD2EA" stroke-opacity="0.27" stroke-width="0.98"/>
<path d="M277.0 221.1Q276.7 217.7 276.4 212.0" stroke="#A63082" stroke-opacity="0.25" stroke-width="2.2"/>
<path d="M278.4 223.5Q277.4 222.5 277.0 221.1" stroke="#FCD2EA" stroke-opacity="0.22" stroke-width="0.60"/>

<path d="M305.1 212.0Q298.8 212.4 294.3 212.0" stroke="#FCD2EA" stroke-opacity="0.35" stroke-width="0.74"/>
<path d="M305.1 212.0Q298.8 212.4 294.3 212.0" stroke="#A63082" stroke-opacity="0.25" stroke-width="2.2"/>
<path d="M302.2 232.2Q295.8 227.4 290.3 222.4" stroke="#FCD2EA" stroke-opacity="0.35" stroke-width="0.67"/>
<path d="M302.2 232.2Q295.8 227.4 290.3 222.4" stroke="#A63082" stroke-opacity="0.25" stroke-width="2.2"/>
<path d="M285.2 242.5Q284.9 233.3 282.7 225.2" stroke="#FCD2EA" stroke-opacity="0.28" stroke-width="0.96"/>
<path d="M285.2 242.5Q284.9 233.3 282.7 225.2" stroke="#A63082" stroke-opacity="0.25" stroke-width="2.2"/>
<path d="M274.1 227.5Q275.1 226.1 278.4 223.5" stroke="#FCD2EA" stroke-opacity="0.34" stroke-width="0.95"/>

<path d="M245.5 212.0Q260.0 212.1 276.4 212.0" stroke="#FCD2EA" stroke-opacity="0.16" stroke-width="0.76"/>
<path d="M245.5 212.0Q260.0 212.1 276.4 212.0" stroke="#A63082" stroke-opacity="0.25" stroke-width="2.2"/>
<path d="M252.7 218.4Q264.9 219.6 277.0 221.1" stroke="#FCD2EA" stroke-opacity="0.20" stroke-width="0.71"/>
<path d="M252.7 218.4Q264.9 219.6 277.0 221.1" stroke="#A63082" stroke-opacity="0.25" stroke-width="2.2"/>
</g>
<g filter="url(#b1)">
<ellipse cx="250.5" cy="235.6" rx="8.0" ry="7.6" fill="#E46CAE" fill-opacity="0.3" stroke="#F7B2DE" stroke-opacity="0.0" stroke-width="0.7" transform="rotate(18 252.3 234.8)"/>
<ellipse cx="235.7" cy="245.4" rx="7.0" ry="5.8" fill="#E46CAE" fill-opacity="0.3" stroke="#F7B2DE" stroke-opacity="0.0" stroke-width="0.7" transform="rotate(102 234.9 245.7)"/>
<ellipse cx="198.1" cy="263.8" rx="12.3" ry="8.5" fill="#D44090" fill-opacity="0.3" stroke="#F7B2DE" stroke-opacity="0.0" stroke-width="0.7" transform="rotate(158 199.8 265.1)"/>
<ellipse cx="199.3" cy="275.3" rx="10.9" ry="9.3" fill="#E46CAE" fill-opacity="0.3" stroke="#F7B2DE" stroke-opacity="0.0" stroke-width="0.7" transform="rotate(127 199.8 276.4)"/>
<ellipse cx="233.1" cy="274.0" rx="9.4" ry="7.8" fill="#E46CAE" fill-opacity="0.3" stroke="#F7B2DE" stroke-opacity="0.0" stroke-width="0.7" transform="rotate(96 233.5 272.4)"/>
<ellipse cx="257.4" cy="263.5" rx="5.8" ry="5.2" fill="#E46CAE" fill-opacity="0.3" stroke="#F7B2DE" stroke-opacity="0.0" stroke-width="0.7" transform="rotate(33 258.2 264.5)"/>
<ellipse cx="310.4" cy="240.2" rx="13.7" ry="8.6" fill="#D44090" fill-opacity="0.3" stroke="#F7B2DE" stroke-opacity="0.0" stroke-width="0.7" transform="rotate(38 308.1 242.1)"/>
<ellipse cx="269.2" cy="214.5" rx="9.1" ry="7.0" fill="#E46CAE" fill-opacity="0.3" stroke="#F7B2DE" stroke-opacity="0.0" stroke-width="0.7" transform="rotate(20 268.9 216.0)"/>
<ellipse cx="283.5" cy="215.8" rx="7.1" ry="6.2" fill="#D44090" fill-opacity="0.3" stroke="#F7B2DE" stroke-opacity="0.0" stroke-width="0.7" transform="rotate(29 284.4 215.0)"/>
<ellipse cx="300.2" cy="221.0" rx="9.5" ry="9.1" fill="#E46CAE" fill-opacity="0.3" stroke="#F7B2DE" stroke-opacity="0.0" stroke-width="0.7" transform="rotate(77 299.6 220.9)"/>
<ellipse cx="312.1" cy="220.4" rx="10.1" ry="6.4" fill="#D44090" fill-opacity="0.3" stroke="#F7B2DE" stroke-opacity="0.0" stroke-width="0.7" transform="rotate(111 312.9 218.9)"/>
<ellipse cx="323.7" cy="232.5" rx="8.6" ry="7.1" fill="#D44090" fill-opacity="0.3" stroke="#F7B2DE" stroke-opacity="0.0" stroke-width="0.7" transform="rotate(166 322.4 230.8)"/>
<ellipse cx="292.9" cy="251.8" rx="10.1" ry="9.3" fill="#E46CAE" fill-opacity="0.3" stroke="#F7B2DE" stroke-opacity="0.0" stroke-width="0.7" transform="rotate(170 291.7 252.6)"/>
<ellipse cx="317.4" cy="264.5" rx="9.2" ry="8.2" fill="#D44090" fill-opacity="0.3" stroke="#F7B2DE" stroke-opacity="0.0" stroke-width="0.7" transform="rotate(126 316.0 263.1)"/>
<ellipse cx="327.4" cy="264.9" rx="6.9" ry="6.7" fill="#E46CAE" fill-opacity="0.3" stroke="#F7B2DE" stroke-opacity="0.0" stroke-width="0.7" transform="rotate(21 326.3 265.5)"/>
<ellipse cx="333.0" cy="276.0" rx="9.8" ry="9.1" fill="#D44090" fill-opacity="0.3" stroke="#F7B2DE" stroke-opacity="0.0" stroke-width="0.7" transform="rotate(22 331.3 274.4)"/>
<ellipse cx="282.2" cy="270.8" rx="9.6" ry="9.0" fill="#D44090" fill-opacity="0.3" stroke="#F7B2DE" stroke-opacity="0.0" stroke-width="0.7" transform="rotate(117 282.8 269.4)"/>
<ellipse cx="335.9" cy="218.0" rx="6.0" ry="5.5" fill="#E46CAE" fill-opacity="0.3" stroke="#F7B2DE" stroke-opacity="0.0" stroke-width="0.7" transform="rotate(97 337.2 217.0)"/>
<ellipse cx="290.5" cy="232.0" rx="6.8" ry="5.3" fill="#D44090" fill-opacity="0.3" stroke="#F7B2DE" stroke-opacity="0.0" stroke-width="0.7" transform="rotate(155 290.7 231.8)"/>
<ellipse cx="276.3" cy="233.3" rx="5.1" ry="4.4" fill="#D44090" fill-opacity="0.3" stroke="#F7B2DE" stroke-opacity="0.0" stroke-width="0.7" transform="rotate(31 276.8 233.8)"/>
<ellipse cx="208.5" cy="292.0" rx="11.1" ry="10.1" fill="#E46CAE" fill-opacity="0.3" stroke="#F7B2DE" stroke-opacity="0.0" stroke-width="0.7" transform="rotate(88 206.8 290.9)"/>
<ellipse cx="217.7" cy="302.0" rx="10.8" ry="10.1" fill="#D44090" fill-opacity="0.3" stroke="#F7B2DE" stroke-opacity="0.0" stroke-width="0.7" transform="rotate(13 219.6 302.2)"/>
<ellipse cx="241.1" cy="288.1" rx="6.5" ry="6.4" fill="#E46CAE" fill-opacity="0.3" stroke="#F7B2DE" stroke-opacity="0.0" stroke-width="0.7" transform="rotate(68 240.4 287.0)"/>
<ellipse cx="201.0" cy="306.1" rx="7.7" ry="8.5" fill="#E46CAE" fill-opacity="0.3" stroke="#F7B2DE" stroke-opacity="0.0" stroke-width="0.7" transform="rotate(42 200.8 306.8)"/>
<ellipse cx="196.3" cy="317.4" rx="6.5" ry="6.8" fill="#E46CAE" fill-opacity="0.3" stroke="#F7B2DE" stroke-opacity="0.0" stroke-width="0.7" transform="rotate(120 195.9 316.7)"/>
<ellipse cx="228.1" cy="327.1" rx="8.1" ry="9.1" fill="#E46CAE" fill-opacity="0.3" stroke="#F7B2DE" stroke-opacity="0.0" stroke-width="0.7" transform="rotate(25 228.9 326.2)"/>
<ellipse cx="202.7" cy="336.1" rx="7.9" ry="8.7" fill="#D44090" fill-opacity="0.3" stroke="#F7B2DE" stroke-opacity="0.0" stroke-width="0.7" transform="rotate(40 203.8 336.5)"/>
<ellipse cx="198.6" cy="336.2" rx="6.0" ry="4.7" fill="#D44090" fill-opacity="0.3" stroke="#F7B2DE" stroke-opacity="0.0" stroke-width="0.7" transform="rotate(137 197.9 336.5)"/>
<ellipse cx="217.7" cy="339.9" rx="7.1" ry="8.2" fill="#D44090" fill-opacity="0.3" stroke="#F7B2DE" stroke-opacity="0.0" stroke-width="0.7" transform="rotate(16 217.7 341.4)"/>
<ellipse cx="256.0" cy="287.8" rx="7.2" ry="7.3" fill="#E46CAE" fill-opacity="0.3" stroke="#F7B2DE" stroke-opacity="0.0" stroke-width="0.7" transform="rotate(43 256.3 287.0)"/>
<ellipse cx="258.1" cy="305.6" rx="7.6" ry="7.8" fill="#D44090" fill-opacity="0.3" stroke="#F7B2DE" stroke-opacity="0.0" stroke-width="0.7" transform="rotate(119 257.3 304.8)"/>
<ellipse cx="257.2" cy="323.1" rx="6.8" ry="6.2" fill="#D44090" fill-opacity="0.3" stroke="#F7B2DE" stroke-opacity="0.0" stroke-width="0.7" transform="rotate(162 258.2 322.6)"/>
<ellipse cx="305.0" cy="287.8" rx="11.2" ry="9.5" fill="#E46CAE" fill-opacity="0.3" stroke="#F7B2DE" stroke-opacity="0.0" stroke-width="0.7" transform="rotate(28 303.0 286.4)"/>
<ellipse cx="267.5" cy="300.0" rx="8.2" ry="9.3" fill="#D44090" fill-opacity="0.3" stroke="#F7B2DE" stroke-opacity="0.0" stroke-width="0.7" transform="rotate(34 266.5 299.4)"/>
<ellipse cx="271.7" cy="329.7" rx="10.4" ry="9.9" fill="#E46CAE" fill-opacity="0.3" stroke="#F7B2DE" stroke-opacity="0.0" stroke-width="0.7" transform="rotate(97 269.9 328.0)"/>
<ellipse cx="338.7" cy="299.3" rx="6.7" ry="8.4" fill="#E46CAE" fill-opacity="0.3" stroke="#F7B2DE" stroke-opacity="0.0" stroke-width="0.7" transform="rotate(43 337.2 297.9)"/>
<ellipse cx="316.8" cy="299.3" rx="11.0" ry="11.4" fill="#D44090" fill-opacity="0.3" stroke="#F7B2DE" stroke-opacity="0.0" stroke-width="0.7" transform="rotate(163 316.4 299.8)"/>
<ellipse cx="293.3" cy="290.2" rx="5.9" ry="7.2" fill="#D44090" fill-opacity="0.3" stroke="#F7B2DE" stroke-opacity="0.0" stroke-width="0.7" transform="rotate(30 293.7 289.9)"/>
</g>
<rect x="183.2" y="212.0" width="157.4" height="144.5" filter="url(#t1)" opacity="0.4"/>
<rect x="183.2" y="212.0" width="157.4" height="144.5" filter="url(#t2d)" opacity="0.85"/>
<rect x="183.2" y="212.0" width="157.4" height="144.5" filter="url(#t1p)" opacity="0.5"/>
<rect x="183.2" y="212.0" width="157.4" height="144.5" filter="url(#t1h)" opacity="0.4"/>
<ellipse cx="215" cy="240" rx="45" ry="32" fill="#A060B0" opacity="0.2" filter="url(#b3)"/>
<ellipse cx="243" cy="325" rx="14" ry="26" fill="#A868B8" opacity="0.2" filter="url(#b3)"/>
<ellipse cx="244" cy="328" rx="7" ry="14" fill="#6A3A8A" opacity="0.35" filter="url(#b3)" transform="rotate(-20 244 328)"/>
<polygon points="191.2,221.0 195.1,218.2 199.5,216.0 202.8,213.3 208.3,213.1 213.2,213.8 216.0,216.6 219.3,221.0 223.7,226.5 228.1,231.4 229.2,236.4 228.1,243.0 225.3,245.7 222.0,243.0 219.3,238.0 216.0,233.6 212.1,230.3 207.7,229.2 201.7,230.3 196.2,229.8 192.9,227.6 191.6,224.3" fill="#f6f3f7" filter="url(#b1)"/>
<path d="M232.5 291.9 L237.5 307.8 L236.5 319.6 L242.4 331.5 L246.4 343.4" stroke="#fbe6f2" stroke-width="0.8" fill="none" opacity="0.45" filter="url(#b1)"/>
<path d="M305.6 294.9 L328.3 287.0" stroke="#fbe6f2" stroke-width="0.7" fill="none" opacity="0.45" filter="url(#b1)"/>
<g filter="url(#b1)">
<circle cx="306.9" cy="231.8" r="0.7" fill="#fbeef6" opacity="0.85"/>
<circle cx="301.6" cy="275.4" r="0.7" fill="#fbeef6" opacity="0.85"/>
<circle cx="252.3" cy="234.8" r="4.4" fill="#BE80BA" stroke="#64307F" stroke-width="1.2" stroke-opacity="0.75"/>
<circle cx="253.6" cy="236.1" r="0.45" fill="#64307F" opacity="0.8"/>
<circle cx="251.4" cy="235.1" r="0.45" fill="#64307F" opacity="0.8"/>
<circle cx="252.3" cy="234.7" r="0.45" fill="#64307F" opacity="0.8"/>
<circle cx="252.3" cy="234.8" r="0.45" fill="#64307F" opacity="0.8"/>
<circle cx="252.3" cy="234.3" r="0.45" fill="#64307F" opacity="0.8"/>
<circle cx="252.0" cy="233.4" r="0.45" fill="#64307F" opacity="0.8"/>
<circle cx="234.9" cy="245.7" r="3.1" fill="#BE80BA" stroke="#64307F" stroke-width="1.2" stroke-opacity="0.75"/>
<circle cx="235.1" cy="245.7" r="0.45" fill="#64307F" opacity="0.8"/>
<circle cx="233.9" cy="246.2" r="0.45" fill="#64307F" opacity="0.8"/>
<circle cx="234.7" cy="245.7" r="0.45" fill="#64307F" opacity="0.8"/>
<circle cx="234.4" cy="244.7" r="0.45" fill="#64307F" opacity="0.8"/>
<circle cx="234.4" cy="245.8" r="0.45" fill="#64307F" opacity="0.8"/>
<circle cx="235.3" cy="246.1" r="0.45" fill="#64307F" opacity="0.8"/>
<circle cx="199.8" cy="265.1" r="4.9" fill="#BE80BA" stroke="#64307F" stroke-width="1.2" stroke-opacity="0.75"/>
<circle cx="200.2" cy="264.4" r="0.45" fill="#64307F" opacity="0.8"/>
<circle cx="200.6" cy="264.8" r="0.45" fill="#64307F" opacity="0.8"/>
<circle cx="198.1" cy="265.3" r="0.45" fill="#64307F" opacity="0.8"/>
<circle cx="201.4" cy="264.1" r="0.45" fill="#64307F" opacity="0.8"/>
<circle cx="199.0" cy="265.5" r="0.45" fill="#64307F" opacity="0.8"/>
<circle cx="200.6" cy="265.9" r="0.45" fill="#64307F" opacity="0.8"/>
<circle cx="199.8" cy="276.4" r="4.4" fill="#BE80BA" stroke="#64307F" stroke-width="1.2" stroke-opacity="0.75"/>
<circle cx="200.0" cy="276.0" r="0.45" fill="#64307F" opacity="0.8"/>
<circle cx="199.8" cy="276.5" r="0.45" fill="#64307F" opacity="0.8"/>
<circle cx="198.9" cy="276.6" r="0.45" fill="#64307F" opacity="0.8"/>
<circle cx="201.2" cy="276.3" r="0.45" fill="#64307F" opacity="0.8"/>
<circle cx="200.2" cy="276.2" r="0.45" fill="#64307F" opacity="0.8"/>
<circle cx="198.5" cy="276.9" r="0.45" fill="#64307F" opacity="0.8"/>
<circle cx="233.5" cy="272.4" r="4.0" fill="#BE80BA" stroke="#64307F" stroke-width="1.2" stroke-opacity="0.75"/>
<circle cx="234.4" cy="272.9" r="0.45" fill="#64307F" opacity="0.8"/>
<circle cx="233.5" cy="272.4" r="0.45" fill="#64307F" opacity="0.8"/>
<circle cx="233.9" cy="273.7" r="0.45" fill="#64307F" opacity="0.8"/>
<circle cx="234.1" cy="273.4" r="0.45" fill="#64307F" opacity="0.8"/>
<circle cx="232.9" cy="272.7" r="0.45" fill="#64307F" opacity="0.8"/>
<circle cx="234.0" cy="271.9" r="0.45" fill="#64307F" opacity="0.8"/>
<circle cx="258.2" cy="264.5" r="2.7" fill="#BE80BA" stroke="#64307F" stroke-width="1.2" stroke-opacity="0.75"/>
<circle cx="259.0" cy="263.8" r="0.45" fill="#64307F" opacity="0.8"/>
<circle cx="258.1" cy="264.4" r="0.45" fill="#64307F" opacity="0.8"/>
<circle cx="257.7" cy="265.5" r="0.45" fill="#64307F" opacity="0.8"/>
<circle cx="258.2" cy="265.2" r="0.45" fill="#64307F" opacity="0.8"/>
<circle cx="258.5" cy="265.3" r="0.45" fill="#64307F" opacity="0.8"/>
<circle cx="257.8" cy="263.5" r="0.45" fill="#64307F" opacity="0.8"/>
<circle cx="308.1" cy="242.1" r="5.3" fill="#BE80BA" stroke="#64307F" stroke-width="1.2" stroke-opacity="0.75"/>
<circle cx="307.9" cy="242.0" r="0.45" fill="#64307F" opacity="0.8"/>
<circle cx="308.5" cy="240.8" r="0.45" fill="#64307F" opacity="0.8"/>
<circle cx="309.3" cy="241.7" r="0.45" fill="#64307F" opacity="0.8"/>
<circle cx="307.7" cy="243.0" r="0.45" fill="#64307F" opacity="0.8"/>
<circle cx="306.6" cy="241.5" r="0.45" fill="#64307F" opacity="0.8"/>
<circle cx="306.7" cy="240.6" r="0.45" fill="#64307F" opacity="0.8"/>
<circle cx="268.9" cy="216.0" r="3.5" fill="#BE80BA" stroke="#64307F" stroke-width="1.2" stroke-opacity="0.75"/>
<circle cx="268.6" cy="215.9" r="0.45" fill="#64307F" opacity="0.8"/>
<circle cx="269.6" cy="215.1" r="0.45" fill="#64307F" opacity="0.8"/>
<circle cx="269.3" cy="216.6" r="0.45" fill="#64307F" opacity="0.8"/>
<circle cx="269.5" cy="215.2" r="0.45" fill="#64307F" opacity="0.8"/>
<circle cx="269.9" cy="216.9" r="0.45" fill="#64307F" opacity="0.8"/>
<circle cx="268.9" cy="215.6" r="0.45" fill="#64307F" opacity="0.8"/>
<circle cx="284.4" cy="215.0" r="3.5" fill="#BE80BA" stroke="#64307F" stroke-width="1.2" stroke-opacity="0.75"/>
<circle cx="283.9" cy="213.7" r="0.45" fill="#64307F" opacity="0.8"/>
<circle cx="283.0" cy="214.3" r="0.45" fill="#64307F" opacity="0.8"/>
<circle cx="284.3" cy="215.0" r="0.45" fill="#64307F" opacity="0.8"/>
<circle cx="283.6" cy="213.9" r="0.45" fill="#64307F" opacity="0.8"/>
<circle cx="285.4" cy="214.4" r="0.45" fill="#64307F" opacity="0.8"/>
<circle cx="285.6" cy="214.5" r="0.45" fill="#64307F" opacity="0.8"/>
<circle cx="299.6" cy="220.9" r="4.0" fill="#BE80BA" stroke="#64307F" stroke-width="1.2" stroke-opacity="0.75"/>
<circle cx="299.5" cy="220.9" r="0.45" fill="#64307F" opacity="0.8"/>
<circle cx="299.7" cy="221.0" r="0.45" fill="#64307F" opacity="0.8"/>
<circle cx="300.9" cy="220.3" r="0.45" fill="#64307F" opacity="0.8"/>
<circle cx="300.8" cy="220.1" r="0.45" fill="#64307F" opacity="0.8"/>
<circle cx="298.6" cy="221.2" r="0.45" fill="#64307F" opacity="0.8"/>
<circle cx="299.9" cy="221.0" r="0.45" fill="#64307F" opacity="0.8"/>
<circle cx="312.9" cy="218.9" r="4.0" fill="#BE80BA" stroke="#64307F" stroke-width="1.2" stroke-opacity="0.75"/>
<circle cx="312.8" cy="219.0" r="0.45" fill="#64307F" opacity="0.8"/>
<circle cx="312.5" cy="219.8" r="0.45" fill="#64307F" opacity="0.8"/>
<circle cx="313.0" cy="219.2" r="0.45" fill="#64307F" opacity="0.8"/>
<circle cx="313.6" cy="219.4" r="0.45" fill="#64307F" opacity="0.8"/>
<circle cx="313.3" cy="218.2" r="0.45" fill="#64307F" opacity="0.8"/>
<circle cx="312.5" cy="217.7" r="0.45" fill="#64307F" opacity="0.8"/>
<circle cx="322.4" cy="230.8" r="4.0" fill="#BE80BA" fill-opacity="0.5" stroke="#64307F" stroke-opacity="0.45" stroke-width="0.8"/>
<circle cx="291.7" cy="252.6" r="4.0" fill="#BE80BA" fill-opacity="0.5" stroke="#64307F" stroke-opacity="0.45" stroke-width="0.8"/>
<circle cx="316.0" cy="263.1" r="4.0" fill="#BE80BA" stroke="#64307F" stroke-width="1.2" stroke-opacity="0.75"/>
<circle cx="316.5" cy="261.7" r="0.45" fill="#64307F" opacity="0.8"/>
<circle cx="316.0" cy="263.1" r="0.45" fill="#64307F" opacity="0.8"/>
<circle cx="316.3" cy="263.5" r="0.45" fill="#64307F" opacity="0.8"/>
<circle cx="315.5" cy="264.0" r="0.45" fill="#64307F" opacity="0.8"/>
<circle cx="315.5" cy="263.1" r="0.45" fill="#64307F" opacity="0.8"/>
<circle cx="316.7" cy="264.2" r="0.45" fill="#64307F" opacity="0.8"/>
<circle cx="326.3" cy="265.5" r="3.5" fill="#BE80BA" stroke="#64307F" stroke-width="1.2" stroke-opacity="0.75"/>
<circle cx="327.5" cy="265.4" r="0.45" fill="#64307F" opacity="0.8"/>
<circle cx="327.1" cy="266.3" r="0.45" fill="#64307F" opacity="0.8"/>
<circle cx="326.6" cy="264.6" r="0.45" fill="#64307F" opacity="0.8"/>
<circle cx="325.4" cy="264.4" r="0.45" fill="#64307F" opacity="0.8"/>
<circle cx="325.2" cy="265.6" r="0.45" fill="#64307F" opacity="0.8"/>
<circle cx="327.0" cy="266.6" r="0.45" fill="#64307F" opacity="0.8"/>
<circle cx="331.3" cy="274.4" r="4.4" fill="#BE80BA" stroke="#64307F" stroke-width="1.2" stroke-opacity="0.75"/>
<circle cx="331.0" cy="274.2" r="0.45" fill="#64307F" opacity="0.8"/>
<circle cx="330.1" cy="273.2" r="0.45" fill="#64307F" opacity="0.8"/>
<circle cx="330.7" cy="274.6" r="0.45" fill="#64307F" opacity="0.8"/>
<circle cx="330.8" cy="272.5" r="0.45" fill="#64307F" opacity="0.8"/>
<circle cx="331.9" cy="274.2" r="0.45" fill="#64307F" opacity="0.8"/>
<circle cx="330.5" cy="274.4" r="0.45" fill="#64307F" opacity="0.8"/>
<circle cx="282.8" cy="269.4" r="4.9" fill="#BE80BA" stroke="#64307F" stroke-width="1.2" stroke-opacity="0.75"/>
<circle cx="283.5" cy="270.4" r="0.45" fill="#64307F" opacity="0.8"/>
<circle cx="282.5" cy="270.4" r="0.45" fill="#64307F" opacity="0.8"/>
<circle cx="283.4" cy="268.4" r="0.45" fill="#64307F" opacity="0.8"/>
<circle cx="283.2" cy="269.4" r="0.45" fill="#64307F" opacity="0.8"/>
<circle cx="282.8" cy="269.6" r="0.45" fill="#64307F" opacity="0.8"/>
<circle cx="282.6" cy="268.8" r="0.45" fill="#64307F" opacity="0.8"/>
<circle cx="337.2" cy="217.0" r="3.1" fill="#BE80BA" stroke="#64307F" stroke-width="1.2" stroke-opacity="0.75"/>
<circle cx="337.4" cy="217.8" r="0.45" fill="#64307F" opacity="0.8"/>
<circle cx="338.3" cy="216.9" r="0.45" fill="#64307F" opacity="0.8"/>
<circle cx="338.5" cy="216.6" r="0.45" fill="#64307F" opacity="0.8"/>
<circle cx="336.9" cy="216.9" r="0.45" fill="#64307F" opacity="0.8"/>
<circle cx="337.3" cy="216.6" r="0.45" fill="#64307F" opacity="0.8"/>
<circle cx="337.7" cy="217.2" r="0.45" fill="#64307F" opacity="0.8"/>
<circle cx="290.7" cy="231.8" r="2.7" fill="#BE80BA" fill-opacity="0.5" stroke="#64307F" stroke-opacity="0.45" stroke-width="0.8"/>
<circle cx="276.8" cy="233.8" r="2.7" fill="#BE80BA" fill-opacity="0.5" stroke="#64307F" stroke-opacity="0.45" stroke-width="0.8"/>
<circle cx="206.8" cy="290.9" r="4.4" fill="#BE80BA" stroke="#64307F" stroke-width="1.2" stroke-opacity="0.75"/>
<circle cx="206.7" cy="289.7" r="0.45" fill="#64307F" opacity="0.8"/>
<circle cx="206.6" cy="291.1" r="0.45" fill="#64307F" opacity="0.8"/>
<circle cx="207.3" cy="292.0" r="0.45" fill="#64307F" opacity="0.8"/>
<circle cx="205.7" cy="291.0" r="0.45" fill="#64307F" opacity="0.8"/>
<circle cx="206.7" cy="289.8" r="0.45" fill="#64307F" opacity="0.8"/>
<circle cx="208.0" cy="289.6" r="0.45" fill="#64307F" opacity="0.8"/>
<circle cx="219.6" cy="302.2" r="4.4" fill="#BE80BA" stroke="#64307F" stroke-width="1.2" stroke-opacity="0.75"/>
<circle cx="218.9" cy="302.1" r="0.45" fill="#64307F" opacity="0.8"/>
<circle cx="219.1" cy="302.2" r="0.45" fill="#64307F" opacity="0.8"/>
<circle cx="220.3" cy="303.5" r="0.45" fill="#64307F" opacity="0.8"/>
<circle cx="219.6" cy="302.2" r="0.45" fill="#64307F" opacity="0.8"/>
<circle cx="219.1" cy="302.6" r="0.45" fill="#64307F" opacity="0.8"/>
<circle cx="219.7" cy="302.2" r="0.45" fill="#64307F" opacity="0.8"/>
<circle cx="240.4" cy="287.0" r="3.5" fill="#BE80BA" stroke="#64307F" stroke-width="1.2" stroke-opacity="0.75"/>
<circle cx="239.5" cy="286.1" r="0.45" fill="#64307F" opacity="0.8"/>
<circle cx="240.9" cy="286.2" r="0.45" fill="#64307F" opacity="0.8"/>
<circle cx="240.6" cy="288.0" r="0.45" fill="#64307F" opacity="0.8"/>
<circle cx="240.4" cy="287.3" r="0.45" fill="#64307F" opacity="0.8"/>
<circle cx="240.3" cy="287.2" r="0.45" fill="#64307F" opacity="0.8"/>
<circle cx="241.6" cy="288.0" r="0.45" fill="#64307F" opacity="0.8"/>
<circle cx="200.8" cy="306.8" r="3.5" fill="#BE80BA" fill-opacity="0.5" stroke="#64307F" stroke-opacity="0.45" stroke-width="0.8"/>
<circle cx="195.9" cy="316.7" r="3.1" fill="#BE80BA" fill-opacity="0.5" stroke="#64307F" stroke-opacity="0.45" stroke-width="0.8"/>
<circle cx="228.9" cy="326.2" r="4.4" fill="#BE80BA" stroke="#64307F" stroke-width="1.2" stroke-opacity="0.75"/>
<circle cx="230.6" cy="327.2" r="0.45" fill="#64307F" opacity="0.8"/>
<circle cx="228.4" cy="324.8" r="0.45" fill="#64307F" opacity="0.8"/>
<circle cx="230.0" cy="327.1" r="0.45" fill="#64307F" opacity="0.8"/>
<circle cx="229.3" cy="327.1" r="0.45" fill="#64307F" opacity="0.8"/>
<circle cx="227.2" cy="326.7" r="0.45" fill="#64307F" opacity="0.8"/>
<circle cx="229.0" cy="326.2" r="0.45" fill="#64307F" opacity="0.8"/>
<circle cx="203.8" cy="336.5" r="4.0" fill="#BE80BA" stroke="#64307F" stroke-width="1.2" stroke-opacity="0.75"/>
<circle cx="203.0" cy="336.0" r="0.45" fill="#64307F" opacity="0.8"/>
<circle cx="203.7" cy="336.4" r="0.45" fill="#64307F" opacity="0.8"/>
<circle cx="202.9" cy="337.4" r="0.45" fill="#64307F" opacity="0.8"/>
<circle cx="203.3" cy="336.2" r="0.45" fill="#64307F" opacity="0.8"/>
<circle cx="203.9" cy="336.5" r="0.45" fill="#64307F" opacity="0.8"/>
<circle cx="204.2" cy="336.2" r="0.45" fill="#64307F" opacity="0.8"/>
<circle cx="197.9" cy="336.5" r="2.7" fill="#BE80BA" stroke="#64307F" stroke-width="1.2" stroke-opacity="0.75"/>
<circle cx="198.2" cy="336.6" r="0.45" fill="#64307F" opacity="0.8"/>
<circle cx="198.0" cy="337.1" r="0.45" fill="#64307F" opacity="0.8"/>
<circle cx="198.5" cy="336.7" r="0.45" fill="#64307F" opacity="0.8"/>
<circle cx="197.5" cy="336.0" r="0.45" fill="#64307F" opacity="0.8"/>
<circle cx="197.6" cy="336.3" r="0.45" fill="#64307F" opacity="0.8"/>
<circle cx="197.2" cy="337.0" r="0.45" fill="#64307F" opacity="0.8"/>
<circle cx="217.7" cy="341.4" r="3.5" fill="#BE80BA" stroke="#64307F" stroke-width="1.2" stroke-opacity="0.75"/>
<circle cx="217.4" cy="342.7" r="0.45" fill="#64307F" opacity="0.8"/>
<circle cx="217.9" cy="342.1" r="0.45" fill="#64307F" opacity="0.8"/>
<circle cx="218.5" cy="340.8" r="0.45" fill="#64307F" opacity="0.8"/>
<circle cx="217.6" cy="342.0" r="0.45" fill="#64307F" opacity="0.8"/>
<circle cx="217.4" cy="342.6" r="0.45" fill="#64307F" opacity="0.8"/>
<circle cx="216.8" cy="342.4" r="0.45" fill="#64307F" opacity="0.8"/>
<circle cx="256.3" cy="287.0" r="3.5" fill="#BE80BA" stroke="#64307F" stroke-width="1.2" stroke-opacity="0.75"/>
<circle cx="255.8" cy="285.7" r="0.45" fill="#64307F" opacity="0.8"/>
<circle cx="255.8" cy="286.9" r="0.45" fill="#64307F" opacity="0.8"/>
<circle cx="256.0" cy="286.3" r="0.45" fill="#64307F" opacity="0.8"/>
<circle cx="256.9" cy="287.2" r="0.45" fill="#64307F" opacity="0.8"/>
<circle cx="256.3" cy="287.1" r="0.45" fill="#64307F" opacity="0.8"/>
<circle cx="256.1" cy="288.5" r="0.45" fill="#64307F" opacity="0.8"/>
<circle cx="257.3" cy="304.8" r="3.5" fill="#BE80BA" stroke="#64307F" stroke-width="1.2" stroke-opacity="0.75"/>
<circle cx="256.9" cy="304.2" r="0.45" fill="#64307F" opacity="0.8"/>
<circle cx="256.7" cy="304.5" r="0.45" fill="#64307F" opacity="0.8"/>
<circle cx="256.9" cy="304.6" r="0.45" fill="#64307F" opacity="0.8"/>
<circle cx="258.0" cy="303.8" r="0.45" fill="#64307F" opacity="0.8"/>
<circle cx="256.4" cy="305.1" r="0.45" fill="#64307F" opacity="0.8"/>
<circle cx="256.4" cy="305.7" r="0.45" fill="#64307F" opacity="0.8"/>
<circle cx="258.2" cy="322.6" r="3.1" fill="#BE80BA" stroke="#64307F" stroke-width="1.2" stroke-opacity="0.75"/>
<circle cx="258.9" cy="321.5" r="0.45" fill="#64307F" opacity="0.8"/>
<circle cx="259.2" cy="323.4" r="0.45" fill="#64307F" opacity="0.8"/>
<circle cx="258.3" cy="322.8" r="0.45" fill="#64307F" opacity="0.8"/>
<circle cx="257.5" cy="323.1" r="0.45" fill="#64307F" opacity="0.8"/>
<circle cx="258.9" cy="323.2" r="0.45" fill="#64307F" opacity="0.8"/>
<circle cx="259.3" cy="322.4" r="0.45" fill="#64307F" opacity="0.8"/>
<circle cx="303.0" cy="286.4" r="4.9" fill="#BE80BA" stroke="#64307F" stroke-width="1.2" stroke-opacity="0.75"/>
<circle cx="303.1" cy="286.1" r="0.45" fill="#64307F" opacity="0.8"/>
<circle cx="302.7" cy="286.8" r="0.45" fill="#64307F" opacity="0.8"/>
<circle cx="301.7" cy="287.8" r="0.45" fill="#64307F" opacity="0.8"/>
<circle cx="303.6" cy="286.4" r="0.45" fill="#64307F" opacity="0.8"/>
<circle cx="301.7" cy="285.9" r="0.45" fill="#64307F" opacity="0.8"/>
<circle cx="304.0" cy="286.2" r="0.45" fill="#64307F" opacity="0.8"/>
<circle cx="266.5" cy="299.4" r="4.4" fill="#BE80BA" stroke="#64307F" stroke-width="1.2" stroke-opacity="0.75"/>
<circle cx="266.7" cy="299.6" r="0.45" fill="#64307F" opacity="0.8"/>
<circle cx="267.1" cy="300.2" r="0.45" fill="#64307F" opacity="0.8"/>
<circle cx="267.7" cy="300.2" r="0.45" fill="#64307F" opacity="0.8"/>
<circle cx="266.6" cy="299.5" r="0.45" fill="#64307F" opacity="0.8"/>
<circle cx="266.4" cy="298.5" r="0.45" fill="#64307F" opacity="0.8"/>
<circle cx="266.6" cy="298.3" r="0.45" fill="#64307F" opacity="0.8"/>
<circle cx="269.9" cy="328.0" r="4.4" fill="#BE80BA" stroke="#64307F" stroke-width="1.2" stroke-opacity="0.75"/>
<circle cx="269.8" cy="328.1" r="0.45" fill="#64307F" opacity="0.8"/>
<circle cx="270.7" cy="326.9" r="0.45" fill="#64307F" opacity="0.8"/>
<circle cx="269.9" cy="328.1" r="0.45" fill="#64307F" opacity="0.8"/>
<circle cx="268.6" cy="326.6" r="0.45" fill="#64307F" opacity="0.8"/>
<circle cx="269.8" cy="326.1" r="0.45" fill="#64307F" opacity="0.8"/>
<circle cx="270.2" cy="327.9" r="0.45" fill="#64307F" opacity="0.8"/>
<circle cx="337.2" cy="297.9" r="3.5" fill="#BE80BA" stroke="#64307F" stroke-width="1.2" stroke-opacity="0.75"/>
<circle cx="337.5" cy="298.5" r="0.45" fill="#64307F" opacity="0.8"/>
<circle cx="337.8" cy="298.4" r="0.45" fill="#64307F" opacity="0.8"/>
<circle cx="337.4" cy="297.5" r="0.45" fill="#64307F" opacity="0.8"/>
<circle cx="337.4" cy="297.5" r="0.45" fill="#64307F" opacity="0.8"/>
<circle cx="337.3" cy="297.7" r="0.45" fill="#64307F" opacity="0.8"/>
<circle cx="337.3" cy="297.9" r="0.45" fill="#64307F" opacity="0.8"/>
<circle cx="316.4" cy="299.8" r="4.9" fill="#BE80BA" fill-opacity="0.5" stroke="#64307F" stroke-opacity="0.45" stroke-width="0.8"/>
<circle cx="293.7" cy="289.9" r="3.1" fill="#BE80BA" stroke="#64307F" stroke-width="1.2" stroke-opacity="0.75"/>
<circle cx="293.6" cy="289.9" r="0.45" fill="#64307F" opacity="0.8"/>
<circle cx="293.5" cy="289.4" r="0.45" fill="#64307F" opacity="0.8"/>
<circle cx="294.1" cy="289.6" r="0.45" fill="#64307F" opacity="0.8"/>
<circle cx="294.2" cy="289.0" r="0.45" fill="#64307F" opacity="0.8"/>
<circle cx="292.9" cy="290.7" r="0.45" fill="#64307F" opacity="0.8"/>
<circle cx="293.0" cy="289.5" r="0.45" fill="#64307F" opacity="0.8"/>
<ellipse cx="220.6" cy="218.9" rx="2.7" ry="2.5" fill="#9A4AA8" opacity="0.28" transform="rotate(14 220.6 218.9)"/>
<ellipse cx="220.6" cy="218.9" rx="1.2" ry="1.1" fill="#55286E" opacity="0.74" transform="rotate(14 220.6 218.9)"/>
<ellipse cx="220.7" cy="219.3" rx="0.7" ry="1.3" fill="#55286E" opacity="0.55" transform="rotate(69 220.6 218.9)"/>
<ellipse cx="225.6" cy="220.9" rx="2.7" ry="2.5" fill="#9A4AA8" opacity="0.28" transform="rotate(26 225.6 220.9)"/>
<ellipse cx="225.6" cy="220.9" rx="1.2" ry="1.1" fill="#55286E" opacity="0.74" transform="rotate(26 225.6 220.9)"/>
<ellipse cx="225.6" cy="221.2" rx="0.7" ry="1.3" fill="#55286E" opacity="0.55" transform="rotate(56 225.6 220.9)"/>
<ellipse cx="230.5" cy="216.0" rx="3.4" ry="3.2" fill="#9A4AA8" opacity="0.28" transform="rotate(-19 230.5 216.0)"/>
<ellipse cx="230.5" cy="216.0" rx="1.6" ry="1.4" fill="#55286E" opacity="0.74" transform="rotate(-19 230.5 216.0)"/>
<ellipse cx="230.6" cy="216.0" rx="0.9" ry="1.6" fill="#55286E" opacity="0.55" transform="rotate(20 230.5 216.0)"/>
<ellipse cx="229.5" cy="223.9" rx="2.7" ry="2.5" fill="#9A4AA8" opacity="0.28" transform="rotate(-28 229.5 223.9)"/>
<ellipse cx="229.5" cy="223.9" rx="1.2" ry="1.1" fill="#55286E" opacity="0.74" transform="rotate(-28 229.5 223.9)"/>
<ellipse cx="229.3" cy="223.7" rx="0.7" ry="1.3" fill="#55286E" opacity="0.55" transform="rotate(33 229.5 223.9)"/>
<ellipse cx="235.5" cy="220.9" rx="2.7" ry="2.5" fill="#9A4AA8" opacity="0.28" transform="rotate(21 235.5 220.9)"/>
<ellipse cx="235.5" cy="220.9" rx="1.2" ry="1.1" fill="#55286E" opacity="0.74" transform="rotate(21 235.5 220.9)"/>
<ellipse cx="235.8" cy="220.9" rx="0.7" ry="1.3" fill="#55286E" opacity="0.55" transform="rotate(61 235.5 220.9)"/>
<ellipse cx="237.5" cy="226.9" rx="2.7" ry="2.5" fill="#9A4AA8" opacity="0.28" transform="rotate(-31 237.5 226.9)"/>
<ellipse cx="237.5" cy="226.9" rx="1.2" ry="1.1" fill="#55286E" opacity="0.74" transform="rotate(-31 237.5 226.9)"/>
<ellipse cx="237.5" cy="226.9" rx="0.7" ry="1.3" fill="#55286E" opacity="0.55" transform="rotate(10 237.5 226.9)"/>
<ellipse cx="232.5" cy="233.8" rx="3.4" ry="3.2" fill="#9A4AA8" opacity="0.28" transform="rotate(-21 232.5 233.8)"/>
<ellipse cx="232.5" cy="233.8" rx="1.6" ry="1.4" fill="#55286E" opacity="0.74" transform="rotate(-21 232.5 233.8)"/>
<ellipse cx="232.4" cy="233.8" rx="0.9" ry="1.6" fill="#55286E" opacity="0.55" transform="rotate(50 232.5 233.8)"/>
<ellipse cx="187.0" cy="226.9" rx="2.7" ry="2.5" fill="#9A4AA8" opacity="0.28" transform="rotate(-36 187.0 226.9)"/>
<ellipse cx="187.0" cy="226.9" rx="1.2" ry="1.1" fill="#55286E" opacity="0.74" transform="rotate(-36 187.0 226.9)"/>
<ellipse cx="186.7" cy="227.2" rx="0.7" ry="1.3" fill="#55286E" opacity="0.55" transform="rotate(29 187.0 226.9)"/>
<ellipse cx="191.9" cy="233.8" rx="2.7" ry="2.5" fill="#9A4AA8" opacity="0.28" transform="rotate(-14 191.9 233.8)"/>
<ellipse cx="191.9" cy="233.8" rx="1.2" ry="1.1" fill="#55286E" opacity="0.74" transform="rotate(-14 191.9 233.8)"/>
<ellipse cx="191.7" cy="233.8" rx="0.7" ry="1.3" fill="#55286E" opacity="0.55" transform="rotate(73 191.9 233.8)"/>
<ellipse cx="197.9" cy="235.8" rx="2.7" ry="2.5" fill="#9A4AA8" opacity="0.28" transform="rotate(32 197.9 235.8)"/>
<ellipse cx="197.9" cy="235.8" rx="1.2" ry="1.1" fill="#55286E" opacity="0.74" transform="rotate(32 197.9 235.8)"/>
<ellipse cx="198.0" cy="235.3" rx="0.7" ry="1.3" fill="#55286E" opacity="0.55" transform="rotate(105 197.9 235.8)"/>
<ellipse cx="201.8" cy="240.7" rx="2.7" ry="2.5" fill="#9A4AA8" opacity="0.28" transform="rotate(-9 201.8 240.7)"/>
<ellipse cx="201.8" cy="240.7" rx="1.2" ry="1.1" fill="#55286E" opacity="0.74" transform="rotate(-9 201.8 240.7)"/>
<ellipse cx="202.2" cy="241.2" rx="0.7" ry="1.3" fill="#55286E" opacity="0.55" transform="rotate(23 201.8 240.7)"/>
<ellipse cx="206.8" cy="242.7" rx="2.7" ry="2.5" fill="#9A4AA8" opacity="0.28" transform="rotate(0 206.8 242.7)"/>
<ellipse cx="206.8" cy="242.7" rx="1.2" ry="1.1" fill="#55286E" opacity="0.74" transform="rotate(0 206.8 242.7)"/>
<ellipse cx="207.0" cy="242.7" rx="0.7" ry="1.3" fill="#55286E" opacity="0.55" transform="rotate(64 206.8 242.7)"/>
<ellipse cx="188.0" cy="240.7" rx="2.7" ry="2.5" fill="#9A4AA8" opacity="0.28" transform="rotate(-34 188.0 240.7)"/>
<ellipse cx="188.0" cy="240.7" rx="1.2" ry="1.1" fill="#55286E" opacity="0.74" transform="rotate(-34 188.0 240.7)"/>
<ellipse cx="188.0" cy="240.6" rx="0.7" ry="1.3" fill="#55286E" opacity="0.55" transform="rotate(25 188.0 240.7)"/>
<ellipse cx="208.7" cy="248.6" rx="2.7" ry="2.5" fill="#9A4AA8" opacity="0.28" transform="rotate(6 208.7 248.6)"/>
<ellipse cx="208.7" cy="248.6" rx="1.2" ry="1.1" fill="#55286E" opacity="0.74" transform="rotate(6 208.7 248.6)"/>
<ellipse cx="208.3" cy="248.8" rx="0.7" ry="1.3" fill="#55286E" opacity="0.55" transform="rotate(71 208.7 248.6)"/>
<ellipse cx="213.7" cy="246.7" rx="2.7" ry="2.5" fill="#9A4AA8" opacity="0.28" transform="rotate(6 213.7 246.7)"/>
<ellipse cx="213.7" cy="246.7" rx="1.2" ry="1.1" fill="#55286E" opacity="0.74" transform="rotate(6 213.7 246.7)"/>
<ellipse cx="213.2" cy="246.3" rx="0.7" ry="1.3" fill="#55286E" opacity="0.55" transform="rotate(67 213.7 246.7)"/>
<ellipse cx="219.6" cy="253.6" rx="2.7" ry="2.5" fill="#9A4AA8" opacity="0.28" transform="rotate(-11 219.6 253.6)"/>
<ellipse cx="219.6" cy="253.6" rx="1.2" ry="1.1" fill="#55286E" opacity="0.74" transform="rotate(-11 219.6 253.6)"/>
<ellipse cx="219.5" cy="253.2" rx="0.7" ry="1.3" fill="#55286E" opacity="0.55" transform="rotate(25 219.6 253.6)"/>
<ellipse cx="200.8" cy="254.6" rx="2.0" ry="1.9" fill="#9A4AA8" opacity="0.28" transform="rotate(-3 200.8 254.6)"/>
<ellipse cx="200.8" cy="254.6" rx="0.9" ry="0.8" fill="#55286E" opacity="0.74" transform="rotate(-3 200.8 254.6)"/>
<ellipse cx="200.6" cy="254.9" rx="0.5" ry="1.0" fill="#55286E" opacity="0.55" transform="rotate(35 200.8 254.6)"/>
<ellipse cx="229.5" cy="248.6" rx="2.7" ry="2.5" fill="#9A4AA8" opacity="0.28" transform="rotate(17 229.5 248.6)"/>
<ellipse cx="229.5" cy="248.6" rx="1.2" ry="1.1" fill="#55286E" opacity="0.74" transform="rotate(17 229.5 248.6)"/>
<ellipse cx="229.8" cy="248.2" rx="0.7" ry="1.3" fill="#55286E" opacity="0.55" transform="rotate(99 229.5 248.6)"/>
<ellipse cx="231.5" cy="259.5" rx="2.7" ry="2.5" fill="#9A4AA8" opacity="0.28" transform="rotate(6 231.5 259.5)"/>
<ellipse cx="231.5" cy="259.5" rx="1.2" ry="1.1" fill="#55286E" opacity="0.74" transform="rotate(6 231.5 259.5)"/>
<ellipse cx="231.8" cy="259.9" rx="0.7" ry="1.3" fill="#55286E" opacity="0.55" transform="rotate(60 231.5 259.5)"/>
<ellipse cx="236.5" cy="260.5" rx="2.7" ry="2.5" fill="#9A4AA8" opacity="0.28" transform="rotate(19 236.5 260.5)"/>
<ellipse cx="236.5" cy="260.5" rx="1.2" ry="1.1" fill="#55286E" opacity="0.74" transform="rotate(19 236.5 260.5)"/>
<ellipse cx="236.4" cy="260.6" rx="0.7" ry="1.3" fill="#55286E" opacity="0.55" transform="rotate(102 236.5 260.5)"/>
<ellipse cx="241.4" cy="256.6" rx="2.7" ry="2.5" fill="#9A4AA8" opacity="0.28" transform="rotate(-10 241.4 256.6)"/>
<ellipse cx="241.4" cy="256.6" rx="1.2" ry="1.1" fill="#55286E" opacity="0.74" transform="rotate(-10 241.4 256.6)"/>
<ellipse cx="241.1" cy="256.1" rx="0.7" ry="1.3" fill="#55286E" opacity="0.55" transform="rotate(64 241.4 256.6)"/>
<ellipse cx="246.4" cy="264.5" rx="2.7" ry="2.5" fill="#9A4AA8" opacity="0.28" transform="rotate(22 246.4 264.5)"/>
<ellipse cx="246.4" cy="264.5" rx="1.2" ry="1.1" fill="#55286E" opacity="0.74" transform="rotate(22 246.4 264.5)"/>
<ellipse cx="246.1" cy="264.2" rx="0.7" ry="1.3" fill="#55286E" opacity="0.55" transform="rotate(83 246.4 264.5)"/>
<ellipse cx="242.4" cy="269.4" rx="2.7" ry="2.5" fill="#9A4AA8" opacity="0.28" transform="rotate(-18 242.4 269.4)"/>
<ellipse cx="242.4" cy="269.4" rx="1.2" ry="1.1" fill="#55286E" opacity="0.74" transform="rotate(-18 242.4 269.4)"/>
<ellipse cx="242.1" cy="269.2" rx="0.7" ry="1.3" fill="#55286E" opacity="0.55" transform="rotate(24 242.4 269.4)"/>
<ellipse cx="242.4" cy="274.4" rx="3.4" ry="3.2" fill="#9A4AA8" opacity="0.28" transform="rotate(-15 242.4 274.4)"/>
<ellipse cx="242.4" cy="274.4" rx="1.6" ry="1.4" fill="#55286E" opacity="0.74" transform="rotate(-15 242.4 274.4)"/>
<ellipse cx="242.0" cy="274.7" rx="0.9" ry="1.6" fill="#55286E" opacity="0.55" transform="rotate(69 242.4 274.4)"/>
<ellipse cx="247.4" cy="267.4" rx="2.7" ry="2.5" fill="#9A4AA8" opacity="0.28" transform="rotate(11 247.4 267.4)"/>
<ellipse cx="247.4" cy="267.4" rx="1.2" ry="1.1" fill="#55286E" opacity="0.74" transform="rotate(11 247.4 267.4)"/>
<ellipse cx="247.6" cy="267.4" rx="0.7" ry="1.3" fill="#55286E" opacity="0.55" transform="rotate(100 247.4 267.4)"/>
<ellipse cx="187.0" cy="277.3" rx="2.7" ry="2.5" fill="#9A4AA8" opacity="0.28" transform="rotate(38 187.0 277.3)"/>
<ellipse cx="187.0" cy="277.3" rx="1.2" ry="1.1" fill="#55286E" opacity="0.74" transform="rotate(38 187.0 277.3)"/>
<ellipse cx="187.0" cy="277.4" rx="0.7" ry="1.3" fill="#55286E" opacity="0.55" transform="rotate(69 187.0 277.3)"/>
<ellipse cx="214.7" cy="276.4" rx="2.7" ry="2.5" fill="#9A4AA8" opacity="0.28" transform="rotate(5 214.7 276.4)"/>
<ellipse cx="214.7" cy="276.4" rx="1.2" ry="1.1" fill="#55286E" opacity="0.74" transform="rotate(5 214.7 276.4)"/>
<ellipse cx="214.2" cy="276.1" rx="0.7" ry="1.3" fill="#55286E" opacity="0.55" transform="rotate(93 214.7 276.4)"/>
<ellipse cx="213.7" cy="231.8" rx="2.7" ry="2.5" fill="#9A4AA8" opacity="0.28" transform="rotate(40 213.7 231.8)"/>
<ellipse cx="213.7" cy="231.8" rx="1.2" ry="1.1" fill="#55286E" opacity="0.74" transform="rotate(40 213.7 231.8)"/>
<ellipse cx="213.8" cy="232.0" rx="0.7" ry="1.3" fill="#55286E" opacity="0.55" transform="rotate(124 213.7 231.8)"/>
<ellipse cx="209.7" cy="234.8" rx="2.7" ry="2.5" fill="#9A4AA8" opacity="0.28" transform="rotate(-30 209.7 234.8)"/>
<ellipse cx="209.7" cy="234.8" rx="1.2" ry="1.1" fill="#55286E" opacity="0.74" transform="rotate(-30 209.7 234.8)"/>
<ellipse cx="209.9" cy="235.2" rx="0.7" ry="1.3" fill="#55286E" opacity="0.55" transform="rotate(29 209.7 234.8)"/>
<ellipse cx="246.4" cy="216.0" rx="2.7" ry="2.5" fill="#9A4AA8" opacity="0.28" transform="rotate(26 246.4 216.0)"/>
<ellipse cx="246.4" cy="216.0" rx="1.2" ry="1.1" fill="#55286E" opacity="0.74" transform="rotate(26 246.4 216.0)"/>
<ellipse cx="246.9" cy="215.9" rx="0.7" ry="1.3" fill="#55286E" opacity="0.55" transform="rotate(98 246.4 216.0)"/>
<ellipse cx="258.2" cy="217.9" rx="2.0" ry="1.9" fill="#9A4AA8" opacity="0.28" transform="rotate(-24 258.2 217.9)"/>
<ellipse cx="258.2" cy="217.9" rx="0.9" ry="0.8" fill="#55286E" opacity="0.74" transform="rotate(-24 258.2 217.9)"/>
<ellipse cx="258.1" cy="218.2" rx="0.5" ry="1.0" fill="#55286E" opacity="0.55" transform="rotate(40 258.2 217.9)"/>
<ellipse cx="271.9" cy="226.9" rx="3.4" ry="2.5" fill="#9A4AA8" opacity="0.28" transform="rotate(18 271.9 226.9)"/>
<ellipse cx="271.9" cy="226.9" rx="1.6" ry="1.1" fill="#55286E" opacity="0.74" transform="rotate(18 271.9 226.9)"/>
<ellipse cx="271.4" cy="226.4" rx="0.9" ry="1.3" fill="#55286E" opacity="0.55" transform="rotate(77 271.9 226.9)"/>
<ellipse cx="266.0" cy="227.8" rx="3.4" ry="1.9" fill="#9A4AA8" opacity="0.28" transform="rotate(-5 266.0 227.8)"/>
<ellipse cx="266.0" cy="227.8" rx="1.6" ry="0.8" fill="#55286E" opacity="0.74" transform="rotate(-5 266.0 227.8)"/>
<ellipse cx="265.8" cy="227.4" rx="0.9" ry="1.0" fill="#55286E" opacity="0.55" transform="rotate(44 266.0 227.8)"/>
<ellipse cx="269.9" cy="259.1" rx="5.4" ry="1.9" fill="#9A4AA8" opacity="0.28" transform="rotate(3 269.9 259.1)"/>
<ellipse cx="269.9" cy="259.1" rx="2.5" ry="0.8" fill="#55286E" opacity="0.74" transform="rotate(3 269.9 259.1)"/>
<ellipse cx="270.4" cy="259.0" rx="1.4" ry="1.0" fill="#55286E" opacity="0.55" transform="rotate(67 269.9 259.1)"/>
<ellipse cx="336.2" cy="233.8" rx="2.7" ry="2.5" fill="#9A4AA8" opacity="0.28" transform="rotate(-3 336.2 233.8)"/>
<ellipse cx="336.2" cy="233.8" rx="1.2" ry="1.1" fill="#55286E" opacity="0.74" transform="rotate(-3 336.2 233.8)"/>
<ellipse cx="335.9" cy="233.3" rx="0.7" ry="1.3" fill="#55286E" opacity="0.55" transform="rotate(83 336.2 233.8)"/>
<ellipse cx="330.3" cy="250.6" rx="2.7" ry="3.2" fill="#9A4AA8" opacity="0.28" transform="rotate(16 330.3 250.6)"/>
<ellipse cx="330.3" cy="250.6" rx="1.2" ry="1.4" fill="#55286E" opacity="0.74" transform="rotate(16 330.3 250.6)"/>
<ellipse cx="330.2" cy="250.3" rx="0.7" ry="1.6" fill="#55286E" opacity="0.55" transform="rotate(103 330.3 250.6)"/>
<ellipse cx="335.3" cy="248.6" rx="2.0" ry="3.2" fill="#9A4AA8" opacity="0.28" transform="rotate(-29 335.3 248.6)"/>
<ellipse cx="335.3" cy="248.6" rx="0.9" ry="1.4" fill="#55286E" opacity="0.74" transform="rotate(-29 335.3 248.6)"/>
<ellipse cx="335.0" cy="248.9" rx="0.5" ry="1.6" fill="#55286E" opacity="0.55" transform="rotate(45 335.3 248.6)"/>
<ellipse cx="309.5" cy="272.4" rx="3.4" ry="1.6" fill="#9A4AA8" opacity="0.28" transform="rotate(22 309.5 272.4)"/>
<ellipse cx="309.5" cy="272.4" rx="1.6" ry="0.7" fill="#55286E" opacity="0.74" transform="rotate(22 309.5 272.4)"/>
<ellipse cx="309.6" cy="272.4" rx="0.9" ry="0.8" fill="#55286E" opacity="0.55" transform="rotate(110 309.5 272.4)"/>
<ellipse cx="277.8" cy="266.5" rx="2.7" ry="2.5" fill="#9A4AA8" opacity="0.28" transform="rotate(2 277.8 266.5)"/>
<ellipse cx="277.8" cy="266.5" rx="1.2" ry="1.1" fill="#55286E" opacity="0.74" transform="rotate(2 277.8 266.5)"/>
<ellipse cx="277.9" cy="266.9" rx="0.7" ry="1.3" fill="#55286E" opacity="0.55" transform="rotate(38 277.8 266.5)"/>
<ellipse cx="238.4" cy="320.6" rx="3.4" ry="3.2" fill="#9A4AA8" opacity="0.28" transform="rotate(26 238.4 320.6)"/>
<ellipse cx="238.4" cy="320.6" rx="1.6" ry="1.4" fill="#55286E" opacity="0.74" transform="rotate(26 238.4 320.6)"/>
<ellipse cx="238.3" cy="320.3" rx="0.9" ry="1.6" fill="#55286E" opacity="0.55" transform="rotate(102 238.4 320.6)"/>
<ellipse cx="242.4" cy="322.6" rx="3.4" ry="3.2" fill="#9A4AA8" opacity="0.28" transform="rotate(18 242.4 322.6)"/>
<ellipse cx="242.4" cy="322.6" rx="1.6" ry="1.4" fill="#55286E" opacity="0.74" transform="rotate(18 242.4 322.6)"/>
<ellipse cx="242.8" cy="322.6" rx="0.9" ry="1.6" fill="#55286E" opacity="0.55" transform="rotate(101 242.4 322.6)"/>
<ellipse cx="246.4" cy="320.6" rx="2.7" ry="2.5" fill="#9A4AA8" opacity="0.28" transform="rotate(21 246.4 320.6)"/>
<ellipse cx="246.4" cy="320.6" rx="1.2" ry="1.1" fill="#55286E" opacity="0.74" transform="rotate(21 246.4 320.6)"/>
<ellipse cx="246.8" cy="321.1" rx="0.7" ry="1.3" fill="#55286E" opacity="0.55" transform="rotate(60 246.4 320.6)"/>
<ellipse cx="244.4" cy="326.6" rx="3.4" ry="3.2" fill="#9A4AA8" opacity="0.28" transform="rotate(39 244.4 326.6)"/>
<ellipse cx="244.4" cy="326.6" rx="1.6" ry="1.4" fill="#55286E" opacity="0.74" transform="rotate(39 244.4 326.6)"/>
<ellipse cx="244.4" cy="326.2" rx="0.9" ry="1.6" fill="#55286E" opacity="0.55" transform="rotate(111 244.4 326.6)"/>
<ellipse cx="249.3" cy="330.5" rx="3.4" ry="3.2" fill="#9A4AA8" opacity="0.28" transform="rotate(27 249.3 330.5)"/>
<ellipse cx="249.3" cy="330.5" rx="1.6" ry="1.4" fill="#55286E" opacity="0.74" transform="rotate(27 249.3 330.5)"/>
<ellipse cx="249.4" cy="330.8" rx="0.9" ry="1.6" fill="#55286E" opacity="0.55" transform="rotate(71 249.3 330.5)"/>
<ellipse cx="242.4" cy="316.7" rx="2.7" ry="2.5" fill="#9A4AA8" opacity="0.28" transform="rotate(15 242.4 316.7)"/>
<ellipse cx="242.4" cy="316.7" rx="1.2" ry="1.1" fill="#55286E" opacity="0.74" transform="rotate(15 242.4 316.7)"/>
<ellipse cx="242.2" cy="316.8" rx="0.7" ry="1.3" fill="#55286E" opacity="0.55" transform="rotate(77 242.4 316.7)"/>
<ellipse cx="239.4" cy="325.6" rx="2.7" ry="2.5" fill="#9A4AA8" opacity="0.28" transform="rotate(15 239.4 325.6)"/>
<ellipse cx="239.4" cy="325.6" rx="1.2" ry="1.1" fill="#55286E" opacity="0.74" transform="rotate(15 239.4 325.6)"/>
<ellipse cx="239.5" cy="325.9" rx="0.7" ry="1.3" fill="#55286E" opacity="0.55" transform="rotate(62 239.4 325.6)"/>
<ellipse cx="235.5" cy="314.7" rx="2.7" ry="2.5" fill="#9A4AA8" opacity="0.28" transform="rotate(-4 235.5 314.7)"/>
<ellipse cx="235.5" cy="314.7" rx="1.2" ry="1.1" fill="#55286E" opacity="0.74" transform="rotate(-4 235.5 314.7)"/>
<ellipse cx="235.7" cy="314.3" rx="0.7" ry="1.3" fill="#55286E" opacity="0.55" transform="rotate(77 235.5 314.7)"/>
<ellipse cx="230.5" cy="310.7" rx="3.4" ry="3.2" fill="#9A4AA8" opacity="0.28" transform="rotate(-34 230.5 310.7)"/>
<ellipse cx="230.5" cy="310.7" rx="1.6" ry="1.4" fill="#55286E" opacity="0.74" transform="rotate(-34 230.5 310.7)"/>
<ellipse cx="230.1" cy="311.2" rx="0.9" ry="1.6" fill="#55286E" opacity="0.55" transform="rotate(37 230.5 310.7)"/>
<ellipse cx="248.3" cy="299.8" rx="2.0" ry="3.2" fill="#9A4AA8" opacity="0.28" transform="rotate(35 248.3 299.8)"/>
<ellipse cx="248.3" cy="299.8" rx="0.9" ry="1.4" fill="#55286E" opacity="0.74" transform="rotate(35 248.3 299.8)"/>
<ellipse cx="248.4" cy="300.0" rx="0.5" ry="1.6" fill="#55286E" opacity="0.55" transform="rotate(88 248.3 299.8)"/>
<ellipse cx="242.4" cy="303.8" rx="2.7" ry="2.5" fill="#9A4AA8" opacity="0.28" transform="rotate(-13 242.4 303.8)"/>
<ellipse cx="242.4" cy="303.8" rx="1.2" ry="1.1" fill="#55286E" opacity="0.74" transform="rotate(-13 242.4 303.8)"/>
<ellipse cx="242.0" cy="304.1" rx="0.7" ry="1.3" fill="#55286E" opacity="0.55" transform="rotate(51 242.4 303.8)"/>
<ellipse cx="219.6" cy="293.9" rx="2.7" ry="2.5" fill="#9A4AA8" opacity="0.28" transform="rotate(38 219.6 293.9)"/>
<ellipse cx="219.6" cy="293.9" rx="1.2" ry="1.1" fill="#55286E" opacity="0.74" transform="rotate(38 219.6 293.9)"/>
<ellipse cx="219.7" cy="293.5" rx="0.7" ry="1.3" fill="#55286E" opacity="0.55" transform="rotate(126 219.6 293.9)"/>
<ellipse cx="217.7" cy="289.0" rx="2.7" ry="2.5" fill="#9A4AA8" opacity="0.28" transform="rotate(-2 217.7 289.0)"/>
<ellipse cx="217.7" cy="289.0" rx="1.2" ry="1.1" fill="#55286E" opacity="0.74" transform="rotate(-2 217.7 289.0)"/>
<ellipse cx="217.8" cy="288.9" rx="0.7" ry="1.3" fill="#55286E" opacity="0.55" transform="rotate(39 217.7 289.0)"/>
<ellipse cx="224.6" cy="287.0" rx="2.7" ry="2.5" fill="#9A4AA8" opacity="0.28" transform="rotate(0 224.6 287.0)"/>
<ellipse cx="224.6" cy="287.0" rx="1.2" ry="1.1" fill="#55286E" opacity="0.74" transform="rotate(0 224.6 287.0)"/>
<ellipse cx="224.1" cy="287.3" rx="0.7" ry="1.3" fill="#55286E" opacity="0.55" transform="rotate(32 224.6 287.0)"/>
<ellipse cx="195.9" cy="297.9" rx="2.7" ry="2.5" fill="#9A4AA8" opacity="0.28" transform="rotate(-32 195.9 297.9)"/>
<ellipse cx="195.9" cy="297.9" rx="1.2" ry="1.1" fill="#55286E" opacity="0.74" transform="rotate(-32 195.9 297.9)"/>
<ellipse cx="195.7" cy="297.7" rx="0.7" ry="1.3" fill="#55286E" opacity="0.55" transform="rotate(49 195.9 297.9)"/>
<ellipse cx="219.6" cy="318.7" rx="2.7" ry="2.5" fill="#9A4AA8" opacity="0.28" transform="rotate(-28 219.6 318.7)"/>
<ellipse cx="219.6" cy="318.7" rx="1.2" ry="1.1" fill="#55286E" opacity="0.74" transform="rotate(-28 219.6 318.7)"/>
<ellipse cx="220.0" cy="318.7" rx="0.7" ry="1.3" fill="#55286E" opacity="0.55" transform="rotate(37 219.6 318.7)"/>
<ellipse cx="218.6" cy="326.6" rx="2.7" ry="2.5" fill="#9A4AA8" opacity="0.28" transform="rotate(-16 218.6 326.6)"/>
<ellipse cx="218.6" cy="326.6" rx="1.2" ry="1.1" fill="#55286E" opacity="0.74" transform="rotate(-16 218.6 326.6)"/>
<ellipse cx="218.8" cy="326.1" rx="0.7" ry="1.3" fill="#55286E" opacity="0.55" transform="rotate(37 218.6 326.6)"/>
<ellipse cx="232.5" cy="295.9" rx="2.0" ry="1.9" fill="#9A4AA8" opacity="0.28" transform="rotate(17 232.5 295.9)"/>
<ellipse cx="232.5" cy="295.9" rx="0.9" ry="0.8" fill="#55286E" opacity="0.74" transform="rotate(17 232.5 295.9)"/>
<ellipse cx="232.7" cy="296.3" rx="0.5" ry="1.0" fill="#55286E" opacity="0.55" transform="rotate(92 232.5 295.9)"/>
<ellipse cx="251.3" cy="342.4" rx="2.7" ry="2.5" fill="#9A4AA8" opacity="0.28" transform="rotate(-5 251.3 342.4)"/>
<ellipse cx="251.3" cy="342.4" rx="1.2" ry="1.1" fill="#55286E" opacity="0.74" transform="rotate(-5 251.3 342.4)"/>
<ellipse cx="251.0" cy="342.6" rx="0.7" ry="1.3" fill="#55286E" opacity="0.55" transform="rotate(60 251.3 342.4)"/>
<ellipse cx="245.4" cy="341.4" rx="2.7" ry="2.5" fill="#9A4AA8" opacity="0.28" transform="rotate(7 245.4 341.4)"/>
<ellipse cx="245.4" cy="341.4" rx="1.2" ry="1.1" fill="#55286E" opacity="0.74" transform="rotate(7 245.4 341.4)"/>
<ellipse cx="245.0" cy="341.9" rx="0.7" ry="1.3" fill="#55286E" opacity="0.55" transform="rotate(80 245.4 341.4)"/>
<ellipse cx="230.5" cy="340.4" rx="2.0" ry="1.9" fill="#9A4AA8" opacity="0.28" transform="rotate(0 230.5 340.4)"/>
<ellipse cx="230.5" cy="340.4" rx="0.9" ry="0.8" fill="#55286E" opacity="0.74" transform="rotate(0 230.5 340.4)"/>
<ellipse cx="230.8" cy="340.8" rx="0.5" ry="1.0" fill="#55286E" opacity="0.55" transform="rotate(47 230.5 340.4)"/>
<ellipse cx="280.4" cy="290.9" rx="2.7" ry="3.8" fill="#9A4AA8" opacity="0.28" transform="rotate(-27 280.4 290.9)"/>
<ellipse cx="280.4" cy="290.9" rx="1.2" ry="1.7" fill="#55286E" opacity="0.74" transform="rotate(-27 280.4 290.9)"/>
<ellipse cx="280.8" cy="290.5" rx="0.7" ry="2.0" fill="#55286E" opacity="0.55" transform="rotate(10 280.4 290.9)"/>
<ellipse cx="269.9" cy="313.7" rx="3.4" ry="3.2" fill="#9A4AA8" opacity="0.28" transform="rotate(-22 269.9 313.7)"/>
<ellipse cx="269.9" cy="313.7" rx="1.6" ry="1.4" fill="#55286E" opacity="0.74" transform="rotate(-22 269.9 313.7)"/>
<ellipse cx="269.6" cy="313.5" rx="0.9" ry="1.6" fill="#55286E" opacity="0.55" transform="rotate(22 269.9 313.7)"/>
<ellipse cx="275.9" cy="317.7" rx="2.0" ry="3.8" fill="#9A4AA8" opacity="0.28" transform="rotate(-16 275.9 317.7)"/>
<ellipse cx="275.9" cy="317.7" rx="0.9" ry="1.7" fill="#55286E" opacity="0.74" transform="rotate(-16 275.9 317.7)"/>
<ellipse cx="276.1" cy="318.0" rx="0.5" ry="2.0" fill="#55286E" opacity="0.55" transform="rotate(22 275.9 317.7)"/>
<ellipse cx="281.8" cy="312.7" rx="2.7" ry="2.5" fill="#9A4AA8" opacity="0.28" transform="rotate(-31 281.8 312.7)"/>
<ellipse cx="281.8" cy="312.7" rx="1.2" ry="1.1" fill="#55286E" opacity="0.74" transform="rotate(-31 281.8 312.7)"/>
<ellipse cx="282.2" cy="312.9" rx="0.7" ry="1.3" fill="#55286E" opacity="0.55" transform="rotate(29 281.8 312.7)"/>
<ellipse cx="296.6" cy="314.7" rx="2.7" ry="4.4" fill="#9A4AA8" opacity="0.28" transform="rotate(-30 296.6 314.7)"/>
<ellipse cx="296.6" cy="314.7" rx="1.2" ry="2.0" fill="#55286E" opacity="0.74" transform="rotate(-30 296.6 314.7)"/>
<ellipse cx="296.3" cy="314.4" rx="0.7" ry="2.3" fill="#55286E" opacity="0.55" transform="rotate(9 296.6 314.7)"/>
<ellipse cx="292.7" cy="320.6" rx="2.7" ry="2.5" fill="#9A4AA8" opacity="0.28" transform="rotate(-2 292.7 320.6)"/>
<ellipse cx="292.7" cy="320.6" rx="1.2" ry="1.1" fill="#55286E" opacity="0.74" transform="rotate(-2 292.7 320.6)"/>
<ellipse cx="293.1" cy="320.2" rx="0.7" ry="1.3" fill="#55286E" opacity="0.55" transform="rotate(85 292.7 320.6)"/>
<ellipse cx="285.8" cy="336.5" rx="2.7" ry="2.5" fill="#9A4AA8" opacity="0.28" transform="rotate(7 285.8 336.5)"/>
<ellipse cx="285.8" cy="336.5" rx="1.2" ry="1.1" fill="#55286E" opacity="0.74" transform="rotate(7 285.8 336.5)"/>
<ellipse cx="286.1" cy="336.7" rx="0.7" ry="1.3" fill="#55286E" opacity="0.55" transform="rotate(54 285.8 336.5)"/>
<ellipse cx="290.7" cy="336.5" rx="2.0" ry="1.9" fill="#9A4AA8" opacity="0.28" transform="rotate(-8 290.7 336.5)"/>
<ellipse cx="290.7" cy="336.5" rx="0.9" ry="0.8" fill="#55286E" opacity="0.74" transform="rotate(-8 290.7 336.5)"/>
<ellipse cx="291.2" cy="336.6" rx="0.5" ry="1.0" fill="#55286E" opacity="0.55" transform="rotate(24 290.7 336.5)"/>
<ellipse cx="333.3" cy="314.7" rx="2.0" ry="3.2" fill="#9A4AA8" opacity="0.28" transform="rotate(4 333.3 314.7)"/>
<ellipse cx="333.3" cy="314.7" rx="0.9" ry="1.4" fill="#55286E" opacity="0.74" transform="rotate(4 333.3 314.7)"/>
<ellipse cx="333.1" cy="314.6" rx="0.5" ry="1.6" fill="#55286E" opacity="0.55" transform="rotate(37 333.3 314.7)"/>
<ellipse cx="325.4" cy="341.4" rx="2.7" ry="2.5" fill="#9A4AA8" opacity="0.28" transform="rotate(24 325.4 341.4)"/>
<ellipse cx="325.4" cy="341.4" rx="1.2" ry="1.1" fill="#55286E" opacity="0.74" transform="rotate(24 325.4 341.4)"/>
<ellipse cx="325.6" cy="341.8" rx="0.7" ry="1.3" fill="#55286E" opacity="0.55" transform="rotate(63 325.4 341.4)"/>
<ellipse cx="335.3" cy="341.4" rx="2.7" ry="2.5" fill="#9A4AA8" opacity="0.28" transform="rotate(-2 335.3 341.4)"/>
<ellipse cx="335.3" cy="341.4" rx="1.2" ry="1.1" fill="#55286E" opacity="0.74" transform="rotate(-2 335.3 341.4)"/>
<ellipse cx="335.5" cy="341.4" rx="0.7" ry="1.3" fill="#55286E" opacity="0.55" transform="rotate(70 335.3 341.4)"/>
<ellipse cx="265.0" cy="307.8" rx="2.7" ry="2.5" fill="#9A4AA8" opacity="0.28" transform="rotate(-34 265.0 307.8)"/>
<ellipse cx="265.0" cy="307.8" rx="1.2" ry="1.1" fill="#55286E" opacity="0.74" transform="rotate(-34 265.0 307.8)"/>
<ellipse cx="264.8" cy="308.2" rx="0.7" ry="1.3" fill="#55286E" opacity="0.55" transform="rotate(47 265.0 307.8)"/>
<ellipse cx="274.9" cy="298.9" rx="2.7" ry="2.5" fill="#9A4AA8" opacity="0.28" transform="rotate(33 274.9 298.9)"/>
<ellipse cx="274.9" cy="298.9" rx="1.2" ry="1.1" fill="#55286E" opacity="0.74" transform="rotate(33 274.9 298.9)"/>
<ellipse cx="274.5" cy="298.8" rx="0.7" ry="1.3" fill="#55286E" opacity="0.55" transform="rotate(90 274.9 298.9)"/>
<ellipse cx="277.8" cy="307.8" rx="2.0" ry="1.9" fill="#9A4AA8" opacity="0.28" transform="rotate(-17 277.8 307.8)"/>
<ellipse cx="277.8" cy="307.8" rx="0.9" ry="0.8" fill="#55286E" opacity="0.74" transform="rotate(-17 277.8 307.8)"/>
<ellipse cx="278.1" cy="307.4" rx="0.5" ry="1.0" fill="#55286E" opacity="0.55" transform="rotate(19 277.8 307.8)"/>
</g>
<g filter="url(#b1)">
<circle cx="321.4" cy="352.3" r="1" fill="#D81850"/>
<circle cx="322.6" cy="352.9" r="0.7" fill="#fff"/>
<circle cx="324.4" cy="353.7" r="1" fill="#D81850"/>
<circle cx="325.6" cy="354.3" r="0.7" fill="#fff"/>
<circle cx="327.3" cy="351.7" r="1" fill="#D81850"/>
<circle cx="328.5" cy="352.3" r="0.7" fill="#fff"/>
<circle cx="330.3" cy="353.3" r="1" fill="#D81850"/>
<circle cx="331.5" cy="353.9" r="0.7" fill="#fff"/>
<circle cx="333.3" cy="352.3" r="1" fill="#D81850"/>
<circle cx="334.5" cy="352.9" r="0.7" fill="#fff"/>
<circle cx="335.9" cy="354.3" r="1" fill="#D81850"/>
<circle cx="337.0" cy="354.9" r="0.7" fill="#fff"/>
<circle cx="328.3" cy="354.9" r="1" fill="#D81850"/>
<circle cx="329.5" cy="355.5" r="0.7" fill="#fff"/>
</g>
<rect x="192" y="346" width="115" height="5" fill="#f6eefa" opacity="0.5"/>
<text x="250" y="350.3" font-size="3.6" font-style="italic" fill="#333" text-anchor="middle">20um</text>
</g>
<rect x="21.200000000000003" y="212.6" width="156.20000000000002" height="143.3" fill="none" stroke="#1a0a1a" stroke-width="1.2"/>
<rect x="183.79999999999998" y="212.6" width="156.20000000000002" height="143.3" fill="none" stroke="#1a0a1a" stroke-width="1.2"/>
<text x="101.5" y="206.3" font-size="8.9" text-anchor="middle" font-weight="bold" fill="#0a0a0a" textLength="127.8" lengthAdjust="spacingAndGlyphs">HBV/HDV-ΔL-HDAg (WT mice)</text>
<text x="262.3" y="206.3" font-size="8.9" text-anchor="middle" font-weight="bold" fill="#0a0a0a" textLength="139.8" lengthAdjust="spacingAndGlyphs">HBV/HDV-ΔL-HDAg (RagB6 mice)</text>
</svg>
</body></html>
